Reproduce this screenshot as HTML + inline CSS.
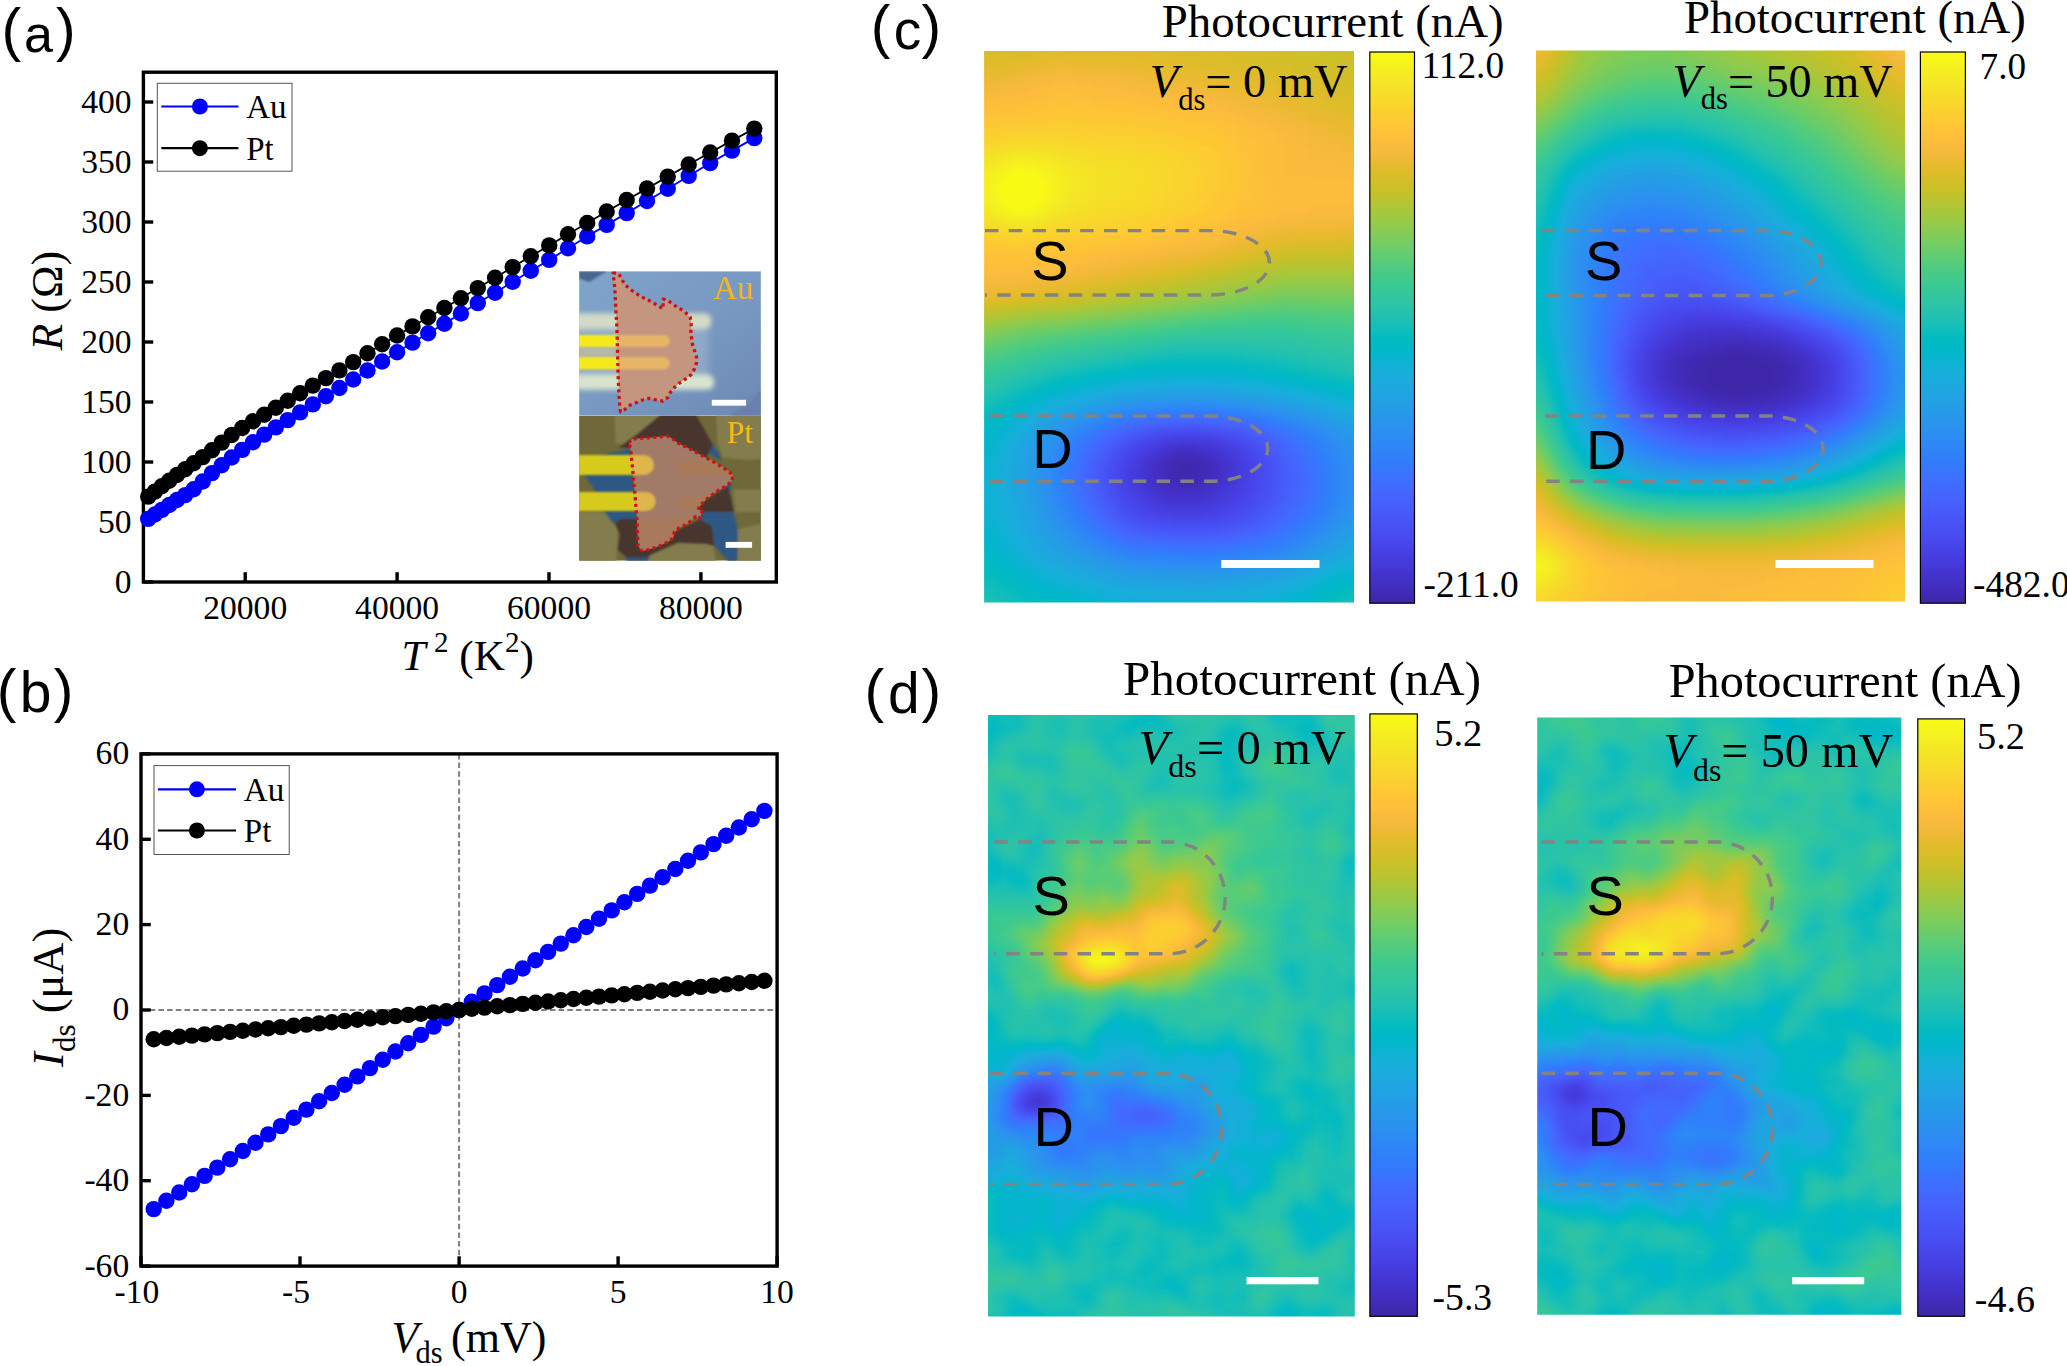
<!DOCTYPE html>
<html lang="en"><head><meta charset="utf-8"><title>Figure</title>
<style>html,body{margin:0;padding:0;background:#fff}svg{display:block}text{font-family:'Liberation Serif','Times New Roman',serif;fill:#000}.sans{font-family:'Liberation Sans','Noto Sans CJK SC',sans-serif}.it{font-style:italic}</style></head><body>
<svg width="2067" height="1366" viewBox="0 0 2067 1366">
<defs>
<linearGradient id="pg" x1="0" y1="0" x2="0" y2="1"><stop offset="0.0000" stop-color="rgb(249,251,21)"/><stop offset="0.0159" stop-color="rgb(247,245,27)"/><stop offset="0.0317" stop-color="rgb(246,239,32)"/><stop offset="0.0476" stop-color="rgb(245,233,36)"/><stop offset="0.0635" stop-color="rgb(245,227,39)"/><stop offset="0.0794" stop-color="rgb(247,220,42)"/><stop offset="0.0952" stop-color="rgb(250,214,45)"/><stop offset="0.1111" stop-color="rgb(252,207,48)"/><stop offset="0.1270" stop-color="rgb(254,201,52)"/><stop offset="0.1429" stop-color="rgb(254,195,56)"/><stop offset="0.1587" stop-color="rgb(254,190,60)"/><stop offset="0.1746" stop-color="rgb(248,186,61)"/><stop offset="0.1905" stop-color="rgb(240,186,54)"/><stop offset="0.2063" stop-color="rgb(230,187,45)"/><stop offset="0.2222" stop-color="rgb(220,189,41)"/><stop offset="0.2381" stop-color="rgb(209,191,39)"/><stop offset="0.2540" stop-color="rgb(197,194,42)"/><stop offset="0.2698" stop-color="rgb(185,196,49)"/><stop offset="0.2857" stop-color="rgb(171,199,57)"/><stop offset="0.3016" stop-color="rgb(157,201,67)"/><stop offset="0.3175" stop-color="rgb(143,203,78)"/><stop offset="0.3333" stop-color="rgb(129,204,89)"/><stop offset="0.3492" stop-color="rgb(114,205,100)"/><stop offset="0.3651" stop-color="rgb(100,205,111)"/><stop offset="0.3810" stop-color="rgb(87,204,122)"/><stop offset="0.3968" stop-color="rgb(74,203,132)"/><stop offset="0.4127" stop-color="rgb(63,202,142)"/><stop offset="0.4286" stop-color="rgb(55,200,151)"/><stop offset="0.4444" stop-color="rgb(49,198,159)"/><stop offset="0.4603" stop-color="rgb(44,196,167)"/><stop offset="0.4762" stop-color="rgb(36,193,174)"/><stop offset="0.4921" stop-color="rgb(25,191,182)"/><stop offset="0.5079" stop-color="rgb(11,189,189)"/><stop offset="0.5238" stop-color="rgb(2,186,195)"/><stop offset="0.5397" stop-color="rgb(1,184,202)"/><stop offset="0.5556" stop-color="rgb(8,181,208)"/><stop offset="0.5714" stop-color="rgb(18,177,214)"/><stop offset="0.5873" stop-color="rgb(24,173,219)"/><stop offset="0.6032" stop-color="rgb(28,169,223)"/><stop offset="0.6190" stop-color="rgb(32,165,227)"/><stop offset="0.6349" stop-color="rgb(35,160,229)"/><stop offset="0.6508" stop-color="rgb(37,155,232)"/><stop offset="0.6667" stop-color="rgb(39,151,235)"/><stop offset="0.6825" stop-color="rgb(43,145,239)"/><stop offset="0.6984" stop-color="rgb(45,140,243)"/><stop offset="0.7143" stop-color="rgb(46,135,247)"/><stop offset="0.7302" stop-color="rgb(47,129,250)"/><stop offset="0.7460" stop-color="rgb(50,124,252)"/><stop offset="0.7619" stop-color="rgb(56,117,254)"/><stop offset="0.7778" stop-color="rgb(62,111,255)"/><stop offset="0.7937" stop-color="rgb(66,105,254)"/><stop offset="0.8095" stop-color="rgb(69,99,253)"/><stop offset="0.8254" stop-color="rgb(70,94,251)"/><stop offset="0.8413" stop-color="rgb(71,88,248)"/><stop offset="0.8571" stop-color="rgb(72,82,244)"/><stop offset="0.8730" stop-color="rgb(72,77,240)"/><stop offset="0.8889" stop-color="rgb(71,71,235)"/><stop offset="0.9048" stop-color="rgb(71,65,229)"/><stop offset="0.9206" stop-color="rgb(70,60,222)"/><stop offset="0.9365" stop-color="rgb(69,55,213)"/><stop offset="0.9524" stop-color="rgb(67,50,203)"/><stop offset="0.9683" stop-color="rgb(66,46,192)"/><stop offset="0.9841" stop-color="rgb(64,42,180)"/><stop offset="1.0000" stop-color="rgb(62,38,168)"/></linearGradient>
<filter id="hfc1" filterUnits="userSpaceOnUse" x="924.1" y="-9" width="489.9" height="671.4" color-interpolation-filters="sRGB"><feGaussianBlur in="SourceGraphic" stdDeviation="10" result="b"/><feComponentTransfer in="b"><feFuncR type="table" tableValues=".242 .242 .242 .242 .242 .242 .242 .242 .242 .249 .255 .260 .266 .270 .274 .277 .279 .280 .281 .281 .280 .279 .276 .271 .264 .254 .240 .221 .202 .189 .182 .178 .177 .171 .162 .152 .146 .139 .130 .119 .108 .095 .075 .047 .021 .004 .006 .033 .070 .109 .143 .167 .186 .204 .223 .248 .282 .320 .359 .400 .443 .489 .534 .579 .623 .666 .707 .747 .785 .822 .856 .888 .918 .946 .972 .990 .996 .996 .994 .990 .982 .973 .966 .961 .960 .962 .965 .971 .977 .977 .977 .977 .977 .977 .977 .977 .977"/><feFuncG type="table" tableValues=".150 .150 .150 .150 .150 .150 .150 .150 .150 .162 .175 .188 .200 .214 .229 .245 .263 .280 .298 .315 .333 .350 .367 .385 .403 .421 .440 .459 .479 .497 .514 .531 .548 .564 .580 .595 .610 .625 .639 .653 .667 .680 .691 .702 .712 .722 .730 .738 .746 .752 .759 .766 .773 .780 .786 .792 .796 .799 .802 .803 .802 .800 .797 .792 .787 .780 .773 .765 .757 .749 .742 .736 .731 .729 .730 .740 .756 .774 .792 .811 .831 .851 .871 .891 .910 .929 .947 .966 .984 .984 .984 .984 .984 .984 .984 .984 .984"/><feFuncB type="table" tableValues=".660 .660 .660 .660 .660 .660 .660 .660 .660 .698 .733 .767 .801 .834 .861 .885 .906 .924 .939 .952 .964 .974 .983 .989 .993 .997 .999 .997 .991 .984 .976 .966 .954 .941 .929 .918 .907 .899 .892 .883 .873 .860 .844 .826 .808 .788 .768 .747 .726 .704 .682 .659 .636 .611 .584 .556 .526 .495 .463 .428 .393 .359 .325 .291 .257 .227 .201 .179 .162 .154 .159 .171 .190 .216 .239 .238 .228 .214 .201 .190 .180 .171 .161 .153 .144 .132 .118 .101 .081 .081 .081 .081 .081 .081 .081 .081 .081"/></feComponentTransfer></filter>
<clipPath id="cpc1"><rect x="984.1" y="51" width="369.9" height="551.4"/></clipPath>
<filter id="hfc2" filterUnits="userSpaceOnUse" x="1476" y="-9.6" width="489" height="671.2" color-interpolation-filters="sRGB"><feGaussianBlur in="SourceGraphic" stdDeviation="10" result="b"/><feComponentTransfer in="b"><feFuncR type="table" tableValues=".242 .242 .242 .242 .242 .242 .242 .242 .242 .249 .255 .260 .266 .270 .274 .277 .279 .280 .281 .281 .280 .279 .276 .271 .264 .254 .240 .221 .202 .189 .182 .178 .177 .171 .162 .152 .146 .139 .130 .119 .108 .095 .075 .047 .021 .004 .006 .033 .070 .109 .143 .167 .186 .204 .223 .248 .282 .320 .359 .400 .443 .489 .534 .579 .623 .666 .707 .747 .785 .822 .856 .888 .918 .946 .972 .990 .996 .996 .994 .990 .982 .973 .966 .961 .960 .962 .965 .971 .977 .977 .977 .977 .977 .977 .977 .977 .977"/><feFuncG type="table" tableValues=".150 .150 .150 .150 .150 .150 .150 .150 .150 .162 .175 .188 .200 .214 .229 .245 .263 .280 .298 .315 .333 .350 .367 .385 .403 .421 .440 .459 .479 .497 .514 .531 .548 .564 .580 .595 .610 .625 .639 .653 .667 .680 .691 .702 .712 .722 .730 .738 .746 .752 .759 .766 .773 .780 .786 .792 .796 .799 .802 .803 .802 .800 .797 .792 .787 .780 .773 .765 .757 .749 .742 .736 .731 .729 .730 .740 .756 .774 .792 .811 .831 .851 .871 .891 .910 .929 .947 .966 .984 .984 .984 .984 .984 .984 .984 .984 .984"/><feFuncB type="table" tableValues=".660 .660 .660 .660 .660 .660 .660 .660 .660 .698 .733 .767 .801 .834 .861 .885 .906 .924 .939 .952 .964 .974 .983 .989 .993 .997 .999 .997 .991 .984 .976 .966 .954 .941 .929 .918 .907 .899 .892 .883 .873 .860 .844 .826 .808 .788 .768 .747 .726 .704 .682 .659 .636 .611 .584 .556 .526 .495 .463 .428 .393 .359 .325 .291 .257 .227 .201 .179 .162 .154 .159 .171 .190 .216 .239 .238 .228 .214 .201 .190 .180 .171 .161 .153 .144 .132 .118 .101 .081 .081 .081 .081 .081 .081 .081 .081 .081"/></feComponentTransfer></filter>
<clipPath id="cpc2"><rect x="1536" y="50.4" width="369" height="551.2"/></clipPath>
<filter id="hfd1" filterUnits="userSpaceOnUse" x="928" y="654.9" width="486.8" height="721.7" color-interpolation-filters="sRGB"><feGaussianBlur in="SourceGraphic" stdDeviation="7" result="b"/><feTurbulence type="fractalNoise" baseFrequency="0.02" numOctaves="2" seed="3" result="t"/><feColorMatrix in="t" type="matrix" values="1 0 0 0 0  1 0 0 0 0  1 0 0 0 0  0 0 0 0 1" result="n"/><feComposite in="b" in2="n" operator="arithmetic" k1="0" k2="1" k3="0.150" k4="-0.075" result="m"/><feComponentTransfer in="m"><feFuncR type="table" tableValues=".242 .242 .242 .242 .242 .242 .242 .242 .242 .249 .255 .260 .266 .270 .274 .277 .279 .280 .281 .281 .280 .279 .276 .271 .264 .254 .240 .221 .202 .189 .182 .178 .177 .171 .162 .152 .146 .139 .130 .119 .108 .095 .075 .047 .021 .004 .006 .033 .070 .109 .143 .167 .186 .204 .223 .248 .282 .320 .359 .400 .443 .489 .534 .579 .623 .666 .707 .747 .785 .822 .856 .888 .918 .946 .972 .990 .996 .996 .994 .990 .982 .973 .966 .961 .960 .962 .965 .971 .977 .977 .977 .977 .977 .977 .977 .977 .977"/><feFuncG type="table" tableValues=".150 .150 .150 .150 .150 .150 .150 .150 .150 .162 .175 .188 .200 .214 .229 .245 .263 .280 .298 .315 .333 .350 .367 .385 .403 .421 .440 .459 .479 .497 .514 .531 .548 .564 .580 .595 .610 .625 .639 .653 .667 .680 .691 .702 .712 .722 .730 .738 .746 .752 .759 .766 .773 .780 .786 .792 .796 .799 .802 .803 .802 .800 .797 .792 .787 .780 .773 .765 .757 .749 .742 .736 .731 .729 .730 .740 .756 .774 .792 .811 .831 .851 .871 .891 .910 .929 .947 .966 .984 .984 .984 .984 .984 .984 .984 .984 .984"/><feFuncB type="table" tableValues=".660 .660 .660 .660 .660 .660 .660 .660 .660 .698 .733 .767 .801 .834 .861 .885 .906 .924 .939 .952 .964 .974 .983 .989 .993 .997 .999 .997 .991 .984 .976 .966 .954 .941 .929 .918 .907 .899 .892 .883 .873 .860 .844 .826 .808 .788 .768 .747 .726 .704 .682 .659 .636 .611 .584 .556 .526 .495 .463 .428 .393 .359 .325 .291 .257 .227 .201 .179 .162 .154 .159 .171 .190 .216 .239 .238 .228 .214 .201 .190 .180 .171 .161 .153 .144 .132 .118 .101 .081 .081 .081 .081 .081 .081 .081 .081 .081"/></feComponentTransfer></filter>
<clipPath id="cpd1"><rect x="988" y="714.9" width="366.8" height="601.7"/></clipPath>
<filter id="hfd2" filterUnits="userSpaceOnUse" x="1477.2" y="657.6" width="484.2" height="717.2" color-interpolation-filters="sRGB"><feGaussianBlur in="SourceGraphic" stdDeviation="7" result="b"/><feTurbulence type="fractalNoise" baseFrequency="0.02" numOctaves="2" seed="11" result="t"/><feColorMatrix in="t" type="matrix" values="1 0 0 0 0  1 0 0 0 0  1 0 0 0 0  0 0 0 0 1" result="n"/><feComposite in="b" in2="n" operator="arithmetic" k1="0" k2="1" k3="0.150" k4="-0.075" result="m"/><feComponentTransfer in="m"><feFuncR type="table" tableValues=".242 .242 .242 .242 .242 .242 .242 .242 .242 .249 .255 .260 .266 .270 .274 .277 .279 .280 .281 .281 .280 .279 .276 .271 .264 .254 .240 .221 .202 .189 .182 .178 .177 .171 .162 .152 .146 .139 .130 .119 .108 .095 .075 .047 .021 .004 .006 .033 .070 .109 .143 .167 .186 .204 .223 .248 .282 .320 .359 .400 .443 .489 .534 .579 .623 .666 .707 .747 .785 .822 .856 .888 .918 .946 .972 .990 .996 .996 .994 .990 .982 .973 .966 .961 .960 .962 .965 .971 .977 .977 .977 .977 .977 .977 .977 .977 .977"/><feFuncG type="table" tableValues=".150 .150 .150 .150 .150 .150 .150 .150 .150 .162 .175 .188 .200 .214 .229 .245 .263 .280 .298 .315 .333 .350 .367 .385 .403 .421 .440 .459 .479 .497 .514 .531 .548 .564 .580 .595 .610 .625 .639 .653 .667 .680 .691 .702 .712 .722 .730 .738 .746 .752 .759 .766 .773 .780 .786 .792 .796 .799 .802 .803 .802 .800 .797 .792 .787 .780 .773 .765 .757 .749 .742 .736 .731 .729 .730 .740 .756 .774 .792 .811 .831 .851 .871 .891 .910 .929 .947 .966 .984 .984 .984 .984 .984 .984 .984 .984 .984"/><feFuncB type="table" tableValues=".660 .660 .660 .660 .660 .660 .660 .660 .660 .698 .733 .767 .801 .834 .861 .885 .906 .924 .939 .952 .964 .974 .983 .989 .993 .997 .999 .997 .991 .984 .976 .966 .954 .941 .929 .918 .907 .899 .892 .883 .873 .860 .844 .826 .808 .788 .768 .747 .726 .704 .682 .659 .636 .611 .584 .556 .526 .495 .463 .428 .393 .359 .325 .291 .257 .227 .201 .179 .162 .154 .159 .171 .190 .216 .239 .238 .228 .214 .201 .190 .180 .171 .161 .153 .144 .132 .118 .101 .081 .081 .081 .081 .081 .081 .081 .081 .081"/></feComponentTransfer></filter>
<clipPath id="cpd2"><rect x="1537.2" y="717.6" width="364.2" height="597.2"/></clipPath>
</defs>
<rect width="2067" height="1366" fill="#fff"/>
<text class="sans" font-size="59"><tspan x="1.4" y="50">(</tspan><tspan x="24" y="51.5" font-size="52">a</tspan><tspan x="56" y="50">)</tspan></text>
<text class="sans" font-size="59"><tspan x="-3.2" y="710.8">(</tspan><tspan x="19.8" y="712" font-size="57">b</tspan><tspan x="53.7" y="710.8">)</tspan></text>
<text class="sans" font-size="59"><tspan x="870.7" y="46.8">(</tspan><tspan x="893.8" y="49.2" font-size="55">c</tspan><tspan x="921.4" y="46.8">)</tspan></text>
<text class="sans" font-size="59"><tspan x="864.5" y="710.8">(</tspan><tspan x="888.1" y="712.5" font-size="57">d</tspan><tspan x="921.4" y="710.8">)</tspan></text>
<rect x="143.4" y="72.2" width="632.9" height="509.8" fill="none" stroke="#000" stroke-width="3.4"/>
<g stroke="#000" stroke-width="3.4"><line x1="143.4" y1="582" x2="153.2" y2="582"/><line x1="143.4" y1="522" x2="153.2" y2="522"/><line x1="143.4" y1="462" x2="153.2" y2="462"/><line x1="143.4" y1="402" x2="153.2" y2="402"/><line x1="143.4" y1="342" x2="153.2" y2="342"/><line x1="143.4" y1="282" x2="153.2" y2="282"/><line x1="143.4" y1="222" x2="153.2" y2="222"/><line x1="143.4" y1="162" x2="153.2" y2="162"/><line x1="143.4" y1="102" x2="153.2" y2="102"/><line x1="245.2" y1="582" x2="245.2" y2="572.2"/><line x1="397.1" y1="582" x2="397.1" y2="572.2"/><line x1="549" y1="582" x2="549" y2="572.2"/><line x1="700.9" y1="582" x2="700.9" y2="572.2"/></g>
<polyline points="148.2,518.9 154.8,514.5 161.8,509.9 169.2,505 177,500 185.2,495.1 193.7,489.3 202.7,481.5 212,473.1 221.7,465.2 231.7,457.5 242.2,449.9 253,442.2 264.2,434.6 275.8,427.4 287.7,420.1 300.1,412.4 312.8,404.4 325.9,396.2 339.4,388 353.2,379.5 367.5,370.5 382.1,361.5 397.1,352.2 412.5,342.6 428.2,333.3 444.4,323.8 460.9,313.5 477.8,303.1 495.1,292.7 512.7,281.8 530.8,270.8 549.2,259.9 568,248.2 587.2,236.4 606.7,224.9 626.7,213.1 647,201 667.7,188.7 688.7,175.9 710.2,163.1 732,150.6 754.3,138.1" fill="none" stroke="#0000ff" stroke-width="1.8"/><g fill="#0000ff"><circle cx="148.2" cy="518.9" r="8.2"/><circle cx="154.8" cy="514.5" r="8.2"/><circle cx="161.8" cy="509.9" r="8.2"/><circle cx="169.2" cy="505" r="8.2"/><circle cx="177" cy="500" r="8.2"/><circle cx="185.2" cy="495.1" r="8.2"/><circle cx="193.7" cy="489.3" r="8.2"/><circle cx="202.7" cy="481.5" r="8.2"/><circle cx="212" cy="473.1" r="8.2"/><circle cx="221.7" cy="465.2" r="8.2"/><circle cx="231.7" cy="457.5" r="8.2"/><circle cx="242.2" cy="449.9" r="8.2"/><circle cx="253" cy="442.2" r="8.2"/><circle cx="264.2" cy="434.6" r="8.2"/><circle cx="275.8" cy="427.4" r="8.2"/><circle cx="287.7" cy="420.1" r="8.2"/><circle cx="300.1" cy="412.4" r="8.2"/><circle cx="312.8" cy="404.4" r="8.2"/><circle cx="325.9" cy="396.2" r="8.2"/><circle cx="339.4" cy="388" r="8.2"/><circle cx="353.2" cy="379.5" r="8.2"/><circle cx="367.5" cy="370.5" r="8.2"/><circle cx="382.1" cy="361.5" r="8.2"/><circle cx="397.1" cy="352.2" r="8.2"/><circle cx="412.5" cy="342.6" r="8.2"/><circle cx="428.2" cy="333.3" r="8.2"/><circle cx="444.4" cy="323.8" r="8.2"/><circle cx="460.9" cy="313.5" r="8.2"/><circle cx="477.8" cy="303.1" r="8.2"/><circle cx="495.1" cy="292.7" r="8.2"/><circle cx="512.7" cy="281.8" r="8.2"/><circle cx="530.8" cy="270.8" r="8.2"/><circle cx="549.2" cy="259.9" r="8.2"/><circle cx="568" cy="248.2" r="8.2"/><circle cx="587.2" cy="236.4" r="8.2"/><circle cx="606.7" cy="224.9" r="8.2"/><circle cx="626.7" cy="213.1" r="8.2"/><circle cx="647" cy="201" r="8.2"/><circle cx="667.7" cy="188.7" r="8.2"/><circle cx="688.7" cy="175.9" r="8.2"/><circle cx="710.2" cy="163.1" r="8.2"/><circle cx="732" cy="150.6" r="8.2"/><circle cx="754.3" cy="138.1" r="8.2"/></g>
<polyline points="148.2,496.6 154.8,491.6 161.8,486.3 169.2,480.7 177,475 185.2,469.2 193.7,463.3 202.7,457.1 212,450.2 221.7,442.6 231.7,435 242.2,428 253,421.3 264.2,414.7 275.8,407.8 287.7,400.7 300.1,393.2 312.8,385.6 325.9,378.1 339.4,370.4 353.2,362.1 367.5,353.2 382.1,344.3 397.1,335.5 412.5,326.4 428.2,317.2 444.4,308 460.9,298.3 477.8,288.1 495.1,277.7 512.7,267.1 530.8,256.3 549.2,245.4 568,234.3 587.2,223 606.7,211.5 626.7,200 647,188.5 667.7,176.6 688.7,164.5 710.2,152.5 732,140.6 754.3,128.6" fill="none" stroke="#000" stroke-width="1.8"/><g fill="#000"><circle cx="148.2" cy="496.6" r="8.2"/><circle cx="154.8" cy="491.6" r="8.2"/><circle cx="161.8" cy="486.3" r="8.2"/><circle cx="169.2" cy="480.7" r="8.2"/><circle cx="177" cy="475" r="8.2"/><circle cx="185.2" cy="469.2" r="8.2"/><circle cx="193.7" cy="463.3" r="8.2"/><circle cx="202.7" cy="457.1" r="8.2"/><circle cx="212" cy="450.2" r="8.2"/><circle cx="221.7" cy="442.6" r="8.2"/><circle cx="231.7" cy="435" r="8.2"/><circle cx="242.2" cy="428" r="8.2"/><circle cx="253" cy="421.3" r="8.2"/><circle cx="264.2" cy="414.7" r="8.2"/><circle cx="275.8" cy="407.8" r="8.2"/><circle cx="287.7" cy="400.7" r="8.2"/><circle cx="300.1" cy="393.2" r="8.2"/><circle cx="312.8" cy="385.6" r="8.2"/><circle cx="325.9" cy="378.1" r="8.2"/><circle cx="339.4" cy="370.4" r="8.2"/><circle cx="353.2" cy="362.1" r="8.2"/><circle cx="367.5" cy="353.2" r="8.2"/><circle cx="382.1" cy="344.3" r="8.2"/><circle cx="397.1" cy="335.5" r="8.2"/><circle cx="412.5" cy="326.4" r="8.2"/><circle cx="428.2" cy="317.2" r="8.2"/><circle cx="444.4" cy="308" r="8.2"/><circle cx="460.9" cy="298.3" r="8.2"/><circle cx="477.8" cy="288.1" r="8.2"/><circle cx="495.1" cy="277.7" r="8.2"/><circle cx="512.7" cy="267.1" r="8.2"/><circle cx="530.8" cy="256.3" r="8.2"/><circle cx="549.2" cy="245.4" r="8.2"/><circle cx="568" cy="234.3" r="8.2"/><circle cx="587.2" cy="223" r="8.2"/><circle cx="606.7" cy="211.5" r="8.2"/><circle cx="626.7" cy="200" r="8.2"/><circle cx="647" cy="188.5" r="8.2"/><circle cx="667.7" cy="176.6" r="8.2"/><circle cx="688.7" cy="164.5" r="8.2"/><circle cx="710.2" cy="152.5" r="8.2"/><circle cx="732" cy="140.6" r="8.2"/><circle cx="754.3" cy="128.6" r="8.2"/></g>
<g font-size="33.6"><text x="131.5" y="592.6" text-anchor="end">0</text><text x="131.5" y="532.6" text-anchor="end">50</text><text x="131.5" y="472.6" text-anchor="end">100</text><text x="131.5" y="412.6" text-anchor="end">150</text><text x="131.5" y="352.6" text-anchor="end">200</text><text x="131.5" y="292.6" text-anchor="end">250</text><text x="131.5" y="232.6" text-anchor="end">300</text><text x="131.5" y="172.6" text-anchor="end">350</text><text x="131.5" y="112.6" text-anchor="end">400</text><text x="245.2" y="618.6" text-anchor="middle">20000</text><text x="397.1" y="618.6" text-anchor="middle">40000</text><text x="549" y="618.6" text-anchor="middle">60000</text><text x="700.9" y="618.6" text-anchor="middle">80000</text></g>
<text x="401.5" y="669.7" font-size="43.2"><tspan class="it">T</tspan><tspan dx="8.5" dy="-18" font-size="29">2</tspan><tspan dy="18"> (K</tspan><tspan dy="-18" font-size="29">2</tspan><tspan dy="18">)</tspan></text>
<text transform="translate(62.2,300.7) rotate(-90)" font-size="43.8" text-anchor="middle"><tspan class="it">R</tspan> (Ω)</text>
<rect x="157.3" y="83.3" width="134.7" height="87.9" fill="#fff" stroke="#555" stroke-width="1"/>
<line x1="161.3" y1="106.5" x2="238.4" y2="106.5" stroke="#0000ff" stroke-width="2.2"/><circle cx="199.9" cy="106.5" r="8" fill="#0000ff"/>
<line x1="161.3" y1="148.2" x2="238.4" y2="148.2" stroke="#000" stroke-width="2.2"/><circle cx="199.9" cy="148.2" r="8" fill="#000"/>
<text x="246.2" y="118" font-size="33">Au</text><text x="246.2" y="159.5" font-size="33">Pt</text>
<defs><clipPath id="ci1"><rect x="579.1" y="271.2" width="181.8" height="144.6"/></clipPath><clipPath id="ci2"><rect x="579.1" y="415.8" width="181.8" height="144.9"/></clipPath><filter id="bl1" x="-20%" y="-50%" width="140%" height="200%"><feGaussianBlur stdDeviation="2.6"/></filter><filter id="bl2" x="-20%" y="-20%" width="140%" height="140%"><feGaussianBlur stdDeviation="0.9"/></filter><linearGradient id="ibg" x1="0" y1="0" x2="1" y2="1"><stop offset="0" stop-color="#80a4ca"/><stop offset="0.6" stop-color="#7797c0"/><stop offset="1" stop-color="#6c88b2"/></linearGradient><clipPath id="cf1"><polygon points="613.1,272.9 618.8,273.5 621.6,279.2 625.6,285.4 631.3,290 640.3,296.2 649.4,300.7 657.4,305.3 663,308.7 663.3,299 668.7,301.1 674.4,305.3 684.6,311.5 690.2,317.2 691.2,324 690.8,333.1 692.5,344.4 694.8,351.2 696.5,356.9 696.5,362.6 694.2,369.4 691.4,374.5 684.6,379.6 678.9,383.5 674.4,387.5 669.8,393.2 667.6,397.7 663,401.1 656.2,400 649.4,398.3 642.6,400 635.8,402.8 630.1,405.1 624.5,409.6 620.5,411.9 619.3,401.1 618.2,378.4 617.6,355.8 617.1,333.1 615.9,310.4 614.8,287.7"/></clipPath><clipPath id="cf2"><polygon points="629,442.9 631.8,438.9 649.4,437.8 667.6,436.1 672.1,438.4 677.8,442.9 690.2,449.1 702.7,455.9 716.3,463.3 726.6,470.1 732.8,474.7 732.2,480.3 727.7,484.9 716.3,491.7 706.1,499.6 699.3,506.4 698.2,509.8 702.2,511 699.3,518.9 695.9,516.6 688,523.4 678.9,528 674.4,532 672.7,538.2 667.6,542.2 656.2,547.3 647.1,550.1 641.5,550.7 638.1,545.6 636.9,518.9 634.7,491.7 632.4,466.7 630.7,449.7"/></clipPath></defs><g clip-path="url(#ci1)"><rect x="579.1" y="271.2" width="181.8" height="144.6" fill="url(#ibg)"/><polygon points="579.1,271.2 607.4,271.2 598.4,276.3 589.3,282 579.1,278.6" fill="#4a668c" filter="url(#bl2)"/><polygon points="760.9,389.8 760.9,415.7 728.8,415.7 747,404.5" fill="#6a7fae" filter="url(#bl2)"/><g filter="url(#bl1)"><rect x="574.5" y="318.3" width="133.9" height="65.8" rx="12" fill="#a3b8cc" opacity="0.55" filter="url(#bl1)"/><rect x="572.3" y="313.2" width="139" height="15.9" rx="7" fill="#d3dbc6"/><rect x="572.3" y="374.5" width="141.8" height="15.3" rx="7" fill="#d9e4cf"/><rect x="572.3" y="347.2" width="45.4" height="9.9" fill="#b9b8a6"/></g><g filter="url(#bl2)"><rect x="558.7" y="335.1" width="111.2" height="12" rx="6" fill="#f7ea1e"/><rect x="558.7" y="357.1" width="111.2" height="12.3" rx="6.1" fill="#f7ea1e"/></g><polygon points="613.1,272.9 618.8,273.5 621.6,279.2 625.6,285.4 631.3,290 640.3,296.2 649.4,300.7 657.4,305.3 663,308.7 663.3,299 668.7,301.1 674.4,305.3 684.6,311.5 690.2,317.2 691.2,324 690.8,333.1 692.5,344.4 694.8,351.2 696.5,356.9 696.5,362.6 694.2,369.4 691.4,374.5 684.6,379.6 678.9,383.5 674.4,387.5 669.8,393.2 667.6,397.7 663,401.1 656.2,400 649.4,398.3 642.6,400 635.8,402.8 630.1,405.1 624.5,409.6 620.5,411.9 619.3,401.1 618.2,378.4 617.6,355.8 617.1,333.1 615.9,310.4 614.8,287.7" fill="#c4957f"/><g clip-path="url(#cf1)" filter="url(#bl2)"><rect x="558.7" y="335.1" width="111.2" height="12" rx="6" fill="#e6b565"/><rect x="558.7" y="357.1" width="111.2" height="12.3" rx="6.1" fill="#e6b565"/></g><polygon points="613.1,272.9 618.8,273.5 621.6,279.2 625.6,285.4 631.3,290 640.3,296.2 649.4,300.7 657.4,305.3 663,308.7 663.3,299 668.7,301.1 674.4,305.3 684.6,311.5 690.2,317.2 691.2,324 690.8,333.1 692.5,344.4 694.8,351.2 696.5,356.9 696.5,362.6 694.2,369.4 691.4,374.5 684.6,379.6 678.9,383.5 674.4,387.5 669.8,393.2 667.6,397.7 663,401.1 656.2,400 649.4,398.3 642.6,400 635.8,402.8 630.1,405.1 624.5,409.6 620.5,411.9 619.3,401.1 618.2,378.4 617.6,355.8 617.1,333.1 615.9,310.4 614.8,287.7" fill="none" stroke="#cc1212" stroke-width="3.3" stroke-linejoin="round" stroke-dasharray="3.1 3.5"/><rect x="711.8" y="399.8" width="34.3" height="5.9" fill="#fff"/><text x="713" y="298.5" font-size="33" style="fill:#f5b41c">Au</text></g><g clip-path="url(#ci2)"><rect x="579.1" y="415.8" width="181.8" height="144.9" fill="#6f6839"/><g filter="url(#bl2)"><polygon points="614.8,414.5 660.8,414.5 638.1,434.4 624.5,444 615.4,442.9" fill="#837d4d"/><polygon points="716.3,414.5 762.9,414.5 762.9,458.8 747,459.9 723.1,457.6 717.5,444" fill="#837d4d"/><polygon points="733.4,489.4 762.9,489.4 762.9,512.1 735.6,512.1" fill="#837d4d"/><polygon points="648.3,543.9 677.8,542.7 711.8,540.5 716.3,562 648.3,562" fill="#837d4d"/><polygon points="576.8,512.1 604,512.1 617.6,529.1 616.5,562 576.8,562" fill="#837d4d"/><polygon points="737.9,529.1 762.9,523.4 762.9,562 737.9,562" fill="#837d4d"/><polygon points="604,454.5 630.1,448.8 633.5,478.1 638.1,519.5 619.9,518.9 613.7,524 604,511 596.1,491.7 584.7,475.8 588.2,466.7" fill="#2d5983"/><polygon points="703.9,447.4 712.9,444 719.7,455.4 721.4,461 711.8,455.4" fill="#2d5983"/><polygon points="727.7,483.7 731.7,482.6 730,492.8 716.3,493.9" fill="#2d5983"/><polygon points="700.5,511.5 733.4,511.5 737.9,529.1 737.3,562 728.8,562 714.6,546.1 711.8,525.7 699.3,520" fill="#2d5983"/><polygon points="625.6,556.3 649.4,555.8 648.3,562 626.7,562" fill="#2d5983"/><polygon points="660.8,414.5 695.9,414.5 712.7,444.6 706.1,458.8 672.1,446.3 633.5,446.3 629,448 618.8,447.4 638.1,433.3" fill="#47342f"/><polygon points="727.7,486.6 731.1,498.5 733.9,512.1 701.6,512.1 697.6,507.6 706.1,499.1" fill="#47342f"/><polygon points="614.8,523.4 619.9,518.7 638.1,519.2 640.3,550.7 672.1,538.2 674.4,531.4 699.3,519.5 711.8,525.7 714.3,546.1 706.1,543.9 677.8,543 649.4,555.4 648.3,557.5 626.7,557.5 617.6,549.5 619.9,534.8" fill="#47342f"/></g><g filter="url(#bl2)"><rect x="558.7" y="455" width="95.3" height="19.9" rx="9.9" fill="#d6ca1a"/><rect x="558.7" y="492" width="97" height="18.9" rx="9.5" fill="#d6ca1a"/></g><polygon points="629,442.9 631.8,438.9 649.4,437.8 667.6,436.1 672.1,438.4 677.8,442.9 690.2,449.1 702.7,455.9 716.3,463.3 726.6,470.1 732.8,474.7 732.2,480.3 727.7,484.9 716.3,491.7 706.1,499.6 699.3,506.4 698.2,509.8 702.2,511 699.3,518.9 695.9,516.6 688,523.4 678.9,528 674.4,532 672.7,538.2 667.6,542.2 656.2,547.3 647.1,550.1 641.5,550.7 638.1,545.6 636.9,518.9 634.7,491.7 632.4,466.7 630.7,449.7" fill="#a27a68"/><g clip-path="url(#cf2)" filter="url(#bl2)"><rect x="558.7" y="455" width="95.3" height="19.9" rx="9.9" fill="#e0b54c"/><rect x="558.7" y="492" width="97" height="18.9" rx="9.5" fill="#e0b54c"/><rect x="677.8" y="459.9" width="60" height="15.9" rx="6" fill="#a97a5a"/><rect x="677.2" y="496.2" width="60" height="14.2" rx="6" fill="#a97a5a"/><polygon points="638.1,518.9 694.8,516.6 672.1,539.3 640.3,551.2" fill="#a9795b"/></g><polygon points="629,442.9 631.8,438.9 649.4,437.8 667.6,436.1 672.1,438.4 677.8,442.9 690.2,449.1 702.7,455.9 716.3,463.3 726.6,470.1 732.8,474.7 732.2,480.3 727.7,484.9 716.3,491.7 706.1,499.6 699.3,506.4 698.2,509.8 702.2,511 699.3,518.9 695.9,516.6 688,523.4 678.9,528 674.4,532 672.7,538.2 667.6,542.2 656.2,547.3 647.1,550.1 641.5,550.7 638.1,545.6 636.9,518.9 634.7,491.7 632.4,466.7 630.7,449.7" fill="none" stroke="#cc1212" stroke-width="3.3" stroke-linejoin="round" stroke-dasharray="3.1 3.5"/><rect x="725.6" y="541.9" width="26.5" height="5.9" fill="#fff"/><text x="726.5" y="442.9" font-size="32" style="fill:#f8b816">Pt</text></g>
<g stroke="#7f7f7f" stroke-width="2" stroke-dasharray="5.5 3.2"><line x1="459.1" y1="753.9" x2="459.1" y2="1266.1"/><line x1="141" y1="1010" x2="777.1" y2="1010"/></g>
<polyline points="153.7,1209.1 166.4,1200.8 179.2,1192.5 191.9,1184.2 204.6,1175.9 217.3,1167.6 230.1,1159.3 242.8,1151 255.5,1142.7 268.2,1134.4 280.9,1126.1 293.7,1117.8 306.4,1109.6 319.1,1101.3 331.8,1093 344.6,1084.7 357.3,1076.4 370,1068.1 382.7,1059.8 395.4,1051.5 408.2,1043.2 420.9,1034.9 433.6,1026.6 446.3,1018.3 459.1,1010 471.8,1001.7 484.5,993.4 497.2,985.1 509.9,976.8 522.7,968.5 535.4,960.2 548.1,951.9 560.8,943.6 573.5,935.3 586.3,927 599,918.7 611.7,910.4 624.4,902.2 637.2,893.9 649.9,885.6 662.6,877.3 675.3,869 688,860.7 700.8,852.4 713.5,844.1 726.2,835.8 738.9,827.5 751.7,819.2 764.4,810.9" fill="none" stroke="#0000ff" stroke-width="1.8"/><g fill="#0000ff"><circle cx="153.7" cy="1209.1" r="8.2"/><circle cx="166.4" cy="1200.8" r="8.2"/><circle cx="179.2" cy="1192.5" r="8.2"/><circle cx="191.9" cy="1184.2" r="8.2"/><circle cx="204.6" cy="1175.9" r="8.2"/><circle cx="217.3" cy="1167.6" r="8.2"/><circle cx="230.1" cy="1159.3" r="8.2"/><circle cx="242.8" cy="1151" r="8.2"/><circle cx="255.5" cy="1142.7" r="8.2"/><circle cx="268.2" cy="1134.4" r="8.2"/><circle cx="280.9" cy="1126.1" r="8.2"/><circle cx="293.7" cy="1117.8" r="8.2"/><circle cx="306.4" cy="1109.6" r="8.2"/><circle cx="319.1" cy="1101.3" r="8.2"/><circle cx="331.8" cy="1093" r="8.2"/><circle cx="344.6" cy="1084.7" r="8.2"/><circle cx="357.3" cy="1076.4" r="8.2"/><circle cx="370" cy="1068.1" r="8.2"/><circle cx="382.7" cy="1059.8" r="8.2"/><circle cx="395.4" cy="1051.5" r="8.2"/><circle cx="408.2" cy="1043.2" r="8.2"/><circle cx="420.9" cy="1034.9" r="8.2"/><circle cx="433.6" cy="1026.6" r="8.2"/><circle cx="446.3" cy="1018.3" r="8.2"/><circle cx="459.1" cy="1010" r="8.2"/><circle cx="471.8" cy="1001.7" r="8.2"/><circle cx="484.5" cy="993.4" r="8.2"/><circle cx="497.2" cy="985.1" r="8.2"/><circle cx="509.9" cy="976.8" r="8.2"/><circle cx="522.7" cy="968.5" r="8.2"/><circle cx="535.4" cy="960.2" r="8.2"/><circle cx="548.1" cy="951.9" r="8.2"/><circle cx="560.8" cy="943.6" r="8.2"/><circle cx="573.5" cy="935.3" r="8.2"/><circle cx="586.3" cy="927" r="8.2"/><circle cx="599" cy="918.7" r="8.2"/><circle cx="611.7" cy="910.4" r="8.2"/><circle cx="624.4" cy="902.2" r="8.2"/><circle cx="637.2" cy="893.9" r="8.2"/><circle cx="649.9" cy="885.6" r="8.2"/><circle cx="662.6" cy="877.3" r="8.2"/><circle cx="675.3" cy="869" r="8.2"/><circle cx="688" cy="860.7" r="8.2"/><circle cx="700.8" cy="852.4" r="8.2"/><circle cx="713.5" cy="844.1" r="8.2"/><circle cx="726.2" cy="835.8" r="8.2"/><circle cx="738.9" cy="827.5" r="8.2"/><circle cx="751.7" cy="819.2" r="8.2"/><circle cx="764.4" cy="810.9" r="8.2"/></g>
<polyline points="153.7,1039.2 166.4,1038 179.2,1036.8 191.9,1035.6 204.6,1034.4 217.3,1033.1 230.1,1031.9 242.8,1030.7 255.5,1029.5 268.2,1028.3 280.9,1027.1 293.7,1025.8 306.4,1024.6 319.1,1023.4 331.8,1022.2 344.6,1021 357.3,1019.7 370,1018.5 382.7,1017.3 395.4,1016.1 408.2,1014.9 420.9,1013.7 433.6,1012.4 446.3,1011.2 459.1,1010 471.8,1008.8 484.5,1007.6 497.2,1006.3 509.9,1005.1 522.7,1003.9 535.4,1002.7 548.1,1001.5 560.8,1000.3 573.5,999 586.3,997.8 599,996.6 611.7,995.4 624.4,994.2 637.2,992.9 649.9,991.7 662.6,990.5 675.3,989.3 688,988.1 700.8,986.9 713.5,985.6 726.2,984.4 738.9,983.2 751.7,982 764.4,980.8" fill="none" stroke="#000" stroke-width="1.8"/><g fill="#000"><circle cx="153.7" cy="1039.2" r="8.2"/><circle cx="166.4" cy="1038" r="8.2"/><circle cx="179.2" cy="1036.8" r="8.2"/><circle cx="191.9" cy="1035.6" r="8.2"/><circle cx="204.6" cy="1034.4" r="8.2"/><circle cx="217.3" cy="1033.1" r="8.2"/><circle cx="230.1" cy="1031.9" r="8.2"/><circle cx="242.8" cy="1030.7" r="8.2"/><circle cx="255.5" cy="1029.5" r="8.2"/><circle cx="268.2" cy="1028.3" r="8.2"/><circle cx="280.9" cy="1027.1" r="8.2"/><circle cx="293.7" cy="1025.8" r="8.2"/><circle cx="306.4" cy="1024.6" r="8.2"/><circle cx="319.1" cy="1023.4" r="8.2"/><circle cx="331.8" cy="1022.2" r="8.2"/><circle cx="344.6" cy="1021" r="8.2"/><circle cx="357.3" cy="1019.7" r="8.2"/><circle cx="370" cy="1018.5" r="8.2"/><circle cx="382.7" cy="1017.3" r="8.2"/><circle cx="395.4" cy="1016.1" r="8.2"/><circle cx="408.2" cy="1014.9" r="8.2"/><circle cx="420.9" cy="1013.7" r="8.2"/><circle cx="433.6" cy="1012.4" r="8.2"/><circle cx="446.3" cy="1011.2" r="8.2"/><circle cx="459.1" cy="1010" r="8.2"/><circle cx="471.8" cy="1008.8" r="8.2"/><circle cx="484.5" cy="1007.6" r="8.2"/><circle cx="497.2" cy="1006.3" r="8.2"/><circle cx="509.9" cy="1005.1" r="8.2"/><circle cx="522.7" cy="1003.9" r="8.2"/><circle cx="535.4" cy="1002.7" r="8.2"/><circle cx="548.1" cy="1001.5" r="8.2"/><circle cx="560.8" cy="1000.3" r="8.2"/><circle cx="573.5" cy="999" r="8.2"/><circle cx="586.3" cy="997.8" r="8.2"/><circle cx="599" cy="996.6" r="8.2"/><circle cx="611.7" cy="995.4" r="8.2"/><circle cx="624.4" cy="994.2" r="8.2"/><circle cx="637.2" cy="992.9" r="8.2"/><circle cx="649.9" cy="991.7" r="8.2"/><circle cx="662.6" cy="990.5" r="8.2"/><circle cx="675.3" cy="989.3" r="8.2"/><circle cx="688" cy="988.1" r="8.2"/><circle cx="700.8" cy="986.9" r="8.2"/><circle cx="713.5" cy="985.6" r="8.2"/><circle cx="726.2" cy="984.4" r="8.2"/><circle cx="738.9" cy="983.2" r="8.2"/><circle cx="751.7" cy="982" r="8.2"/><circle cx="764.4" cy="980.8" r="8.2"/></g>
<rect x="141" y="753.9" width="636.1" height="512.2" fill="none" stroke="#000" stroke-width="3.4"/>
<g stroke="#000" stroke-width="3.4"><line x1="141" y1="1266.1" x2="150.8" y2="1266.1"/><line x1="141" y1="1180.7" x2="150.8" y2="1180.7"/><line x1="141" y1="1095.4" x2="150.8" y2="1095.4"/><line x1="141" y1="1010" x2="150.8" y2="1010"/><line x1="141" y1="924.6" x2="150.8" y2="924.6"/><line x1="141" y1="839.3" x2="150.8" y2="839.3"/><line x1="141" y1="753.9" x2="150.8" y2="753.9"/><line x1="141" y1="1266.1" x2="141" y2="1256.3"/><line x1="300" y1="1266.1" x2="300" y2="1256.3"/><line x1="459.1" y1="1266.1" x2="459.1" y2="1256.3"/><line x1="618.1" y1="1266.1" x2="618.1" y2="1256.3"/><line x1="777.1" y1="1266.1" x2="777.1" y2="1256.3"/></g>
<g font-size="33.6"><text x="129.2" y="1276.5" text-anchor="end">-60</text><text x="129.2" y="1191.1" text-anchor="end">-40</text><text x="129.2" y="1105.8" text-anchor="end">-20</text><text x="129.2" y="1020.4" text-anchor="end">0</text><text x="129.2" y="935" text-anchor="end">20</text><text x="129.2" y="849.7" text-anchor="end">40</text><text x="129.2" y="764.3" text-anchor="end">60</text><text x="137" y="1303.1" text-anchor="middle">-10</text><text x="296" y="1303.1" text-anchor="middle">-5</text><text x="459.1" y="1303.1" text-anchor="middle">0</text><text x="618.1" y="1303.1" text-anchor="middle">5</text><text x="777.1" y="1303.1" text-anchor="middle">10</text></g>
<text x="391.5" y="1351.9" font-size="44"><tspan class="it">V</tspan><tspan dx="-3" dy="11.5" font-size="30.5">ds</tspan><tspan dx="-2.5" dy="-11.5"> (mV)</tspan></text>
<text transform="translate(63.4,997.3) rotate(-90)" font-size="44.5" text-anchor="middle"><tspan class="it">I</tspan><tspan dy="11.5" font-size="31">ds</tspan><tspan dy="-11.5"> (μA)</tspan></text>
<rect x="154" y="765.6" width="135.2" height="88.9" fill="#fff" stroke="#555" stroke-width="1"/>
<line x1="157.9" y1="789.3" x2="236" y2="789.3" stroke="#0000ff" stroke-width="2.2"/><circle cx="196.9" cy="789.3" r="8" fill="#0000ff"/>
<line x1="157.9" y1="830.5" x2="236" y2="830.5" stroke="#000" stroke-width="2.2"/><circle cx="196.9" cy="830.5" r="8" fill="#000"/>
<text x="243.8" y="800.5" font-size="33">Au</text><text x="243.8" y="842.2" font-size="33">Pt</text>
<g clip-path="url(#cpc1)"><g filter="url(#hfc1)" shape-rendering="crispEdges"><rect x="937.9" y="3.7" width="61.9" height="16.1" fill="#b7b7b7"/><rect x="999.5" y="3.7" width="31.1" height="16.1" fill="#b8b8b8"/><rect x="1030.3" y="3.7" width="31.1" height="16.1" fill="#b9b9b9"/><rect x="1061.2" y="3.7" width="46.5" height="16.1" fill="#bababa"/><rect x="1107.4" y="3.7" width="46.5" height="16.1" fill="#bbbbbb"/><rect x="1153.6" y="3.7" width="31.1" height="16.1" fill="#bababa"/><rect x="1184.5" y="3.7" width="46.5" height="16.1" fill="#b9b9b9"/><rect x="1230.7" y="3.7" width="31.1" height="16.1" fill="#b8b8b8"/><rect x="1261.5" y="3.7" width="31.1" height="16.1" fill="#b7b7b7"/><rect x="1292.3" y="3.7" width="31.1" height="16.1" fill="#b6b6b6"/><rect x="1323.2" y="3.7" width="77.4" height="16.1" fill="#b5b5b5"/><rect x="937.9" y="19.5" width="61.9" height="16.1" fill="#b7b7b7"/><rect x="999.5" y="19.5" width="31.1" height="16.1" fill="#b8b8b8"/><rect x="1030.3" y="19.5" width="31.1" height="16.1" fill="#b9b9b9"/><rect x="1061.2" y="19.5" width="46.5" height="16.1" fill="#bababa"/><rect x="1107.4" y="19.5" width="46.5" height="16.1" fill="#bbbbbb"/><rect x="1153.6" y="19.5" width="31.1" height="16.1" fill="#bababa"/><rect x="1184.5" y="19.5" width="46.5" height="16.1" fill="#b9b9b9"/><rect x="1230.7" y="19.5" width="31.1" height="16.1" fill="#b8b8b8"/><rect x="1261.5" y="19.5" width="31.1" height="16.1" fill="#b7b7b7"/><rect x="1292.3" y="19.5" width="31.1" height="16.1" fill="#b6b6b6"/><rect x="1323.2" y="19.5" width="77.4" height="16.1" fill="#b5b5b5"/><rect x="937.9" y="35.2" width="61.9" height="16.1" fill="#b7b7b7"/><rect x="999.5" y="35.2" width="31.1" height="16.1" fill="#b8b8b8"/><rect x="1030.3" y="35.2" width="31.1" height="16.1" fill="#b9b9b9"/><rect x="1061.2" y="35.2" width="46.5" height="16.1" fill="#bababa"/><rect x="1107.4" y="35.2" width="46.5" height="16.1" fill="#bbbbbb"/><rect x="1153.6" y="35.2" width="31.1" height="16.1" fill="#bababa"/><rect x="1184.5" y="35.2" width="46.5" height="16.1" fill="#b9b9b9"/><rect x="1230.7" y="35.2" width="31.1" height="16.1" fill="#b8b8b8"/><rect x="1261.5" y="35.2" width="31.1" height="16.1" fill="#b7b7b7"/><rect x="1292.3" y="35.2" width="31.1" height="16.1" fill="#b6b6b6"/><rect x="1323.2" y="35.2" width="77.4" height="16.1" fill="#b5b5b5"/><rect x="937.9" y="51" width="46.5" height="16.1" fill="#b9b9b9"/><rect x="984.1" y="51" width="31.1" height="16.1" fill="#bababa"/><rect x="1014.9" y="51" width="15.7" height="16.1" fill="#bbbbbb"/><rect x="1030.3" y="51" width="15.7" height="16.1" fill="#bcbcbc"/><rect x="1045.8" y="51" width="108.2" height="16.1" fill="#bdbdbd"/><rect x="1153.6" y="51" width="15.7" height="16.1" fill="#bcbcbc"/><rect x="1169" y="51" width="31.1" height="16.1" fill="#bbbbbb"/><rect x="1199.9" y="51" width="31.1" height="16.1" fill="#bababa"/><rect x="1230.7" y="51" width="31.1" height="16.1" fill="#b9b9b9"/><rect x="1261.5" y="51" width="31.1" height="16.1" fill="#b8b8b8"/><rect x="1292.3" y="51" width="31.1" height="16.1" fill="#b7b7b7"/><rect x="1323.2" y="51" width="31.1" height="16.1" fill="#b6b6b6"/><rect x="1354" y="51" width="46.5" height="16.1" fill="#b5b5b5"/><rect x="937.9" y="66.8" width="46.5" height="16.1" fill="#bebebe"/><rect x="984.1" y="66.8" width="15.7" height="16.1" fill="#bfbfbf"/><rect x="999.5" y="66.8" width="15.7" height="16.1" fill="#c0c0c0"/><rect x="1014.9" y="66.8" width="15.7" height="16.1" fill="#c2c2c2"/><rect x="1030.3" y="66.8" width="15.7" height="16.1" fill="#c3c3c3"/><rect x="1045.8" y="66.8" width="31.1" height="16.1" fill="#c5c5c5"/><rect x="1076.6" y="66.8" width="31.1" height="16.1" fill="#c4c4c4"/><rect x="1107.4" y="66.8" width="15.7" height="16.1" fill="#c3c3c3"/><rect x="1122.8" y="66.8" width="15.7" height="16.1" fill="#c2c2c2"/><rect x="1138.2" y="66.8" width="15.7" height="16.1" fill="#c1c1c1"/><rect x="1153.6" y="66.8" width="15.7" height="16.1" fill="#c0c0c0"/><rect x="1169" y="66.8" width="15.7" height="16.1" fill="#bfbfbf"/><rect x="1184.5" y="66.8" width="15.7" height="16.1" fill="#bebebe"/><rect x="1199.9" y="66.8" width="15.7" height="16.1" fill="#bdbdbd"/><rect x="1215.3" y="66.8" width="31.1" height="16.1" fill="#bcbcbc"/><rect x="1246.1" y="66.8" width="31.1" height="16.1" fill="#bbbbbb"/><rect x="1276.9" y="66.8" width="15.7" height="16.1" fill="#bababa"/><rect x="1292.3" y="66.8" width="31.1" height="16.1" fill="#b9b9b9"/><rect x="1323.2" y="66.8" width="15.7" height="16.1" fill="#b8b8b8"/><rect x="1338.6" y="66.8" width="61.9" height="16.1" fill="#b7b7b7"/><rect x="937.9" y="82.5" width="46.5" height="16.1" fill="#c3c3c3"/><rect x="984.1" y="82.5" width="15.7" height="16.1" fill="#c4c4c4"/><rect x="999.5" y="82.5" width="15.7" height="16.1" fill="#c5c5c5"/><rect x="1014.9" y="82.5" width="15.7" height="16.1" fill="#c6c6c6"/><rect x="1030.3" y="82.5" width="15.7" height="16.1" fill="#c7c7c7"/><rect x="1045.8" y="82.5" width="31.1" height="16.1" fill="#c9c9c9"/><rect x="1076.6" y="82.5" width="15.7" height="16.1" fill="#c8c8c8"/><rect x="1092" y="82.5" width="31.1" height="16.1" fill="#c7c7c7"/><rect x="1122.8" y="82.5" width="15.7" height="16.1" fill="#c6c6c6"/><rect x="1138.2" y="82.5" width="15.7" height="16.1" fill="#c5c5c5"/><rect x="1153.6" y="82.5" width="15.7" height="16.1" fill="#c4c4c4"/><rect x="1169" y="82.5" width="31.1" height="16.1" fill="#c3c3c3"/><rect x="1199.9" y="82.5" width="15.7" height="16.1" fill="#c2c2c2"/><rect x="1215.3" y="82.5" width="15.7" height="16.1" fill="#c1c1c1"/><rect x="1230.7" y="82.5" width="15.7" height="16.1" fill="#c0c0c0"/><rect x="1246.1" y="82.5" width="15.7" height="16.1" fill="#bfbfbf"/><rect x="1261.5" y="82.5" width="15.7" height="16.1" fill="#bebebe"/><rect x="1276.9" y="82.5" width="15.7" height="16.1" fill="#bdbdbd"/><rect x="1292.3" y="82.5" width="15.7" height="16.1" fill="#bcbcbc"/><rect x="1307.8" y="82.5" width="15.7" height="16.1" fill="#bbbbbb"/><rect x="1323.2" y="82.5" width="15.7" height="16.1" fill="#bababa"/><rect x="1338.6" y="82.5" width="61.9" height="16.1" fill="#b9b9b9"/><rect x="937.9" y="98.3" width="61.9" height="16.1" fill="#c8c8c8"/><rect x="999.5" y="98.3" width="31.1" height="16.1" fill="#c9c9c9"/><rect x="1030.3" y="98.3" width="15.7" height="16.1" fill="#cacaca"/><rect x="1045.8" y="98.3" width="46.5" height="16.1" fill="#cbcbcb"/><rect x="1092" y="98.3" width="46.5" height="16.1" fill="#cacaca"/><rect x="1138.2" y="98.3" width="46.5" height="16.1" fill="#c9c9c9"/><rect x="1184.5" y="98.3" width="15.7" height="16.1" fill="#c8c8c8"/><rect x="1199.9" y="98.3" width="15.7" height="16.1" fill="#c7c7c7"/><rect x="1215.3" y="98.3" width="15.7" height="16.1" fill="#c6c6c6"/><rect x="1230.7" y="98.3" width="15.7" height="16.1" fill="#c4c4c4"/><rect x="1246.1" y="98.3" width="15.7" height="16.1" fill="#c2c2c2"/><rect x="1261.5" y="98.3" width="15.7" height="16.1" fill="#c1c1c1"/><rect x="1276.9" y="98.3" width="15.7" height="16.1" fill="#bfbfbf"/><rect x="1292.3" y="98.3" width="15.7" height="16.1" fill="#bebebe"/><rect x="1307.8" y="98.3" width="15.7" height="16.1" fill="#bdbdbd"/><rect x="1323.2" y="98.3" width="15.7" height="16.1" fill="#bcbcbc"/><rect x="1338.6" y="98.3" width="61.9" height="16.1" fill="#bbbbbb"/><rect x="937.9" y="114" width="77.4" height="16.1" fill="#cdcdcd"/><rect x="1014.9" y="114" width="31.1" height="16.1" fill="#cecece"/><rect x="1045.8" y="114" width="61.9" height="16.1" fill="#cfcfcf"/><rect x="1107.4" y="114" width="46.5" height="16.1" fill="#cecece"/><rect x="1153.6" y="114" width="15.7" height="16.1" fill="#cdcdcd"/><rect x="1169" y="114" width="31.1" height="16.1" fill="#cccccc"/><rect x="1199.9" y="114" width="15.7" height="16.1" fill="#cbcbcb"/><rect x="1215.3" y="114" width="15.7" height="16.1" fill="#cacaca"/><rect x="1230.7" y="114" width="15.7" height="16.1" fill="#c8c8c8"/><rect x="1246.1" y="114" width="15.7" height="16.1" fill="#c7c7c7"/><rect x="1261.5" y="114" width="15.7" height="16.1" fill="#c5c5c5"/><rect x="1276.9" y="114" width="15.7" height="16.1" fill="#c4c4c4"/><rect x="1292.3" y="114" width="15.7" height="16.1" fill="#c2c2c2"/><rect x="1307.8" y="114" width="15.7" height="16.1" fill="#c1c1c1"/><rect x="1323.2" y="114" width="15.7" height="16.1" fill="#c0c0c0"/><rect x="1338.6" y="114" width="61.9" height="16.1" fill="#bebebe"/><rect x="937.9" y="129.8" width="46.5" height="16.1" fill="#d2d2d2"/><rect x="984.1" y="129.8" width="15.7" height="16.1" fill="#d3d3d3"/><rect x="999.5" y="129.8" width="77.4" height="16.1" fill="#d4d4d4"/><rect x="1076.6" y="129.8" width="61.9" height="16.1" fill="#d3d3d3"/><rect x="1138.2" y="129.8" width="15.7" height="16.1" fill="#d2d2d2"/><rect x="1153.6" y="129.8" width="15.7" height="16.1" fill="#d1d1d1"/><rect x="1169" y="129.8" width="15.7" height="16.1" fill="#d0d0d0"/><rect x="1184.5" y="129.8" width="15.7" height="16.1" fill="#cfcfcf"/><rect x="1199.9" y="129.8" width="15.7" height="16.1" fill="#cecece"/><rect x="1215.3" y="129.8" width="15.7" height="16.1" fill="#cdcdcd"/><rect x="1230.7" y="129.8" width="15.7" height="16.1" fill="#cbcbcb"/><rect x="1246.1" y="129.8" width="15.7" height="16.1" fill="#cacaca"/><rect x="1261.5" y="129.8" width="15.7" height="16.1" fill="#c8c8c8"/><rect x="1276.9" y="129.8" width="15.7" height="16.1" fill="#c7c7c7"/><rect x="1292.3" y="129.8" width="15.7" height="16.1" fill="#c5c5c5"/><rect x="1307.8" y="129.8" width="15.7" height="16.1" fill="#c4c4c4"/><rect x="1323.2" y="129.8" width="15.7" height="16.1" fill="#c2c2c2"/><rect x="1338.6" y="129.8" width="15.7" height="16.1" fill="#c1c1c1"/><rect x="1354" y="129.8" width="46.5" height="16.1" fill="#c0c0c0"/><rect x="937.9" y="145.5" width="46.5" height="16.1" fill="#d9d9d9"/><rect x="984.1" y="145.5" width="15.7" height="16.1" fill="#dbdbdb"/><rect x="999.5" y="145.5" width="15.7" height="16.1" fill="#dddddd"/><rect x="1014.9" y="145.5" width="15.7" height="16.1" fill="#dfdfdf"/><rect x="1030.3" y="145.5" width="15.7" height="16.1" fill="#dedede"/><rect x="1045.8" y="145.5" width="15.7" height="16.1" fill="#dcdcdc"/><rect x="1061.2" y="145.5" width="15.7" height="16.1" fill="#dbdbdb"/><rect x="1076.6" y="145.5" width="15.7" height="16.1" fill="#d9d9d9"/><rect x="1092" y="145.5" width="31.1" height="16.1" fill="#d8d8d8"/><rect x="1122.8" y="145.5" width="15.7" height="16.1" fill="#d7d7d7"/><rect x="1138.2" y="145.5" width="15.7" height="16.1" fill="#d6d6d6"/><rect x="1153.6" y="145.5" width="15.7" height="16.1" fill="#d5d5d5"/><rect x="1169" y="145.5" width="15.7" height="16.1" fill="#d4d4d4"/><rect x="1184.5" y="145.5" width="15.7" height="16.1" fill="#d2d2d2"/><rect x="1199.9" y="145.5" width="15.7" height="16.1" fill="#d1d1d1"/><rect x="1215.3" y="145.5" width="15.7" height="16.1" fill="#cfcfcf"/><rect x="1230.7" y="145.5" width="15.7" height="16.1" fill="#cccccc"/><rect x="1246.1" y="145.5" width="15.7" height="16.1" fill="#cacaca"/><rect x="1261.5" y="145.5" width="15.7" height="16.1" fill="#c8c8c8"/><rect x="1276.9" y="145.5" width="31.1" height="16.1" fill="#c6c6c6"/><rect x="1307.8" y="145.5" width="31.1" height="16.1" fill="#c5c5c5"/><rect x="1338.6" y="145.5" width="61.9" height="16.1" fill="#c4c4c4"/><rect x="937.9" y="161.3" width="46.5" height="16.1" fill="#dfdfdf"/><rect x="984.1" y="161.3" width="15.7" height="16.1" fill="#e1e1e1"/><rect x="999.5" y="161.3" width="15.7" height="16.1" fill="#e6e6e6"/><rect x="1014.9" y="161.3" width="15.7" height="16.1" fill="#e9e9e9"/><rect x="1030.3" y="161.3" width="15.7" height="16.1" fill="#e6e6e6"/><rect x="1045.8" y="161.3" width="15.7" height="16.1" fill="#e2e2e2"/><rect x="1061.2" y="161.3" width="15.7" height="16.1" fill="#dfdfdf"/><rect x="1076.6" y="161.3" width="15.7" height="16.1" fill="#dddddd"/><rect x="1092" y="161.3" width="31.1" height="16.1" fill="#dbdbdb"/><rect x="1122.8" y="161.3" width="15.7" height="16.1" fill="#dadada"/><rect x="1138.2" y="161.3" width="15.7" height="16.1" fill="#d9d9d9"/><rect x="1153.6" y="161.3" width="15.7" height="16.1" fill="#d7d7d7"/><rect x="1169" y="161.3" width="15.7" height="16.1" fill="#d6d6d6"/><rect x="1184.5" y="161.3" width="15.7" height="16.1" fill="#d4d4d4"/><rect x="1199.9" y="161.3" width="15.7" height="16.1" fill="#d2d2d2"/><rect x="1215.3" y="161.3" width="15.7" height="16.1" fill="#cfcfcf"/><rect x="1230.7" y="161.3" width="15.7" height="16.1" fill="#cdcdcd"/><rect x="1246.1" y="161.3" width="15.7" height="16.1" fill="#cacaca"/><rect x="1261.5" y="161.3" width="15.7" height="16.1" fill="#c8c8c8"/><rect x="1276.9" y="161.3" width="123.6" height="16.1" fill="#c6c6c6"/><rect x="937.9" y="177" width="46.5" height="16.1" fill="#e3e3e3"/><rect x="984.1" y="177" width="15.7" height="16.1" fill="#e6e6e6"/><rect x="999.5" y="177" width="15.7" height="16.1" fill="#ededed"/><rect x="1014.9" y="177" width="15.7" height="16.1" fill="#f2f2f2"/><rect x="1030.3" y="177" width="15.7" height="16.1" fill="#ececec"/><rect x="1045.8" y="177" width="15.7" height="16.1" fill="#e5e5e5"/><rect x="1061.2" y="177" width="15.7" height="16.1" fill="#e1e1e1"/><rect x="1076.6" y="177" width="15.7" height="16.1" fill="#dedede"/><rect x="1092" y="177" width="31.1" height="16.1" fill="#dcdcdc"/><rect x="1122.8" y="177" width="15.7" height="16.1" fill="#dbdbdb"/><rect x="1138.2" y="177" width="15.7" height="16.1" fill="#d9d9d9"/><rect x="1153.6" y="177" width="15.7" height="16.1" fill="#d7d7d7"/><rect x="1169" y="177" width="15.7" height="16.1" fill="#d5d5d5"/><rect x="1184.5" y="177" width="15.7" height="16.1" fill="#d3d3d3"/><rect x="1199.9" y="177" width="15.7" height="16.1" fill="#d1d1d1"/><rect x="1215.3" y="177" width="15.7" height="16.1" fill="#cfcfcf"/><rect x="1230.7" y="177" width="15.7" height="16.1" fill="#cdcdcd"/><rect x="1246.1" y="177" width="15.7" height="16.1" fill="#cbcbcb"/><rect x="1261.5" y="177" width="15.7" height="16.1" fill="#c9c9c9"/><rect x="1276.9" y="177" width="123.6" height="16.1" fill="#c7c7c7"/><rect x="937.9" y="192.8" width="46.5" height="16.1" fill="#e1e1e1"/><rect x="984.1" y="192.8" width="15.7" height="16.1" fill="#e4e4e4"/><rect x="999.5" y="192.8" width="15.7" height="16.1" fill="#ebebeb"/><rect x="1014.9" y="192.8" width="15.7" height="16.1" fill="#f0f0f0"/><rect x="1030.3" y="192.8" width="15.7" height="16.1" fill="#eaeaea"/><rect x="1045.8" y="192.8" width="15.7" height="16.1" fill="#e3e3e3"/><rect x="1061.2" y="192.8" width="15.7" height="16.1" fill="#dfdfdf"/><rect x="1076.6" y="192.8" width="15.7" height="16.1" fill="#dddddd"/><rect x="1092" y="192.8" width="15.7" height="16.1" fill="#dbdbdb"/><rect x="1107.4" y="192.8" width="15.7" height="16.1" fill="#dadada"/><rect x="1122.8" y="192.8" width="15.7" height="16.1" fill="#d9d9d9"/><rect x="1138.2" y="192.8" width="15.7" height="16.1" fill="#d7d7d7"/><rect x="1153.6" y="192.8" width="15.7" height="16.1" fill="#d6d6d6"/><rect x="1169" y="192.8" width="15.7" height="16.1" fill="#d4d4d4"/><rect x="1184.5" y="192.8" width="15.7" height="16.1" fill="#d2d2d2"/><rect x="1199.9" y="192.8" width="15.7" height="16.1" fill="#d0d0d0"/><rect x="1215.3" y="192.8" width="15.7" height="16.1" fill="#cecece"/><rect x="1230.7" y="192.8" width="15.7" height="16.1" fill="#cccccc"/><rect x="1246.1" y="192.8" width="15.7" height="16.1" fill="#cacaca"/><rect x="1261.5" y="192.8" width="15.7" height="16.1" fill="#c9c9c9"/><rect x="1276.9" y="192.8" width="31.1" height="16.1" fill="#c8c8c8"/><rect x="1307.8" y="192.8" width="92.8" height="16.1" fill="#c7c7c7"/><rect x="937.9" y="208.5" width="46.5" height="16.1" fill="#dddddd"/><rect x="984.1" y="208.5" width="15.7" height="16.1" fill="#dfdfdf"/><rect x="999.5" y="208.5" width="15.7" height="16.1" fill="#e4e4e4"/><rect x="1014.9" y="208.5" width="15.7" height="16.1" fill="#e8e8e8"/><rect x="1030.3" y="208.5" width="15.7" height="16.1" fill="#e3e3e3"/><rect x="1045.8" y="208.5" width="15.7" height="16.1" fill="#dedede"/><rect x="1061.2" y="208.5" width="15.7" height="16.1" fill="#dbdbdb"/><rect x="1076.6" y="208.5" width="15.7" height="16.1" fill="#dadada"/><rect x="1092" y="208.5" width="15.7" height="16.1" fill="#d8d8d8"/><rect x="1107.4" y="208.5" width="15.7" height="16.1" fill="#d7d7d7"/><rect x="1122.8" y="208.5" width="15.7" height="16.1" fill="#d6d6d6"/><rect x="1138.2" y="208.5" width="15.7" height="16.1" fill="#d5d5d5"/><rect x="1153.6" y="208.5" width="15.7" height="16.1" fill="#d3d3d3"/><rect x="1169" y="208.5" width="15.7" height="16.1" fill="#d1d1d1"/><rect x="1184.5" y="208.5" width="15.7" height="16.1" fill="#d0d0d0"/><rect x="1199.9" y="208.5" width="15.7" height="16.1" fill="#cecece"/><rect x="1215.3" y="208.5" width="15.7" height="16.1" fill="#cccccc"/><rect x="1230.7" y="208.5" width="15.7" height="16.1" fill="#cacaca"/><rect x="1246.1" y="208.5" width="15.7" height="16.1" fill="#c9c9c9"/><rect x="1261.5" y="208.5" width="15.7" height="16.1" fill="#c8c8c8"/><rect x="1276.9" y="208.5" width="31.1" height="16.1" fill="#c7c7c7"/><rect x="1307.8" y="208.5" width="46.5" height="16.1" fill="#c6c6c6"/><rect x="1354" y="208.5" width="46.5" height="16.1" fill="#c5c5c5"/><rect x="937.9" y="224.3" width="46.5" height="16.1" fill="#d3d3d3"/><rect x="984.1" y="224.3" width="15.7" height="16.1" fill="#d4d4d4"/><rect x="999.5" y="224.3" width="15.7" height="16.1" fill="#d7d7d7"/><rect x="1014.9" y="224.3" width="15.7" height="16.1" fill="#d8d8d8"/><rect x="1030.3" y="224.3" width="15.7" height="16.1" fill="#d6d6d6"/><rect x="1045.8" y="224.3" width="15.7" height="16.1" fill="#d4d4d4"/><rect x="1061.2" y="224.3" width="15.7" height="16.1" fill="#d3d3d3"/><rect x="1076.6" y="224.3" width="15.7" height="16.1" fill="#d2d2d2"/><rect x="1092" y="224.3" width="31.1" height="16.1" fill="#d1d1d1"/><rect x="1122.8" y="224.3" width="15.7" height="16.1" fill="#d0d0d0"/><rect x="1138.2" y="224.3" width="15.7" height="16.1" fill="#cfcfcf"/><rect x="1153.6" y="224.3" width="15.7" height="16.1" fill="#cecece"/><rect x="1169" y="224.3" width="15.7" height="16.1" fill="#cccccc"/><rect x="1184.5" y="224.3" width="15.7" height="16.1" fill="#cbcbcb"/><rect x="1199.9" y="224.3" width="15.7" height="16.1" fill="#cacaca"/><rect x="1215.3" y="224.3" width="15.7" height="16.1" fill="#c8c8c8"/><rect x="1230.7" y="224.3" width="15.7" height="16.1" fill="#c6c6c6"/><rect x="1246.1" y="224.3" width="15.7" height="16.1" fill="#c4c4c4"/><rect x="1261.5" y="224.3" width="15.7" height="16.1" fill="#c2c2c2"/><rect x="1276.9" y="224.3" width="15.7" height="16.1" fill="#c1c1c1"/><rect x="1292.3" y="224.3" width="46.5" height="16.1" fill="#c0c0c0"/><rect x="1338.6" y="224.3" width="61.9" height="16.1" fill="#bfbfbf"/><rect x="937.9" y="240.1" width="123.6" height="16.1" fill="#cccccc"/><rect x="1061.2" y="240.1" width="31.1" height="16.1" fill="#cbcbcb"/><rect x="1092" y="240.1" width="31.1" height="16.1" fill="#cacaca"/><rect x="1122.8" y="240.1" width="15.7" height="16.1" fill="#c9c9c9"/><rect x="1138.2" y="240.1" width="15.7" height="16.1" fill="#c8c8c8"/><rect x="1153.6" y="240.1" width="15.7" height="16.1" fill="#c7c7c7"/><rect x="1169" y="240.1" width="15.7" height="16.1" fill="#c6c6c6"/><rect x="1184.5" y="240.1" width="15.7" height="16.1" fill="#c5c5c5"/><rect x="1199.9" y="240.1" width="15.7" height="16.1" fill="#c4c4c4"/><rect x="1215.3" y="240.1" width="15.7" height="16.1" fill="#c2c2c2"/><rect x="1230.7" y="240.1" width="15.7" height="16.1" fill="#c0c0c0"/><rect x="1246.1" y="240.1" width="15.7" height="16.1" fill="#bebebe"/><rect x="1261.5" y="240.1" width="15.7" height="16.1" fill="#bbbbbb"/><rect x="1276.9" y="240.1" width="15.7" height="16.1" fill="#bababa"/><rect x="1292.3" y="240.1" width="46.5" height="16.1" fill="#b9b9b9"/><rect x="1338.6" y="240.1" width="61.9" height="16.1" fill="#b8b8b8"/><rect x="937.9" y="255.8" width="92.8" height="16.1" fill="#cacaca"/><rect x="1030.3" y="255.8" width="31.1" height="16.1" fill="#c9c9c9"/><rect x="1061.2" y="255.8" width="15.7" height="16.1" fill="#c8c8c8"/><rect x="1076.6" y="255.8" width="15.7" height="16.1" fill="#c7c7c7"/><rect x="1092" y="255.8" width="15.7" height="16.1" fill="#c5c5c5"/><rect x="1107.4" y="255.8" width="15.7" height="16.1" fill="#c4c4c4"/><rect x="1122.8" y="255.8" width="15.7" height="16.1" fill="#c3c3c3"/><rect x="1138.2" y="255.8" width="15.7" height="16.1" fill="#c1c1c1"/><rect x="1153.6" y="255.8" width="15.7" height="16.1" fill="#c0c0c0"/><rect x="1169" y="255.8" width="15.7" height="16.1" fill="#bebebe"/><rect x="1184.5" y="255.8" width="15.7" height="16.1" fill="#bdbdbd"/><rect x="1199.9" y="255.8" width="15.7" height="16.1" fill="#bbbbbb"/><rect x="1215.3" y="255.8" width="15.7" height="16.1" fill="#b9b9b9"/><rect x="1230.7" y="255.8" width="15.7" height="16.1" fill="#b7b7b7"/><rect x="1246.1" y="255.8" width="15.7" height="16.1" fill="#b5b5b5"/><rect x="1261.5" y="255.8" width="15.7" height="16.1" fill="#b3b3b3"/><rect x="1276.9" y="255.8" width="123.6" height="16.1" fill="#b1b1b1"/><rect x="937.9" y="271.6" width="46.5" height="16.1" fill="#c7c7c7"/><rect x="984.1" y="271.6" width="31.1" height="16.1" fill="#c6c6c6"/><rect x="1014.9" y="271.6" width="15.7" height="16.1" fill="#c5c5c5"/><rect x="1030.3" y="271.6" width="31.1" height="16.1" fill="#c4c4c4"/><rect x="1061.2" y="271.6" width="15.7" height="16.1" fill="#c2c2c2"/><rect x="1076.6" y="271.6" width="15.7" height="16.1" fill="#c0c0c0"/><rect x="1092" y="271.6" width="15.7" height="16.1" fill="#bfbfbf"/><rect x="1107.4" y="271.6" width="15.7" height="16.1" fill="#bdbdbd"/><rect x="1122.8" y="271.6" width="15.7" height="16.1" fill="#bbbbbb"/><rect x="1138.2" y="271.6" width="15.7" height="16.1" fill="#b9b9b9"/><rect x="1153.6" y="271.6" width="15.7" height="16.1" fill="#b8b8b8"/><rect x="1169" y="271.6" width="15.7" height="16.1" fill="#b6b6b6"/><rect x="1184.5" y="271.6" width="15.7" height="16.1" fill="#b4b4b4"/><rect x="1199.9" y="271.6" width="15.7" height="16.1" fill="#b2b2b2"/><rect x="1215.3" y="271.6" width="15.7" height="16.1" fill="#b0b0b0"/><rect x="1230.7" y="271.6" width="15.7" height="16.1" fill="#aeaeae"/><rect x="1246.1" y="271.6" width="15.7" height="16.1" fill="#adadad"/><rect x="1261.5" y="271.6" width="15.7" height="16.1" fill="#ababab"/><rect x="1276.9" y="271.6" width="61.9" height="16.1" fill="#a9a9a9"/><rect x="1338.6" y="271.6" width="61.9" height="16.1" fill="#aaaaaa"/><rect x="937.9" y="287.3" width="61.9" height="16.1" fill="#c0c0c0"/><rect x="999.5" y="287.3" width="15.7" height="16.1" fill="#bfbfbf"/><rect x="1014.9" y="287.3" width="15.7" height="16.1" fill="#bdbdbd"/><rect x="1030.3" y="287.3" width="15.7" height="16.1" fill="#bcbcbc"/><rect x="1045.8" y="287.3" width="15.7" height="16.1" fill="#bbbbbb"/><rect x="1061.2" y="287.3" width="15.7" height="16.1" fill="#bababa"/><rect x="1076.6" y="287.3" width="15.7" height="16.1" fill="#b8b8b8"/><rect x="1092" y="287.3" width="15.7" height="16.1" fill="#b6b6b6"/><rect x="1107.4" y="287.3" width="15.7" height="16.1" fill="#b4b4b4"/><rect x="1122.8" y="287.3" width="15.7" height="16.1" fill="#b2b2b2"/><rect x="1138.2" y="287.3" width="15.7" height="16.1" fill="#b1b1b1"/><rect x="1153.6" y="287.3" width="15.7" height="16.1" fill="#afafaf"/><rect x="1169" y="287.3" width="15.7" height="16.1" fill="#adadad"/><rect x="1184.5" y="287.3" width="15.7" height="16.1" fill="#ababab"/><rect x="1199.9" y="287.3" width="15.7" height="16.1" fill="#aaaaaa"/><rect x="1215.3" y="287.3" width="15.7" height="16.1" fill="#a8a8a8"/><rect x="1230.7" y="287.3" width="15.7" height="16.1" fill="#a6a6a6"/><rect x="1246.1" y="287.3" width="15.7" height="16.1" fill="#a4a4a4"/><rect x="1261.5" y="287.3" width="15.7" height="16.1" fill="#a3a3a3"/><rect x="1276.9" y="287.3" width="15.7" height="16.1" fill="#a1a1a1"/><rect x="1292.3" y="287.3" width="108.2" height="16.1" fill="#a2a2a2"/><rect x="937.9" y="303.1" width="46.5" height="16.1" fill="#b5b5b5"/><rect x="984.1" y="303.1" width="15.7" height="16.1" fill="#b4b4b4"/><rect x="999.5" y="303.1" width="15.7" height="16.1" fill="#b2b2b2"/><rect x="1014.9" y="303.1" width="15.7" height="16.1" fill="#b1b1b1"/><rect x="1030.3" y="303.1" width="15.7" height="16.1" fill="#afafaf"/><rect x="1045.8" y="303.1" width="15.7" height="16.1" fill="#aeaeae"/><rect x="1061.2" y="303.1" width="15.7" height="16.1" fill="#acacac"/><rect x="1076.6" y="303.1" width="15.7" height="16.1" fill="#ababab"/><rect x="1092" y="303.1" width="15.7" height="16.1" fill="#a9a9a9"/><rect x="1107.4" y="303.1" width="15.7" height="16.1" fill="#a8a8a8"/><rect x="1122.8" y="303.1" width="15.7" height="16.1" fill="#a6a6a6"/><rect x="1138.2" y="303.1" width="15.7" height="16.1" fill="#a4a4a4"/><rect x="1153.6" y="303.1" width="15.7" height="16.1" fill="#a3a3a3"/><rect x="1169" y="303.1" width="15.7" height="16.1" fill="#a1a1a1"/><rect x="1184.5" y="303.1" width="15.7" height="16.1" fill="#9f9f9f"/><rect x="1199.9" y="303.1" width="15.7" height="16.1" fill="#9e9e9e"/><rect x="1215.3" y="303.1" width="15.7" height="16.1" fill="#9d9d9d"/><rect x="1230.7" y="303.1" width="15.7" height="16.1" fill="#9b9b9b"/><rect x="1246.1" y="303.1" width="15.7" height="16.1" fill="#9a9a9a"/><rect x="1261.5" y="303.1" width="15.7" height="16.1" fill="#999999"/><rect x="1276.9" y="303.1" width="15.7" height="16.1" fill="#989898"/><rect x="1292.3" y="303.1" width="31.1" height="16.1" fill="#999999"/><rect x="1323.2" y="303.1" width="77.4" height="16.1" fill="#9a9a9a"/><rect x="937.9" y="318.8" width="46.5" height="16.1" fill="#a8a8a8"/><rect x="984.1" y="318.8" width="15.7" height="16.1" fill="#a7a7a7"/><rect x="999.5" y="318.8" width="15.7" height="16.1" fill="#a4a4a4"/><rect x="1014.9" y="318.8" width="15.7" height="16.1" fill="#a2a2a2"/><rect x="1030.3" y="318.8" width="15.7" height="16.1" fill="#a0a0a0"/><rect x="1045.8" y="318.8" width="15.7" height="16.1" fill="#9f9f9f"/><rect x="1061.2" y="318.8" width="15.7" height="16.1" fill="#9e9e9e"/><rect x="1076.6" y="318.8" width="15.7" height="16.1" fill="#9c9c9c"/><rect x="1092" y="318.8" width="15.7" height="16.1" fill="#9b9b9b"/><rect x="1107.4" y="318.8" width="15.7" height="16.1" fill="#9a9a9a"/><rect x="1122.8" y="318.8" width="15.7" height="16.1" fill="#989898"/><rect x="1138.2" y="318.8" width="15.7" height="16.1" fill="#979797"/><rect x="1153.6" y="318.8" width="15.7" height="16.1" fill="#959595"/><rect x="1169" y="318.8" width="15.7" height="16.1" fill="#949494"/><rect x="1184.5" y="318.8" width="15.7" height="16.1" fill="#929292"/><rect x="1199.9" y="318.8" width="15.7" height="16.1" fill="#919191"/><rect x="1215.3" y="318.8" width="31.1" height="16.1" fill="#909090"/><rect x="1246.1" y="318.8" width="46.5" height="16.1" fill="#8f8f8f"/><rect x="1292.3" y="318.8" width="15.7" height="16.1" fill="#909090"/><rect x="1307.8" y="318.8" width="31.1" height="16.1" fill="#919191"/><rect x="1338.6" y="318.8" width="15.7" height="16.1" fill="#929292"/><rect x="1354" y="318.8" width="46.5" height="16.1" fill="#939393"/><rect x="937.9" y="334.6" width="46.5" height="16.1" fill="#9f9f9f"/><rect x="984.1" y="334.6" width="15.7" height="16.1" fill="#9e9e9e"/><rect x="999.5" y="334.6" width="15.7" height="16.1" fill="#9b9b9b"/><rect x="1014.9" y="334.6" width="15.7" height="16.1" fill="#999999"/><rect x="1030.3" y="334.6" width="15.7" height="16.1" fill="#979797"/><rect x="1045.8" y="334.6" width="15.7" height="16.1" fill="#959595"/><rect x="1061.2" y="334.6" width="15.7" height="16.1" fill="#939393"/><rect x="1076.6" y="334.6" width="15.7" height="16.1" fill="#919191"/><rect x="1092" y="334.6" width="15.7" height="16.1" fill="#909090"/><rect x="1107.4" y="334.6" width="15.7" height="16.1" fill="#8e8e8e"/><rect x="1122.8" y="334.6" width="15.7" height="16.1" fill="#8d8d8d"/><rect x="1138.2" y="334.6" width="15.7" height="16.1" fill="#8b8b8b"/><rect x="1153.6" y="334.6" width="15.7" height="16.1" fill="#898989"/><rect x="1169" y="334.6" width="15.7" height="16.1" fill="#888888"/><rect x="1184.5" y="334.6" width="61.9" height="16.1" fill="#878787"/><rect x="1246.1" y="334.6" width="31.1" height="16.1" fill="#888888"/><rect x="1276.9" y="334.6" width="15.7" height="16.1" fill="#898989"/><rect x="1292.3" y="334.6" width="15.7" height="16.1" fill="#8a8a8a"/><rect x="1307.8" y="334.6" width="15.7" height="16.1" fill="#8b8b8b"/><rect x="1323.2" y="334.6" width="15.7" height="16.1" fill="#8c8c8c"/><rect x="1338.6" y="334.6" width="15.7" height="16.1" fill="#8d8d8d"/><rect x="1354" y="334.6" width="46.5" height="16.1" fill="#8e8e8e"/><rect x="937.9" y="350.3" width="46.5" height="16.1" fill="#979797"/><rect x="984.1" y="350.3" width="15.7" height="16.1" fill="#959595"/><rect x="999.5" y="350.3" width="15.7" height="16.1" fill="#939393"/><rect x="1014.9" y="350.3" width="15.7" height="16.1" fill="#909090"/><rect x="1030.3" y="350.3" width="15.7" height="16.1" fill="#8d8d8d"/><rect x="1045.8" y="350.3" width="15.7" height="16.1" fill="#8b8b8b"/><rect x="1061.2" y="350.3" width="15.7" height="16.1" fill="#898989"/><rect x="1076.6" y="350.3" width="15.7" height="16.1" fill="#878787"/><rect x="1092" y="350.3" width="15.7" height="16.1" fill="#858585"/><rect x="1107.4" y="350.3" width="15.7" height="16.1" fill="#838383"/><rect x="1122.8" y="350.3" width="15.7" height="16.1" fill="#828282"/><rect x="1138.2" y="350.3" width="15.7" height="16.1" fill="#808080"/><rect x="1153.6" y="350.3" width="77.4" height="16.1" fill="#7e7e7e"/><rect x="1230.7" y="350.3" width="15.7" height="16.1" fill="#7f7f7f"/><rect x="1246.1" y="350.3" width="15.7" height="16.1" fill="#808080"/><rect x="1261.5" y="350.3" width="15.7" height="16.1" fill="#818181"/><rect x="1276.9" y="350.3" width="15.7" height="16.1" fill="#828282"/><rect x="1292.3" y="350.3" width="15.7" height="16.1" fill="#848484"/><rect x="1307.8" y="350.3" width="15.7" height="16.1" fill="#858585"/><rect x="1323.2" y="350.3" width="15.7" height="16.1" fill="#868686"/><rect x="1338.6" y="350.3" width="61.9" height="16.1" fill="#888888"/><rect x="937.9" y="366.1" width="46.5" height="16.1" fill="#8e8e8e"/><rect x="984.1" y="366.1" width="15.7" height="16.1" fill="#8d8d8d"/><rect x="999.5" y="366.1" width="15.7" height="16.1" fill="#8a8a8a"/><rect x="1014.9" y="366.1" width="15.7" height="16.1" fill="#878787"/><rect x="1030.3" y="366.1" width="15.7" height="16.1" fill="#848484"/><rect x="1045.8" y="366.1" width="15.7" height="16.1" fill="#818181"/><rect x="1061.2" y="366.1" width="15.7" height="16.1" fill="#7f7f7f"/><rect x="1076.6" y="366.1" width="15.7" height="16.1" fill="#7d7d7d"/><rect x="1092" y="366.1" width="15.7" height="16.1" fill="#7b7b7b"/><rect x="1107.4" y="366.1" width="15.7" height="16.1" fill="#7a7a7a"/><rect x="1122.8" y="366.1" width="15.7" height="16.1" fill="#787878"/><rect x="1138.2" y="366.1" width="15.7" height="16.1" fill="#777777"/><rect x="1153.6" y="366.1" width="15.7" height="16.1" fill="#767676"/><rect x="1169" y="366.1" width="46.5" height="16.1" fill="#757575"/><rect x="1215.3" y="366.1" width="15.7" height="16.1" fill="#767676"/><rect x="1230.7" y="366.1" width="15.7" height="16.1" fill="#777777"/><rect x="1246.1" y="366.1" width="15.7" height="16.1" fill="#797979"/><rect x="1261.5" y="366.1" width="15.7" height="16.1" fill="#7a7a7a"/><rect x="1276.9" y="366.1" width="15.7" height="16.1" fill="#7b7b7b"/><rect x="1292.3" y="366.1" width="15.7" height="16.1" fill="#7d7d7d"/><rect x="1307.8" y="366.1" width="15.7" height="16.1" fill="#7e7e7e"/><rect x="1323.2" y="366.1" width="15.7" height="16.1" fill="#808080"/><rect x="1338.6" y="366.1" width="61.9" height="16.1" fill="#828282"/><rect x="937.9" y="381.8" width="46.5" height="16.1" fill="#878787"/><rect x="984.1" y="381.8" width="15.7" height="16.1" fill="#858585"/><rect x="999.5" y="381.8" width="15.7" height="16.1" fill="#828282"/><rect x="1014.9" y="381.8" width="15.7" height="16.1" fill="#7e7e7e"/><rect x="1030.3" y="381.8" width="15.7" height="16.1" fill="#7b7b7b"/><rect x="1045.8" y="381.8" width="15.7" height="16.1" fill="#777777"/><rect x="1061.2" y="381.8" width="15.7" height="16.1" fill="#757575"/><rect x="1076.6" y="381.8" width="15.7" height="16.1" fill="#727272"/><rect x="1092" y="381.8" width="15.7" height="16.1" fill="#707070"/><rect x="1107.4" y="381.8" width="15.7" height="16.1" fill="#6d6d6d"/><rect x="1122.8" y="381.8" width="15.7" height="16.1" fill="#6b6b6b"/><rect x="1138.2" y="381.8" width="15.7" height="16.1" fill="#6a6a6a"/><rect x="1153.6" y="381.8" width="31.1" height="16.1" fill="#696969"/><rect x="1184.5" y="381.8" width="31.1" height="16.1" fill="#686868"/><rect x="1215.3" y="381.8" width="15.7" height="16.1" fill="#696969"/><rect x="1230.7" y="381.8" width="15.7" height="16.1" fill="#6b6b6b"/><rect x="1246.1" y="381.8" width="15.7" height="16.1" fill="#6c6c6c"/><rect x="1261.5" y="381.8" width="15.7" height="16.1" fill="#6e6e6e"/><rect x="1276.9" y="381.8" width="15.7" height="16.1" fill="#707070"/><rect x="1292.3" y="381.8" width="15.7" height="16.1" fill="#727272"/><rect x="1307.8" y="381.8" width="15.7" height="16.1" fill="#757575"/><rect x="1323.2" y="381.8" width="15.7" height="16.1" fill="#777777"/><rect x="1338.6" y="381.8" width="15.7" height="16.1" fill="#797979"/><rect x="1354" y="381.8" width="46.5" height="16.1" fill="#7a7a7a"/><rect x="937.9" y="397.6" width="46.5" height="16.1" fill="#818181"/><rect x="984.1" y="397.6" width="15.7" height="16.1" fill="#7f7f7f"/><rect x="999.5" y="397.6" width="15.7" height="16.1" fill="#7b7b7b"/><rect x="1014.9" y="397.6" width="15.7" height="16.1" fill="#767676"/><rect x="1030.3" y="397.6" width="15.7" height="16.1" fill="#727272"/><rect x="1045.8" y="397.6" width="15.7" height="16.1" fill="#6e6e6e"/><rect x="1061.2" y="397.6" width="15.7" height="16.1" fill="#6a6a6a"/><rect x="1076.6" y="397.6" width="15.7" height="16.1" fill="#666666"/><rect x="1092" y="397.6" width="15.7" height="16.1" fill="#626262"/><rect x="1107.4" y="397.6" width="15.7" height="16.1" fill="#5e5e5e"/><rect x="1122.8" y="397.6" width="15.7" height="16.1" fill="#5a5a5a"/><rect x="1138.2" y="397.6" width="15.7" height="16.1" fill="#585858"/><rect x="1153.6" y="397.6" width="31.1" height="16.1" fill="#575757"/><rect x="1184.5" y="397.6" width="15.7" height="16.1" fill="#565656"/><rect x="1199.9" y="397.6" width="15.7" height="16.1" fill="#555555"/><rect x="1215.3" y="397.6" width="15.7" height="16.1" fill="#575757"/><rect x="1230.7" y="397.6" width="15.7" height="16.1" fill="#595959"/><rect x="1246.1" y="397.6" width="15.7" height="16.1" fill="#5c5c5c"/><rect x="1261.5" y="397.6" width="15.7" height="16.1" fill="#5e5e5e"/><rect x="1276.9" y="397.6" width="15.7" height="16.1" fill="#606060"/><rect x="1292.3" y="397.6" width="15.7" height="16.1" fill="#646464"/><rect x="1307.8" y="397.6" width="15.7" height="16.1" fill="#686868"/><rect x="1323.2" y="397.6" width="15.7" height="16.1" fill="#6b6b6b"/><rect x="1338.6" y="397.6" width="15.7" height="16.1" fill="#6f6f6f"/><rect x="1354" y="397.6" width="46.5" height="16.1" fill="#717171"/><rect x="937.9" y="413.3" width="46.5" height="16.1" fill="#7c7c7c"/><rect x="984.1" y="413.3" width="15.7" height="16.1" fill="#7a7a7a"/><rect x="999.5" y="413.3" width="15.7" height="16.1" fill="#757575"/><rect x="1014.9" y="413.3" width="15.7" height="16.1" fill="#707070"/><rect x="1030.3" y="413.3" width="15.7" height="16.1" fill="#696969"/><rect x="1045.8" y="413.3" width="15.7" height="16.1" fill="#636363"/><rect x="1061.2" y="413.3" width="15.7" height="16.1" fill="#5d5d5d"/><rect x="1076.6" y="413.3" width="15.7" height="16.1" fill="#585858"/><rect x="1092" y="413.3" width="15.7" height="16.1" fill="#525252"/><rect x="1107.4" y="413.3" width="15.7" height="16.1" fill="#4d4d4d"/><rect x="1122.8" y="413.3" width="15.7" height="16.1" fill="#474747"/><rect x="1138.2" y="413.3" width="15.7" height="16.1" fill="#444444"/><rect x="1153.6" y="413.3" width="15.7" height="16.1" fill="#414141"/><rect x="1169" y="413.3" width="15.7" height="16.1" fill="#404040"/><rect x="1184.5" y="413.3" width="31.1" height="16.1" fill="#3f3f3f"/><rect x="1215.3" y="413.3" width="15.7" height="16.1" fill="#424242"/><rect x="1230.7" y="413.3" width="15.7" height="16.1" fill="#444444"/><rect x="1246.1" y="413.3" width="15.7" height="16.1" fill="#484848"/><rect x="1261.5" y="413.3" width="15.7" height="16.1" fill="#4d4d4d"/><rect x="1276.9" y="413.3" width="15.7" height="16.1" fill="#515151"/><rect x="1292.3" y="413.3" width="15.7" height="16.1" fill="#565656"/><rect x="1307.8" y="413.3" width="15.7" height="16.1" fill="#5b5b5b"/><rect x="1323.2" y="413.3" width="15.7" height="16.1" fill="#606060"/><rect x="1338.6" y="413.3" width="15.7" height="16.1" fill="#656565"/><rect x="1354" y="413.3" width="46.5" height="16.1" fill="#686868"/><rect x="937.9" y="429.1" width="46.5" height="16.1" fill="#797979"/><rect x="984.1" y="429.1" width="15.7" height="16.1" fill="#767676"/><rect x="999.5" y="429.1" width="15.7" height="16.1" fill="#707070"/><rect x="1014.9" y="429.1" width="15.7" height="16.1" fill="#696969"/><rect x="1030.3" y="429.1" width="15.7" height="16.1" fill="#616161"/><rect x="1045.8" y="429.1" width="15.7" height="16.1" fill="#585858"/><rect x="1061.2" y="429.1" width="15.7" height="16.1" fill="#515151"/><rect x="1076.6" y="429.1" width="15.7" height="16.1" fill="#4a4a4a"/><rect x="1092" y="429.1" width="15.7" height="16.1" fill="#424242"/><rect x="1107.4" y="429.1" width="15.7" height="16.1" fill="#3b3b3b"/><rect x="1122.8" y="429.1" width="15.7" height="16.1" fill="#343434"/><rect x="1138.2" y="429.1" width="15.7" height="16.1" fill="#2f2f2f"/><rect x="1153.6" y="429.1" width="15.7" height="16.1" fill="#2a2a2a"/><rect x="1169" y="429.1" width="31.1" height="16.1" fill="#272727"/><rect x="1199.9" y="429.1" width="15.7" height="16.1" fill="#282828"/><rect x="1215.3" y="429.1" width="15.7" height="16.1" fill="#2b2b2b"/><rect x="1230.7" y="429.1" width="15.7" height="16.1" fill="#2f2f2f"/><rect x="1246.1" y="429.1" width="15.7" height="16.1" fill="#353535"/><rect x="1261.5" y="429.1" width="15.7" height="16.1" fill="#3c3c3c"/><rect x="1276.9" y="429.1" width="15.7" height="16.1" fill="#424242"/><rect x="1292.3" y="429.1" width="15.7" height="16.1" fill="#484848"/><rect x="1307.8" y="429.1" width="15.7" height="16.1" fill="#4f4f4f"/><rect x="1323.2" y="429.1" width="15.7" height="16.1" fill="#555555"/><rect x="1338.6" y="429.1" width="15.7" height="16.1" fill="#5c5c5c"/><rect x="1354" y="429.1" width="46.5" height="16.1" fill="#5f5f5f"/><rect x="937.9" y="444.9" width="46.5" height="16.1" fill="#767676"/><rect x="984.1" y="444.9" width="15.7" height="16.1" fill="#747474"/><rect x="999.5" y="444.9" width="15.7" height="16.1" fill="#6d6d6d"/><rect x="1014.9" y="444.9" width="15.7" height="16.1" fill="#676767"/><rect x="1030.3" y="444.9" width="15.7" height="16.1" fill="#5e5e5e"/><rect x="1045.8" y="444.9" width="15.7" height="16.1" fill="#555555"/><rect x="1061.2" y="444.9" width="15.7" height="16.1" fill="#4d4d4d"/><rect x="1076.6" y="444.9" width="15.7" height="16.1" fill="#444444"/><rect x="1092" y="444.9" width="15.7" height="16.1" fill="#3c3c3c"/><rect x="1107.4" y="444.9" width="15.7" height="16.1" fill="#333333"/><rect x="1122.8" y="444.9" width="15.7" height="16.1" fill="#2b2b2b"/><rect x="1138.2" y="444.9" width="15.7" height="16.1" fill="#252525"/><rect x="1153.6" y="444.9" width="15.7" height="16.1" fill="#1f1f1f"/><rect x="1169" y="444.9" width="15.7" height="16.1" fill="#1b1b1b"/><rect x="1184.5" y="444.9" width="15.7" height="16.1" fill="#1a1a1a"/><rect x="1199.9" y="444.9" width="15.7" height="16.1" fill="#1d1d1d"/><rect x="1215.3" y="444.9" width="15.7" height="16.1" fill="#222222"/><rect x="1230.7" y="444.9" width="15.7" height="16.1" fill="#272727"/><rect x="1246.1" y="444.9" width="15.7" height="16.1" fill="#2e2e2e"/><rect x="1261.5" y="444.9" width="15.7" height="16.1" fill="#363636"/><rect x="1276.9" y="444.9" width="15.7" height="16.1" fill="#3d3d3d"/><rect x="1292.3" y="444.9" width="15.7" height="16.1" fill="#444444"/><rect x="1307.8" y="444.9" width="15.7" height="16.1" fill="#4a4a4a"/><rect x="1323.2" y="444.9" width="15.7" height="16.1" fill="#515151"/><rect x="1338.6" y="444.9" width="15.7" height="16.1" fill="#585858"/><rect x="1354" y="444.9" width="46.5" height="16.1" fill="#5c5c5c"/><rect x="937.9" y="460.6" width="46.5" height="16.1" fill="#747474"/><rect x="984.1" y="460.6" width="15.7" height="16.1" fill="#727272"/><rect x="999.5" y="460.6" width="15.7" height="16.1" fill="#6c6c6c"/><rect x="1014.9" y="460.6" width="15.7" height="16.1" fill="#656565"/><rect x="1030.3" y="460.6" width="15.7" height="16.1" fill="#5c5c5c"/><rect x="1045.8" y="460.6" width="15.7" height="16.1" fill="#535353"/><rect x="1061.2" y="460.6" width="15.7" height="16.1" fill="#4a4a4a"/><rect x="1076.6" y="460.6" width="15.7" height="16.1" fill="#414141"/><rect x="1092" y="460.6" width="15.7" height="16.1" fill="#373737"/><rect x="1107.4" y="460.6" width="15.7" height="16.1" fill="#2e2e2e"/><rect x="1122.8" y="460.6" width="15.7" height="16.1" fill="#262626"/><rect x="1138.2" y="460.6" width="15.7" height="16.1" fill="#1f1f1f"/><rect x="1153.6" y="460.6" width="15.7" height="16.1" fill="#1a1a1a"/><rect x="1169" y="460.6" width="15.7" height="16.1" fill="#151515"/><rect x="1184.5" y="460.6" width="15.7" height="16.1" fill="#131313"/><rect x="1199.9" y="460.6" width="15.7" height="16.1" fill="#181818"/><rect x="1215.3" y="460.6" width="15.7" height="16.1" fill="#1d1d1d"/><rect x="1230.7" y="460.6" width="15.7" height="16.1" fill="#232323"/><rect x="1246.1" y="460.6" width="15.7" height="16.1" fill="#2a2a2a"/><rect x="1261.5" y="460.6" width="15.7" height="16.1" fill="#323232"/><rect x="1276.9" y="460.6" width="15.7" height="16.1" fill="#393939"/><rect x="1292.3" y="460.6" width="15.7" height="16.1" fill="#404040"/><rect x="1307.8" y="460.6" width="15.7" height="16.1" fill="#474747"/><rect x="1323.2" y="460.6" width="15.7" height="16.1" fill="#4f4f4f"/><rect x="1338.6" y="460.6" width="15.7" height="16.1" fill="#565656"/><rect x="1354" y="460.6" width="46.5" height="16.1" fill="#595959"/><rect x="937.9" y="476.4" width="46.5" height="16.1" fill="#737373"/><rect x="984.1" y="476.4" width="15.7" height="16.1" fill="#717171"/><rect x="999.5" y="476.4" width="15.7" height="16.1" fill="#6b6b6b"/><rect x="1014.9" y="476.4" width="15.7" height="16.1" fill="#656565"/><rect x="1030.3" y="476.4" width="15.7" height="16.1" fill="#5c5c5c"/><rect x="1045.8" y="476.4" width="15.7" height="16.1" fill="#535353"/><rect x="1061.2" y="476.4" width="15.7" height="16.1" fill="#4a4a4a"/><rect x="1076.6" y="476.4" width="15.7" height="16.1" fill="#414141"/><rect x="1092" y="476.4" width="15.7" height="16.1" fill="#383838"/><rect x="1107.4" y="476.4" width="15.7" height="16.1" fill="#2f2f2f"/><rect x="1122.8" y="476.4" width="15.7" height="16.1" fill="#272727"/><rect x="1138.2" y="476.4" width="15.7" height="16.1" fill="#212121"/><rect x="1153.6" y="476.4" width="15.7" height="16.1" fill="#1c1c1c"/><rect x="1169" y="476.4" width="31.1" height="16.1" fill="#191919"/><rect x="1199.9" y="476.4" width="15.7" height="16.1" fill="#1c1c1c"/><rect x="1215.3" y="476.4" width="15.7" height="16.1" fill="#212121"/><rect x="1230.7" y="476.4" width="15.7" height="16.1" fill="#262626"/><rect x="1246.1" y="476.4" width="15.7" height="16.1" fill="#2c2c2c"/><rect x="1261.5" y="476.4" width="15.7" height="16.1" fill="#333333"/><rect x="1276.9" y="476.4" width="15.7" height="16.1" fill="#393939"/><rect x="1292.3" y="476.4" width="15.7" height="16.1" fill="#404040"/><rect x="1307.8" y="476.4" width="15.7" height="16.1" fill="#464646"/><rect x="1323.2" y="476.4" width="15.7" height="16.1" fill="#4e4e4e"/><rect x="1338.6" y="476.4" width="15.7" height="16.1" fill="#555555"/><rect x="1354" y="476.4" width="46.5" height="16.1" fill="#595959"/><rect x="937.9" y="492.1" width="46.5" height="16.1" fill="#737373"/><rect x="984.1" y="492.1" width="15.7" height="16.1" fill="#717171"/><rect x="999.5" y="492.1" width="15.7" height="16.1" fill="#6c6c6c"/><rect x="1014.9" y="492.1" width="15.7" height="16.1" fill="#666666"/><rect x="1030.3" y="492.1" width="15.7" height="16.1" fill="#5e5e5e"/><rect x="1045.8" y="492.1" width="15.7" height="16.1" fill="#555555"/><rect x="1061.2" y="492.1" width="15.7" height="16.1" fill="#4d4d4d"/><rect x="1076.6" y="492.1" width="15.7" height="16.1" fill="#444444"/><rect x="1092" y="492.1" width="15.7" height="16.1" fill="#3b3b3b"/><rect x="1107.4" y="492.1" width="15.7" height="16.1" fill="#333333"/><rect x="1122.8" y="492.1" width="15.7" height="16.1" fill="#2a2a2a"/><rect x="1138.2" y="492.1" width="15.7" height="16.1" fill="#262626"/><rect x="1153.6" y="492.1" width="15.7" height="16.1" fill="#222222"/><rect x="1169" y="492.1" width="15.7" height="16.1" fill="#202020"/><rect x="1184.5" y="492.1" width="15.7" height="16.1" fill="#212121"/><rect x="1199.9" y="492.1" width="15.7" height="16.1" fill="#222222"/><rect x="1215.3" y="492.1" width="15.7" height="16.1" fill="#262626"/><rect x="1230.7" y="492.1" width="15.7" height="16.1" fill="#2a2a2a"/><rect x="1246.1" y="492.1" width="15.7" height="16.1" fill="#2f2f2f"/><rect x="1261.5" y="492.1" width="15.7" height="16.1" fill="#353535"/><rect x="1276.9" y="492.1" width="15.7" height="16.1" fill="#3b3b3b"/><rect x="1292.3" y="492.1" width="15.7" height="16.1" fill="#414141"/><rect x="1307.8" y="492.1" width="15.7" height="16.1" fill="#484848"/><rect x="1323.2" y="492.1" width="15.7" height="16.1" fill="#4f4f4f"/><rect x="1338.6" y="492.1" width="15.7" height="16.1" fill="#575757"/><rect x="1354" y="492.1" width="46.5" height="16.1" fill="#5b5b5b"/><rect x="937.9" y="507.9" width="46.5" height="16.1" fill="#747474"/><rect x="984.1" y="507.9" width="15.7" height="16.1" fill="#727272"/><rect x="999.5" y="507.9" width="15.7" height="16.1" fill="#6e6e6e"/><rect x="1014.9" y="507.9" width="15.7" height="16.1" fill="#696969"/><rect x="1030.3" y="507.9" width="15.7" height="16.1" fill="#616161"/><rect x="1045.8" y="507.9" width="15.7" height="16.1" fill="#595959"/><rect x="1061.2" y="507.9" width="15.7" height="16.1" fill="#515151"/><rect x="1076.6" y="507.9" width="15.7" height="16.1" fill="#494949"/><rect x="1092" y="507.9" width="15.7" height="16.1" fill="#414141"/><rect x="1107.4" y="507.9" width="15.7" height="16.1" fill="#383838"/><rect x="1122.8" y="507.9" width="15.7" height="16.1" fill="#313131"/><rect x="1138.2" y="507.9" width="15.7" height="16.1" fill="#2d2d2d"/><rect x="1153.6" y="507.9" width="15.7" height="16.1" fill="#2a2a2a"/><rect x="1169" y="507.9" width="46.5" height="16.1" fill="#292929"/><rect x="1215.3" y="507.9" width="15.7" height="16.1" fill="#2c2c2c"/><rect x="1230.7" y="507.9" width="15.7" height="16.1" fill="#2f2f2f"/><rect x="1246.1" y="507.9" width="15.7" height="16.1" fill="#343434"/><rect x="1261.5" y="507.9" width="15.7" height="16.1" fill="#3a3a3a"/><rect x="1276.9" y="507.9" width="15.7" height="16.1" fill="#404040"/><rect x="1292.3" y="507.9" width="15.7" height="16.1" fill="#464646"/><rect x="1307.8" y="507.9" width="15.7" height="16.1" fill="#4b4b4b"/><rect x="1323.2" y="507.9" width="15.7" height="16.1" fill="#535353"/><rect x="1338.6" y="507.9" width="15.7" height="16.1" fill="#5b5b5b"/><rect x="1354" y="507.9" width="46.5" height="16.1" fill="#5e5e5e"/><rect x="937.9" y="523.6" width="46.5" height="16.1" fill="#767676"/><rect x="984.1" y="523.6" width="15.7" height="16.1" fill="#747474"/><rect x="999.5" y="523.6" width="15.7" height="16.1" fill="#707070"/><rect x="1014.9" y="523.6" width="15.7" height="16.1" fill="#6b6b6b"/><rect x="1030.3" y="523.6" width="15.7" height="16.1" fill="#646464"/><rect x="1045.8" y="523.6" width="15.7" height="16.1" fill="#5e5e5e"/><rect x="1061.2" y="523.6" width="15.7" height="16.1" fill="#575757"/><rect x="1076.6" y="523.6" width="15.7" height="16.1" fill="#505050"/><rect x="1092" y="523.6" width="15.7" height="16.1" fill="#494949"/><rect x="1107.4" y="523.6" width="15.7" height="16.1" fill="#424242"/><rect x="1122.8" y="523.6" width="15.7" height="16.1" fill="#3c3c3c"/><rect x="1138.2" y="523.6" width="15.7" height="16.1" fill="#393939"/><rect x="1153.6" y="523.6" width="15.7" height="16.1" fill="#373737"/><rect x="1169" y="523.6" width="46.5" height="16.1" fill="#363636"/><rect x="1215.3" y="523.6" width="15.7" height="16.1" fill="#383838"/><rect x="1230.7" y="523.6" width="15.7" height="16.1" fill="#3a3a3a"/><rect x="1246.1" y="523.6" width="15.7" height="16.1" fill="#3e3e3e"/><rect x="1261.5" y="523.6" width="15.7" height="16.1" fill="#424242"/><rect x="1276.9" y="523.6" width="15.7" height="16.1" fill="#474747"/><rect x="1292.3" y="523.6" width="15.7" height="16.1" fill="#4d4d4d"/><rect x="1307.8" y="523.6" width="15.7" height="16.1" fill="#525252"/><rect x="1323.2" y="523.6" width="15.7" height="16.1" fill="#595959"/><rect x="1338.6" y="523.6" width="15.7" height="16.1" fill="#606060"/><rect x="1354" y="523.6" width="46.5" height="16.1" fill="#646464"/><rect x="937.9" y="539.4" width="46.5" height="16.1" fill="#797979"/><rect x="984.1" y="539.4" width="15.7" height="16.1" fill="#777777"/><rect x="999.5" y="539.4" width="15.7" height="16.1" fill="#727272"/><rect x="1014.9" y="539.4" width="15.7" height="16.1" fill="#6d6d6d"/><rect x="1030.3" y="539.4" width="15.7" height="16.1" fill="#686868"/><rect x="1045.8" y="539.4" width="15.7" height="16.1" fill="#636363"/><rect x="1061.2" y="539.4" width="15.7" height="16.1" fill="#5e5e5e"/><rect x="1076.6" y="539.4" width="15.7" height="16.1" fill="#595959"/><rect x="1092" y="539.4" width="15.7" height="16.1" fill="#535353"/><rect x="1107.4" y="539.4" width="15.7" height="16.1" fill="#4e4e4e"/><rect x="1122.8" y="539.4" width="15.7" height="16.1" fill="#494949"/><rect x="1138.2" y="539.4" width="31.1" height="16.1" fill="#474747"/><rect x="1169" y="539.4" width="15.7" height="16.1" fill="#464646"/><rect x="1184.5" y="539.4" width="15.7" height="16.1" fill="#454545"/><rect x="1199.9" y="539.4" width="15.7" height="16.1" fill="#444444"/><rect x="1215.3" y="539.4" width="15.7" height="16.1" fill="#464646"/><rect x="1230.7" y="539.4" width="15.7" height="16.1" fill="#484848"/><rect x="1246.1" y="539.4" width="15.7" height="16.1" fill="#4a4a4a"/><rect x="1261.5" y="539.4" width="15.7" height="16.1" fill="#4c4c4c"/><rect x="1276.9" y="539.4" width="15.7" height="16.1" fill="#4f4f4f"/><rect x="1292.3" y="539.4" width="15.7" height="16.1" fill="#555555"/><rect x="1307.8" y="539.4" width="15.7" height="16.1" fill="#5b5b5b"/><rect x="1323.2" y="539.4" width="15.7" height="16.1" fill="#616161"/><rect x="1338.6" y="539.4" width="15.7" height="16.1" fill="#676767"/><rect x="1354" y="539.4" width="46.5" height="16.1" fill="#6a6a6a"/><rect x="937.9" y="555.1" width="46.5" height="16.1" fill="#7b7b7b"/><rect x="984.1" y="555.1" width="15.7" height="16.1" fill="#7a7a7a"/><rect x="999.5" y="555.1" width="15.7" height="16.1" fill="#767676"/><rect x="1014.9" y="555.1" width="15.7" height="16.1" fill="#727272"/><rect x="1030.3" y="555.1" width="15.7" height="16.1" fill="#6e6e6e"/><rect x="1045.8" y="555.1" width="15.7" height="16.1" fill="#6a6a6a"/><rect x="1061.2" y="555.1" width="15.7" height="16.1" fill="#666666"/><rect x="1076.6" y="555.1" width="15.7" height="16.1" fill="#636363"/><rect x="1092" y="555.1" width="15.7" height="16.1" fill="#5f5f5f"/><rect x="1107.4" y="555.1" width="15.7" height="16.1" fill="#5b5b5b"/><rect x="1122.8" y="555.1" width="15.7" height="16.1" fill="#575757"/><rect x="1138.2" y="555.1" width="31.1" height="16.1" fill="#565656"/><rect x="1169" y="555.1" width="15.7" height="16.1" fill="#555555"/><rect x="1184.5" y="555.1" width="31.1" height="16.1" fill="#545454"/><rect x="1215.3" y="555.1" width="15.7" height="16.1" fill="#555555"/><rect x="1230.7" y="555.1" width="15.7" height="16.1" fill="#575757"/><rect x="1246.1" y="555.1" width="15.7" height="16.1" fill="#585858"/><rect x="1261.5" y="555.1" width="15.7" height="16.1" fill="#5a5a5a"/><rect x="1276.9" y="555.1" width="15.7" height="16.1" fill="#5d5d5d"/><rect x="1292.3" y="555.1" width="15.7" height="16.1" fill="#616161"/><rect x="1307.8" y="555.1" width="15.7" height="16.1" fill="#666666"/><rect x="1323.2" y="555.1" width="15.7" height="16.1" fill="#6b6b6b"/><rect x="1338.6" y="555.1" width="15.7" height="16.1" fill="#6f6f6f"/><rect x="1354" y="555.1" width="46.5" height="16.1" fill="#717171"/><rect x="937.9" y="570.9" width="46.5" height="16.1" fill="#7e7e7e"/><rect x="984.1" y="570.9" width="15.7" height="16.1" fill="#7d7d7d"/><rect x="999.5" y="570.9" width="15.7" height="16.1" fill="#7a7a7a"/><rect x="1014.9" y="570.9" width="15.7" height="16.1" fill="#777777"/><rect x="1030.3" y="570.9" width="15.7" height="16.1" fill="#747474"/><rect x="1045.8" y="570.9" width="15.7" height="16.1" fill="#717171"/><rect x="1061.2" y="570.9" width="15.7" height="16.1" fill="#6f6f6f"/><rect x="1076.6" y="570.9" width="15.7" height="16.1" fill="#6c6c6c"/><rect x="1092" y="570.9" width="15.7" height="16.1" fill="#696969"/><rect x="1107.4" y="570.9" width="15.7" height="16.1" fill="#676767"/><rect x="1122.8" y="570.9" width="31.1" height="16.1" fill="#646464"/><rect x="1153.6" y="570.9" width="31.1" height="16.1" fill="#636363"/><rect x="1184.5" y="570.9" width="31.1" height="16.1" fill="#626262"/><rect x="1215.3" y="570.9" width="15.7" height="16.1" fill="#636363"/><rect x="1230.7" y="570.9" width="15.7" height="16.1" fill="#646464"/><rect x="1246.1" y="570.9" width="15.7" height="16.1" fill="#666666"/><rect x="1261.5" y="570.9" width="15.7" height="16.1" fill="#676767"/><rect x="1276.9" y="570.9" width="15.7" height="16.1" fill="#696969"/><rect x="1292.3" y="570.9" width="15.7" height="16.1" fill="#6c6c6c"/><rect x="1307.8" y="570.9" width="15.7" height="16.1" fill="#707070"/><rect x="1323.2" y="570.9" width="15.7" height="16.1" fill="#747474"/><rect x="1338.6" y="570.9" width="15.7" height="16.1" fill="#777777"/><rect x="1354" y="570.9" width="46.5" height="16.1" fill="#797979"/><rect x="937.9" y="586.6" width="46.5" height="16.1" fill="#828282"/><rect x="984.1" y="586.6" width="15.7" height="16.1" fill="#818181"/><rect x="999.5" y="586.6" width="15.7" height="16.1" fill="#7f7f7f"/><rect x="1014.9" y="586.6" width="15.7" height="16.1" fill="#7d7d7d"/><rect x="1030.3" y="586.6" width="15.7" height="16.1" fill="#7a7a7a"/><rect x="1045.8" y="586.6" width="15.7" height="16.1" fill="#787878"/><rect x="1061.2" y="586.6" width="15.7" height="16.1" fill="#767676"/><rect x="1076.6" y="586.6" width="15.7" height="16.1" fill="#747474"/><rect x="1092" y="586.6" width="15.7" height="16.1" fill="#727272"/><rect x="1107.4" y="586.6" width="15.7" height="16.1" fill="#707070"/><rect x="1122.8" y="586.6" width="15.7" height="16.1" fill="#6e6e6e"/><rect x="1138.2" y="586.6" width="46.5" height="16.1" fill="#6d6d6d"/><rect x="1184.5" y="586.6" width="31.1" height="16.1" fill="#6c6c6c"/><rect x="1215.3" y="586.6" width="15.7" height="16.1" fill="#6d6d6d"/><rect x="1230.7" y="586.6" width="15.7" height="16.1" fill="#6e6e6e"/><rect x="1246.1" y="586.6" width="15.7" height="16.1" fill="#6f6f6f"/><rect x="1261.5" y="586.6" width="15.7" height="16.1" fill="#707070"/><rect x="1276.9" y="586.6" width="15.7" height="16.1" fill="#727272"/><rect x="1292.3" y="586.6" width="15.7" height="16.1" fill="#757575"/><rect x="1307.8" y="586.6" width="15.7" height="16.1" fill="#787878"/><rect x="1323.2" y="586.6" width="15.7" height="16.1" fill="#7b7b7b"/><rect x="1338.6" y="586.6" width="15.7" height="16.1" fill="#7e7e7e"/><rect x="1354" y="586.6" width="46.5" height="16.1" fill="#808080"/><rect x="937.9" y="602.4" width="61.9" height="16.1" fill="#838383"/><rect x="999.5" y="602.4" width="15.7" height="16.1" fill="#818181"/><rect x="1014.9" y="602.4" width="15.7" height="16.1" fill="#7f7f7f"/><rect x="1030.3" y="602.4" width="15.7" height="16.1" fill="#7d7d7d"/><rect x="1045.8" y="602.4" width="15.7" height="16.1" fill="#7b7b7b"/><rect x="1061.2" y="602.4" width="15.7" height="16.1" fill="#7a7a7a"/><rect x="1076.6" y="602.4" width="15.7" height="16.1" fill="#787878"/><rect x="1092" y="602.4" width="15.7" height="16.1" fill="#767676"/><rect x="1107.4" y="602.4" width="15.7" height="16.1" fill="#747474"/><rect x="1122.8" y="602.4" width="31.1" height="16.1" fill="#727272"/><rect x="1153.6" y="602.4" width="31.1" height="16.1" fill="#717171"/><rect x="1184.5" y="602.4" width="31.1" height="16.1" fill="#707070"/><rect x="1215.3" y="602.4" width="15.7" height="16.1" fill="#717171"/><rect x="1230.7" y="602.4" width="15.7" height="16.1" fill="#727272"/><rect x="1246.1" y="602.4" width="15.7" height="16.1" fill="#737373"/><rect x="1261.5" y="602.4" width="15.7" height="16.1" fill="#747474"/><rect x="1276.9" y="602.4" width="15.7" height="16.1" fill="#757575"/><rect x="1292.3" y="602.4" width="15.7" height="16.1" fill="#787878"/><rect x="1307.8" y="602.4" width="15.7" height="16.1" fill="#7c7c7c"/><rect x="1323.2" y="602.4" width="15.7" height="16.1" fill="#7f7f7f"/><rect x="1338.6" y="602.4" width="15.7" height="16.1" fill="#828282"/><rect x="1354" y="602.4" width="46.5" height="16.1" fill="#838383"/><rect x="937.9" y="618.2" width="61.9" height="16.1" fill="#838383"/><rect x="999.5" y="618.2" width="15.7" height="16.1" fill="#818181"/><rect x="1014.9" y="618.2" width="15.7" height="16.1" fill="#7f7f7f"/><rect x="1030.3" y="618.2" width="15.7" height="16.1" fill="#7d7d7d"/><rect x="1045.8" y="618.2" width="15.7" height="16.1" fill="#7b7b7b"/><rect x="1061.2" y="618.2" width="15.7" height="16.1" fill="#7a7a7a"/><rect x="1076.6" y="618.2" width="15.7" height="16.1" fill="#787878"/><rect x="1092" y="618.2" width="15.7" height="16.1" fill="#767676"/><rect x="1107.4" y="618.2" width="15.7" height="16.1" fill="#747474"/><rect x="1122.8" y="618.2" width="31.1" height="16.1" fill="#727272"/><rect x="1153.6" y="618.2" width="31.1" height="16.1" fill="#717171"/><rect x="1184.5" y="618.2" width="31.1" height="16.1" fill="#707070"/><rect x="1215.3" y="618.2" width="15.7" height="16.1" fill="#717171"/><rect x="1230.7" y="618.2" width="15.7" height="16.1" fill="#727272"/><rect x="1246.1" y="618.2" width="15.7" height="16.1" fill="#737373"/><rect x="1261.5" y="618.2" width="15.7" height="16.1" fill="#747474"/><rect x="1276.9" y="618.2" width="15.7" height="16.1" fill="#757575"/><rect x="1292.3" y="618.2" width="15.7" height="16.1" fill="#787878"/><rect x="1307.8" y="618.2" width="15.7" height="16.1" fill="#7c7c7c"/><rect x="1323.2" y="618.2" width="15.7" height="16.1" fill="#7f7f7f"/><rect x="1338.6" y="618.2" width="15.7" height="16.1" fill="#828282"/><rect x="1354" y="618.2" width="46.5" height="16.1" fill="#838383"/><rect x="937.9" y="633.9" width="61.9" height="16.1" fill="#838383"/><rect x="999.5" y="633.9" width="15.7" height="16.1" fill="#818181"/><rect x="1014.9" y="633.9" width="15.7" height="16.1" fill="#7f7f7f"/><rect x="1030.3" y="633.9" width="15.7" height="16.1" fill="#7d7d7d"/><rect x="1045.8" y="633.9" width="15.7" height="16.1" fill="#7b7b7b"/><rect x="1061.2" y="633.9" width="15.7" height="16.1" fill="#7a7a7a"/><rect x="1076.6" y="633.9" width="15.7" height="16.1" fill="#787878"/><rect x="1092" y="633.9" width="15.7" height="16.1" fill="#767676"/><rect x="1107.4" y="633.9" width="15.7" height="16.1" fill="#747474"/><rect x="1122.8" y="633.9" width="31.1" height="16.1" fill="#727272"/><rect x="1153.6" y="633.9" width="31.1" height="16.1" fill="#717171"/><rect x="1184.5" y="633.9" width="31.1" height="16.1" fill="#707070"/><rect x="1215.3" y="633.9" width="15.7" height="16.1" fill="#717171"/><rect x="1230.7" y="633.9" width="15.7" height="16.1" fill="#727272"/><rect x="1246.1" y="633.9" width="15.7" height="16.1" fill="#737373"/><rect x="1261.5" y="633.9" width="15.7" height="16.1" fill="#747474"/><rect x="1276.9" y="633.9" width="15.7" height="16.1" fill="#757575"/><rect x="1292.3" y="633.9" width="15.7" height="16.1" fill="#787878"/><rect x="1307.8" y="633.9" width="15.7" height="16.1" fill="#7c7c7c"/><rect x="1323.2" y="633.9" width="15.7" height="16.1" fill="#7f7f7f"/><rect x="1338.6" y="633.9" width="15.7" height="16.1" fill="#828282"/><rect x="1354" y="633.9" width="46.5" height="16.1" fill="#838383"/></g></g>
<g clip-path="url(#cpc2)"><g filter="url(#hfc2)" shape-rendering="crispEdges"><rect x="1489.9" y="3.2" width="46.4" height="16" fill="#c7c7c7"/><rect x="1536" y="3.2" width="15.7" height="16" fill="#c2c2c2"/><rect x="1551.4" y="3.2" width="15.7" height="16" fill="#b8b8b8"/><rect x="1566.8" y="3.2" width="15.7" height="16" fill="#aeaeae"/><rect x="1582.1" y="3.2" width="15.7" height="16" fill="#aaaaaa"/><rect x="1597.5" y="3.2" width="15.7" height="16" fill="#a7a7a7"/><rect x="1612.9" y="3.2" width="15.7" height="16" fill="#a5a5a5"/><rect x="1628.2" y="3.2" width="46.4" height="16" fill="#a4a4a4"/><rect x="1674.4" y="3.2" width="15.7" height="16" fill="#a5a5a5"/><rect x="1689.8" y="3.2" width="15.7" height="16" fill="#a7a7a7"/><rect x="1705.1" y="3.2" width="15.7" height="16" fill="#a9a9a9"/><rect x="1720.5" y="3.2" width="15.7" height="16" fill="#ababab"/><rect x="1735.9" y="3.2" width="15.7" height="16" fill="#acacac"/><rect x="1751.2" y="3.2" width="15.7" height="16" fill="#aeaeae"/><rect x="1766.6" y="3.2" width="15.7" height="16" fill="#b0b0b0"/><rect x="1782" y="3.2" width="15.7" height="16" fill="#b2b2b2"/><rect x="1797.4" y="3.2" width="15.7" height="16" fill="#b3b3b3"/><rect x="1812.8" y="3.2" width="15.7" height="16" fill="#b5b5b5"/><rect x="1828.1" y="3.2" width="15.7" height="16" fill="#b7b7b7"/><rect x="1843.5" y="3.2" width="15.7" height="16" fill="#bababa"/><rect x="1858.9" y="3.2" width="15.7" height="16" fill="#bdbdbd"/><rect x="1874.2" y="3.2" width="15.7" height="16" fill="#c2c2c2"/><rect x="1889.6" y="3.2" width="15.7" height="16" fill="#c7c7c7"/><rect x="1905" y="3.2" width="46.4" height="16" fill="#c9c9c9"/><rect x="1489.9" y="18.9" width="46.4" height="16" fill="#c7c7c7"/><rect x="1536" y="18.9" width="15.7" height="16" fill="#c2c2c2"/><rect x="1551.4" y="18.9" width="15.7" height="16" fill="#b8b8b8"/><rect x="1566.8" y="18.9" width="15.7" height="16" fill="#aeaeae"/><rect x="1582.1" y="18.9" width="15.7" height="16" fill="#aaaaaa"/><rect x="1597.5" y="18.9" width="15.7" height="16" fill="#a7a7a7"/><rect x="1612.9" y="18.9" width="15.7" height="16" fill="#a5a5a5"/><rect x="1628.2" y="18.9" width="46.4" height="16" fill="#a4a4a4"/><rect x="1674.4" y="18.9" width="15.7" height="16" fill="#a5a5a5"/><rect x="1689.8" y="18.9" width="15.7" height="16" fill="#a7a7a7"/><rect x="1705.1" y="18.9" width="15.7" height="16" fill="#a9a9a9"/><rect x="1720.5" y="18.9" width="15.7" height="16" fill="#ababab"/><rect x="1735.9" y="18.9" width="15.7" height="16" fill="#acacac"/><rect x="1751.2" y="18.9" width="15.7" height="16" fill="#aeaeae"/><rect x="1766.6" y="18.9" width="15.7" height="16" fill="#b0b0b0"/><rect x="1782" y="18.9" width="15.7" height="16" fill="#b2b2b2"/><rect x="1797.4" y="18.9" width="15.7" height="16" fill="#b3b3b3"/><rect x="1812.8" y="18.9" width="15.7" height="16" fill="#b5b5b5"/><rect x="1828.1" y="18.9" width="15.7" height="16" fill="#b7b7b7"/><rect x="1843.5" y="18.9" width="15.7" height="16" fill="#bababa"/><rect x="1858.9" y="18.9" width="15.7" height="16" fill="#bdbdbd"/><rect x="1874.2" y="18.9" width="15.7" height="16" fill="#c2c2c2"/><rect x="1889.6" y="18.9" width="15.7" height="16" fill="#c7c7c7"/><rect x="1905" y="18.9" width="46.4" height="16" fill="#c9c9c9"/><rect x="1489.9" y="34.7" width="46.4" height="16" fill="#c7c7c7"/><rect x="1536" y="34.7" width="15.7" height="16" fill="#c2c2c2"/><rect x="1551.4" y="34.7" width="15.7" height="16" fill="#b8b8b8"/><rect x="1566.8" y="34.7" width="15.7" height="16" fill="#aeaeae"/><rect x="1582.1" y="34.7" width="15.7" height="16" fill="#aaaaaa"/><rect x="1597.5" y="34.7" width="15.7" height="16" fill="#a7a7a7"/><rect x="1612.9" y="34.7" width="15.7" height="16" fill="#a5a5a5"/><rect x="1628.2" y="34.7" width="46.4" height="16" fill="#a4a4a4"/><rect x="1674.4" y="34.7" width="15.7" height="16" fill="#a5a5a5"/><rect x="1689.8" y="34.7" width="15.7" height="16" fill="#a7a7a7"/><rect x="1705.1" y="34.7" width="15.7" height="16" fill="#a9a9a9"/><rect x="1720.5" y="34.7" width="15.7" height="16" fill="#ababab"/><rect x="1735.9" y="34.7" width="15.7" height="16" fill="#acacac"/><rect x="1751.2" y="34.7" width="15.7" height="16" fill="#aeaeae"/><rect x="1766.6" y="34.7" width="15.7" height="16" fill="#b0b0b0"/><rect x="1782" y="34.7" width="15.7" height="16" fill="#b2b2b2"/><rect x="1797.4" y="34.7" width="15.7" height="16" fill="#b3b3b3"/><rect x="1812.8" y="34.7" width="15.7" height="16" fill="#b5b5b5"/><rect x="1828.1" y="34.7" width="15.7" height="16" fill="#b7b7b7"/><rect x="1843.5" y="34.7" width="15.7" height="16" fill="#bababa"/><rect x="1858.9" y="34.7" width="15.7" height="16" fill="#bdbdbd"/><rect x="1874.2" y="34.7" width="15.7" height="16" fill="#c2c2c2"/><rect x="1889.6" y="34.7" width="15.7" height="16" fill="#c7c7c7"/><rect x="1905" y="34.7" width="46.4" height="16" fill="#c9c9c9"/><rect x="1489.9" y="50.4" width="46.4" height="16" fill="#c3c3c3"/><rect x="1536" y="50.4" width="15.7" height="16" fill="#bfbfbf"/><rect x="1551.4" y="50.4" width="15.7" height="16" fill="#b5b5b5"/><rect x="1566.8" y="50.4" width="15.7" height="16" fill="#acacac"/><rect x="1582.1" y="50.4" width="15.7" height="16" fill="#a8a8a8"/><rect x="1597.5" y="50.4" width="15.7" height="16" fill="#a5a5a5"/><rect x="1612.9" y="50.4" width="15.7" height="16" fill="#a3a3a3"/><rect x="1628.2" y="50.4" width="15.7" height="16" fill="#a2a2a2"/><rect x="1643.6" y="50.4" width="15.7" height="16" fill="#a1a1a1"/><rect x="1659" y="50.4" width="15.7" height="16" fill="#a2a2a2"/><rect x="1674.4" y="50.4" width="15.7" height="16" fill="#a3a3a3"/><rect x="1689.8" y="50.4" width="15.7" height="16" fill="#a4a4a4"/><rect x="1705.1" y="50.4" width="15.7" height="16" fill="#a6a6a6"/><rect x="1720.5" y="50.4" width="15.7" height="16" fill="#a8a8a8"/><rect x="1735.9" y="50.4" width="15.7" height="16" fill="#aaaaaa"/><rect x="1751.2" y="50.4" width="15.7" height="16" fill="#ababab"/><rect x="1766.6" y="50.4" width="15.7" height="16" fill="#adadad"/><rect x="1782" y="50.4" width="15.7" height="16" fill="#afafaf"/><rect x="1797.4" y="50.4" width="15.7" height="16" fill="#b1b1b1"/><rect x="1812.8" y="50.4" width="15.7" height="16" fill="#b3b3b3"/><rect x="1828.1" y="50.4" width="15.7" height="16" fill="#b5b5b5"/><rect x="1843.5" y="50.4" width="15.7" height="16" fill="#b8b8b8"/><rect x="1858.9" y="50.4" width="15.7" height="16" fill="#bbbbbb"/><rect x="1874.2" y="50.4" width="15.7" height="16" fill="#c0c0c0"/><rect x="1889.6" y="50.4" width="15.7" height="16" fill="#c4c4c4"/><rect x="1905" y="50.4" width="46.4" height="16" fill="#c6c6c6"/><rect x="1489.9" y="66.1" width="46.4" height="16" fill="#bcbcbc"/><rect x="1536" y="66.1" width="15.7" height="16" fill="#b9b9b9"/><rect x="1551.4" y="66.1" width="15.7" height="16" fill="#b0b0b0"/><rect x="1566.8" y="66.1" width="15.7" height="16" fill="#a9a9a9"/><rect x="1582.1" y="66.1" width="15.7" height="16" fill="#a5a5a5"/><rect x="1597.5" y="66.1" width="15.7" height="16" fill="#a1a1a1"/><rect x="1612.9" y="66.1" width="15.7" height="16" fill="#9f9f9f"/><rect x="1628.2" y="66.1" width="15.7" height="16" fill="#9d9d9d"/><rect x="1643.6" y="66.1" width="31.1" height="16" fill="#9c9c9c"/><rect x="1674.4" y="66.1" width="15.7" height="16" fill="#9d9d9d"/><rect x="1689.8" y="66.1" width="15.7" height="16" fill="#9e9e9e"/><rect x="1705.1" y="66.1" width="15.7" height="16" fill="#a0a0a0"/><rect x="1720.5" y="66.1" width="15.7" height="16" fill="#a2a2a2"/><rect x="1735.9" y="66.1" width="15.7" height="16" fill="#a4a4a4"/><rect x="1751.2" y="66.1" width="15.7" height="16" fill="#a5a5a5"/><rect x="1766.6" y="66.1" width="15.7" height="16" fill="#a7a7a7"/><rect x="1782" y="66.1" width="15.7" height="16" fill="#a9a9a9"/><rect x="1797.4" y="66.1" width="15.7" height="16" fill="#ababab"/><rect x="1812.8" y="66.1" width="15.7" height="16" fill="#aeaeae"/><rect x="1828.1" y="66.1" width="15.7" height="16" fill="#b1b1b1"/><rect x="1843.5" y="66.1" width="15.7" height="16" fill="#b4b4b4"/><rect x="1858.9" y="66.1" width="15.7" height="16" fill="#b7b7b7"/><rect x="1874.2" y="66.1" width="15.7" height="16" fill="#bbbbbb"/><rect x="1889.6" y="66.1" width="15.7" height="16" fill="#bfbfbf"/><rect x="1905" y="66.1" width="46.4" height="16" fill="#c1c1c1"/><rect x="1489.9" y="81.9" width="46.4" height="16" fill="#b5b5b5"/><rect x="1536" y="81.9" width="15.7" height="16" fill="#b2b2b2"/><rect x="1551.4" y="81.9" width="15.7" height="16" fill="#aaaaaa"/><rect x="1566.8" y="81.9" width="15.7" height="16" fill="#a3a3a3"/><rect x="1582.1" y="81.9" width="15.7" height="16" fill="#9f9f9f"/><rect x="1597.5" y="81.9" width="15.7" height="16" fill="#9b9b9b"/><rect x="1612.9" y="81.9" width="15.7" height="16" fill="#999999"/><rect x="1628.2" y="81.9" width="15.7" height="16" fill="#979797"/><rect x="1643.6" y="81.9" width="46.4" height="16" fill="#969696"/><rect x="1689.8" y="81.9" width="15.7" height="16" fill="#979797"/><rect x="1705.1" y="81.9" width="15.7" height="16" fill="#999999"/><rect x="1720.5" y="81.9" width="15.7" height="16" fill="#9b9b9b"/><rect x="1735.9" y="81.9" width="15.7" height="16" fill="#9d9d9d"/><rect x="1751.2" y="81.9" width="15.7" height="16" fill="#9f9f9f"/><rect x="1766.6" y="81.9" width="15.7" height="16" fill="#a1a1a1"/><rect x="1782" y="81.9" width="15.7" height="16" fill="#a4a4a4"/><rect x="1797.4" y="81.9" width="15.7" height="16" fill="#a6a6a6"/><rect x="1812.8" y="81.9" width="15.7" height="16" fill="#a9a9a9"/><rect x="1828.1" y="81.9" width="15.7" height="16" fill="#acacac"/><rect x="1843.5" y="81.9" width="15.7" height="16" fill="#afafaf"/><rect x="1858.9" y="81.9" width="15.7" height="16" fill="#b3b3b3"/><rect x="1874.2" y="81.9" width="15.7" height="16" fill="#b6b6b6"/><rect x="1889.6" y="81.9" width="15.7" height="16" fill="#bababa"/><rect x="1905" y="81.9" width="46.4" height="16" fill="#bbbbbb"/><rect x="1489.9" y="97.6" width="46.4" height="16" fill="#aeaeae"/><rect x="1536" y="97.6" width="15.7" height="16" fill="#ababab"/><rect x="1551.4" y="97.6" width="15.7" height="16" fill="#a4a4a4"/><rect x="1566.8" y="97.6" width="15.7" height="16" fill="#9d9d9d"/><rect x="1582.1" y="97.6" width="15.7" height="16" fill="#989898"/><rect x="1597.5" y="97.6" width="15.7" height="16" fill="#949494"/><rect x="1612.9" y="97.6" width="15.7" height="16" fill="#919191"/><rect x="1628.2" y="97.6" width="15.7" height="16" fill="#8f8f8f"/><rect x="1643.6" y="97.6" width="46.4" height="16" fill="#8e8e8e"/><rect x="1689.8" y="97.6" width="15.7" height="16" fill="#909090"/><rect x="1705.1" y="97.6" width="15.7" height="16" fill="#929292"/><rect x="1720.5" y="97.6" width="15.7" height="16" fill="#949494"/><rect x="1735.9" y="97.6" width="15.7" height="16" fill="#979797"/><rect x="1751.2" y="97.6" width="15.7" height="16" fill="#999999"/><rect x="1766.6" y="97.6" width="15.7" height="16" fill="#9c9c9c"/><rect x="1782" y="97.6" width="15.7" height="16" fill="#9f9f9f"/><rect x="1797.4" y="97.6" width="15.7" height="16" fill="#a1a1a1"/><rect x="1812.8" y="97.6" width="15.7" height="16" fill="#a4a4a4"/><rect x="1828.1" y="97.6" width="15.7" height="16" fill="#a7a7a7"/><rect x="1843.5" y="97.6" width="15.7" height="16" fill="#aaaaaa"/><rect x="1858.9" y="97.6" width="15.7" height="16" fill="#aeaeae"/><rect x="1874.2" y="97.6" width="15.7" height="16" fill="#b2b2b2"/><rect x="1889.6" y="97.6" width="15.7" height="16" fill="#b5b5b5"/><rect x="1905" y="97.6" width="46.4" height="16" fill="#b7b7b7"/><rect x="1489.9" y="113.4" width="46.4" height="16" fill="#a6a6a6"/><rect x="1536" y="113.4" width="15.7" height="16" fill="#a3a3a3"/><rect x="1551.4" y="113.4" width="15.7" height="16" fill="#9c9c9c"/><rect x="1566.8" y="113.4" width="15.7" height="16" fill="#949494"/><rect x="1582.1" y="113.4" width="15.7" height="16" fill="#8f8f8f"/><rect x="1597.5" y="113.4" width="15.7" height="16" fill="#898989"/><rect x="1612.9" y="113.4" width="15.7" height="16" fill="#868686"/><rect x="1628.2" y="113.4" width="15.7" height="16" fill="#858585"/><rect x="1643.6" y="113.4" width="31.1" height="16" fill="#848484"/><rect x="1674.4" y="113.4" width="15.7" height="16" fill="#858585"/><rect x="1689.8" y="113.4" width="15.7" height="16" fill="#878787"/><rect x="1705.1" y="113.4" width="15.7" height="16" fill="#898989"/><rect x="1720.5" y="113.4" width="15.7" height="16" fill="#8c8c8c"/><rect x="1735.9" y="113.4" width="15.7" height="16" fill="#8f8f8f"/><rect x="1751.2" y="113.4" width="15.7" height="16" fill="#929292"/><rect x="1766.6" y="113.4" width="15.7" height="16" fill="#959595"/><rect x="1782" y="113.4" width="15.7" height="16" fill="#989898"/><rect x="1797.4" y="113.4" width="15.7" height="16" fill="#9c9c9c"/><rect x="1812.8" y="113.4" width="15.7" height="16" fill="#9f9f9f"/><rect x="1828.1" y="113.4" width="15.7" height="16" fill="#a2a2a2"/><rect x="1843.5" y="113.4" width="15.7" height="16" fill="#a6a6a6"/><rect x="1858.9" y="113.4" width="15.7" height="16" fill="#aaaaaa"/><rect x="1874.2" y="113.4" width="15.7" height="16" fill="#aeaeae"/><rect x="1889.6" y="113.4" width="15.7" height="16" fill="#b1b1b1"/><rect x="1905" y="113.4" width="46.4" height="16" fill="#b3b3b3"/><rect x="1489.9" y="129.1" width="46.4" height="16" fill="#9f9f9f"/><rect x="1536" y="129.1" width="15.7" height="16" fill="#9b9b9b"/><rect x="1551.4" y="129.1" width="15.7" height="16" fill="#939393"/><rect x="1566.8" y="129.1" width="15.7" height="16" fill="#8b8b8b"/><rect x="1582.1" y="129.1" width="15.7" height="16" fill="#858585"/><rect x="1597.5" y="129.1" width="15.7" height="16" fill="#7f7f7f"/><rect x="1612.9" y="129.1" width="15.7" height="16" fill="#7c7c7c"/><rect x="1628.2" y="129.1" width="15.7" height="16" fill="#7a7a7a"/><rect x="1643.6" y="129.1" width="15.7" height="16" fill="#797979"/><rect x="1659" y="129.1" width="15.7" height="16" fill="#7a7a7a"/><rect x="1674.4" y="129.1" width="15.7" height="16" fill="#7b7b7b"/><rect x="1689.8" y="129.1" width="15.7" height="16" fill="#7d7d7d"/><rect x="1705.1" y="129.1" width="15.7" height="16" fill="#808080"/><rect x="1720.5" y="129.1" width="15.7" height="16" fill="#838383"/><rect x="1735.9" y="129.1" width="15.7" height="16" fill="#878787"/><rect x="1751.2" y="129.1" width="15.7" height="16" fill="#8b8b8b"/><rect x="1766.6" y="129.1" width="15.7" height="16" fill="#8e8e8e"/><rect x="1782" y="129.1" width="15.7" height="16" fill="#929292"/><rect x="1797.4" y="129.1" width="15.7" height="16" fill="#969696"/><rect x="1812.8" y="129.1" width="15.7" height="16" fill="#999999"/><rect x="1828.1" y="129.1" width="15.7" height="16" fill="#9d9d9d"/><rect x="1843.5" y="129.1" width="15.7" height="16" fill="#a2a2a2"/><rect x="1858.9" y="129.1" width="15.7" height="16" fill="#a6a6a6"/><rect x="1874.2" y="129.1" width="15.7" height="16" fill="#aaaaaa"/><rect x="1889.6" y="129.1" width="15.7" height="16" fill="#aeaeae"/><rect x="1905" y="129.1" width="46.4" height="16" fill="#afafaf"/><rect x="1489.9" y="144.9" width="46.4" height="16" fill="#989898"/><rect x="1536" y="144.9" width="15.7" height="16" fill="#939393"/><rect x="1551.4" y="144.9" width="15.7" height="16" fill="#8a8a8a"/><rect x="1566.8" y="144.9" width="15.7" height="16" fill="#808080"/><rect x="1582.1" y="144.9" width="15.7" height="16" fill="#7b7b7b"/><rect x="1597.5" y="144.9" width="15.7" height="16" fill="#757575"/><rect x="1612.9" y="144.9" width="15.7" height="16" fill="#727272"/><rect x="1628.2" y="144.9" width="15.7" height="16" fill="#707070"/><rect x="1643.6" y="144.9" width="15.7" height="16" fill="#6f6f6f"/><rect x="1659" y="144.9" width="15.7" height="16" fill="#707070"/><rect x="1674.4" y="144.9" width="15.7" height="16" fill="#717171"/><rect x="1689.8" y="144.9" width="15.7" height="16" fill="#747474"/><rect x="1705.1" y="144.9" width="15.7" height="16" fill="#777777"/><rect x="1720.5" y="144.9" width="15.7" height="16" fill="#7b7b7b"/><rect x="1735.9" y="144.9" width="15.7" height="16" fill="#7f7f7f"/><rect x="1751.2" y="144.9" width="15.7" height="16" fill="#848484"/><rect x="1766.6" y="144.9" width="15.7" height="16" fill="#888888"/><rect x="1782" y="144.9" width="15.7" height="16" fill="#8c8c8c"/><rect x="1797.4" y="144.9" width="15.7" height="16" fill="#909090"/><rect x="1812.8" y="144.9" width="15.7" height="16" fill="#949494"/><rect x="1828.1" y="144.9" width="15.7" height="16" fill="#999999"/><rect x="1843.5" y="144.9" width="15.7" height="16" fill="#9d9d9d"/><rect x="1858.9" y="144.9" width="15.7" height="16" fill="#a1a1a1"/><rect x="1874.2" y="144.9" width="15.7" height="16" fill="#a6a6a6"/><rect x="1889.6" y="144.9" width="15.7" height="16" fill="#aaaaaa"/><rect x="1905" y="144.9" width="46.4" height="16" fill="#acacac"/><rect x="1489.9" y="160.6" width="46.4" height="16" fill="#929292"/><rect x="1536" y="160.6" width="15.7" height="16" fill="#8c8c8c"/><rect x="1551.4" y="160.6" width="15.7" height="16" fill="#818181"/><rect x="1566.8" y="160.6" width="15.7" height="16" fill="#777777"/><rect x="1582.1" y="160.6" width="15.7" height="16" fill="#717171"/><rect x="1597.5" y="160.6" width="15.7" height="16" fill="#6c6c6c"/><rect x="1612.9" y="160.6" width="15.7" height="16" fill="#696969"/><rect x="1628.2" y="160.6" width="15.7" height="16" fill="#676767"/><rect x="1643.6" y="160.6" width="15.7" height="16" fill="#666666"/><rect x="1659" y="160.6" width="15.7" height="16" fill="#676767"/><rect x="1674.4" y="160.6" width="15.7" height="16" fill="#686868"/><rect x="1689.8" y="160.6" width="15.7" height="16" fill="#6b6b6b"/><rect x="1705.1" y="160.6" width="15.7" height="16" fill="#6f6f6f"/><rect x="1720.5" y="160.6" width="15.7" height="16" fill="#737373"/><rect x="1735.9" y="160.6" width="15.7" height="16" fill="#787878"/><rect x="1751.2" y="160.6" width="15.7" height="16" fill="#7c7c7c"/><rect x="1766.6" y="160.6" width="15.7" height="16" fill="#818181"/><rect x="1782" y="160.6" width="15.7" height="16" fill="#868686"/><rect x="1797.4" y="160.6" width="15.7" height="16" fill="#8a8a8a"/><rect x="1812.8" y="160.6" width="15.7" height="16" fill="#8f8f8f"/><rect x="1828.1" y="160.6" width="15.7" height="16" fill="#949494"/><rect x="1843.5" y="160.6" width="15.7" height="16" fill="#989898"/><rect x="1858.9" y="160.6" width="15.7" height="16" fill="#9c9c9c"/><rect x="1874.2" y="160.6" width="15.7" height="16" fill="#a1a1a1"/><rect x="1889.6" y="160.6" width="15.7" height="16" fill="#a5a5a5"/><rect x="1905" y="160.6" width="46.4" height="16" fill="#a7a7a7"/><rect x="1489.9" y="176.4" width="46.4" height="16" fill="#8d8d8d"/><rect x="1536" y="176.4" width="15.7" height="16" fill="#878787"/><rect x="1551.4" y="176.4" width="15.7" height="16" fill="#7a7a7a"/><rect x="1566.8" y="176.4" width="15.7" height="16" fill="#6e6e6e"/><rect x="1582.1" y="176.4" width="15.7" height="16" fill="#696969"/><rect x="1597.5" y="176.4" width="15.7" height="16" fill="#646464"/><rect x="1612.9" y="176.4" width="15.7" height="16" fill="#616161"/><rect x="1628.2" y="176.4" width="15.7" height="16" fill="#5f5f5f"/><rect x="1643.6" y="176.4" width="15.7" height="16" fill="#5e5e5e"/><rect x="1659" y="176.4" width="15.7" height="16" fill="#5f5f5f"/><rect x="1674.4" y="176.4" width="15.7" height="16" fill="#606060"/><rect x="1689.8" y="176.4" width="15.7" height="16" fill="#636363"/><rect x="1705.1" y="176.4" width="15.7" height="16" fill="#666666"/><rect x="1720.5" y="176.4" width="15.7" height="16" fill="#6b6b6b"/><rect x="1735.9" y="176.4" width="15.7" height="16" fill="#707070"/><rect x="1751.2" y="176.4" width="15.7" height="16" fill="#757575"/><rect x="1766.6" y="176.4" width="15.7" height="16" fill="#7a7a7a"/><rect x="1782" y="176.4" width="15.7" height="16" fill="#7f7f7f"/><rect x="1797.4" y="176.4" width="15.7" height="16" fill="#858585"/><rect x="1812.8" y="176.4" width="15.7" height="16" fill="#8a8a8a"/><rect x="1828.1" y="176.4" width="15.7" height="16" fill="#8f8f8f"/><rect x="1843.5" y="176.4" width="15.7" height="16" fill="#939393"/><rect x="1858.9" y="176.4" width="15.7" height="16" fill="#989898"/><rect x="1874.2" y="176.4" width="15.7" height="16" fill="#9b9b9b"/><rect x="1889.6" y="176.4" width="15.7" height="16" fill="#9f9f9f"/><rect x="1905" y="176.4" width="46.4" height="16" fill="#a1a1a1"/><rect x="1489.9" y="192.1" width="46.4" height="16" fill="#898989"/><rect x="1536" y="192.1" width="15.7" height="16" fill="#838383"/><rect x="1551.4" y="192.1" width="15.7" height="16" fill="#757575"/><rect x="1566.8" y="192.1" width="15.7" height="16" fill="#696969"/><rect x="1582.1" y="192.1" width="15.7" height="16" fill="#626262"/><rect x="1597.5" y="192.1" width="15.7" height="16" fill="#5c5c5c"/><rect x="1612.9" y="192.1" width="15.7" height="16" fill="#595959"/><rect x="1628.2" y="192.1" width="15.7" height="16" fill="#575757"/><rect x="1643.6" y="192.1" width="15.7" height="16" fill="#565656"/><rect x="1659" y="192.1" width="15.7" height="16" fill="#575757"/><rect x="1674.4" y="192.1" width="15.7" height="16" fill="#585858"/><rect x="1689.8" y="192.1" width="15.7" height="16" fill="#5b5b5b"/><rect x="1705.1" y="192.1" width="15.7" height="16" fill="#5f5f5f"/><rect x="1720.5" y="192.1" width="15.7" height="16" fill="#636363"/><rect x="1735.9" y="192.1" width="15.7" height="16" fill="#696969"/><rect x="1751.2" y="192.1" width="15.7" height="16" fill="#6e6e6e"/><rect x="1766.6" y="192.1" width="15.7" height="16" fill="#747474"/><rect x="1782" y="192.1" width="15.7" height="16" fill="#797979"/><rect x="1797.4" y="192.1" width="15.7" height="16" fill="#7f7f7f"/><rect x="1812.8" y="192.1" width="15.7" height="16" fill="#848484"/><rect x="1828.1" y="192.1" width="15.7" height="16" fill="#898989"/><rect x="1843.5" y="192.1" width="15.7" height="16" fill="#8e8e8e"/><rect x="1858.9" y="192.1" width="15.7" height="16" fill="#939393"/><rect x="1874.2" y="192.1" width="15.7" height="16" fill="#969696"/><rect x="1889.6" y="192.1" width="15.7" height="16" fill="#9a9a9a"/><rect x="1905" y="192.1" width="46.4" height="16" fill="#9c9c9c"/><rect x="1489.9" y="207.9" width="46.4" height="16" fill="#878787"/><rect x="1536" y="207.9" width="15.7" height="16" fill="#808080"/><rect x="1551.4" y="207.9" width="15.7" height="16" fill="#717171"/><rect x="1566.8" y="207.9" width="15.7" height="16" fill="#646464"/><rect x="1582.1" y="207.9" width="15.7" height="16" fill="#5c5c5c"/><rect x="1597.5" y="207.9" width="15.7" height="16" fill="#555555"/><rect x="1612.9" y="207.9" width="15.7" height="16" fill="#525252"/><rect x="1628.2" y="207.9" width="15.7" height="16" fill="#505050"/><rect x="1643.6" y="207.9" width="15.7" height="16" fill="#4f4f4f"/><rect x="1659" y="207.9" width="15.7" height="16" fill="#505050"/><rect x="1674.4" y="207.9" width="15.7" height="16" fill="#515151"/><rect x="1689.8" y="207.9" width="15.7" height="16" fill="#545454"/><rect x="1705.1" y="207.9" width="15.7" height="16" fill="#575757"/><rect x="1720.5" y="207.9" width="15.7" height="16" fill="#5c5c5c"/><rect x="1735.9" y="207.9" width="15.7" height="16" fill="#616161"/><rect x="1751.2" y="207.9" width="15.7" height="16" fill="#676767"/><rect x="1766.6" y="207.9" width="15.7" height="16" fill="#6d6d6d"/><rect x="1782" y="207.9" width="15.7" height="16" fill="#737373"/><rect x="1797.4" y="207.9" width="15.7" height="16" fill="#797979"/><rect x="1812.8" y="207.9" width="15.7" height="16" fill="#7e7e7e"/><rect x="1828.1" y="207.9" width="15.7" height="16" fill="#838383"/><rect x="1843.5" y="207.9" width="15.7" height="16" fill="#898989"/><rect x="1858.9" y="207.9" width="15.7" height="16" fill="#8e8e8e"/><rect x="1874.2" y="207.9" width="15.7" height="16" fill="#929292"/><rect x="1889.6" y="207.9" width="15.7" height="16" fill="#959595"/><rect x="1905" y="207.9" width="46.4" height="16" fill="#979797"/><rect x="1489.9" y="223.6" width="46.4" height="16" fill="#848484"/><rect x="1536" y="223.6" width="15.7" height="16" fill="#7d7d7d"/><rect x="1551.4" y="223.6" width="15.7" height="16" fill="#6d6d6d"/><rect x="1566.8" y="223.6" width="15.7" height="16" fill="#606060"/><rect x="1582.1" y="223.6" width="15.7" height="16" fill="#585858"/><rect x="1597.5" y="223.6" width="15.7" height="16" fill="#505050"/><rect x="1612.9" y="223.6" width="15.7" height="16" fill="#4c4c4c"/><rect x="1628.2" y="223.6" width="15.7" height="16" fill="#4a4a4a"/><rect x="1643.6" y="223.6" width="31.1" height="16" fill="#494949"/><rect x="1674.4" y="223.6" width="15.7" height="16" fill="#4a4a4a"/><rect x="1689.8" y="223.6" width="15.7" height="16" fill="#4d4d4d"/><rect x="1705.1" y="223.6" width="15.7" height="16" fill="#505050"/><rect x="1720.5" y="223.6" width="15.7" height="16" fill="#555555"/><rect x="1735.9" y="223.6" width="15.7" height="16" fill="#5a5a5a"/><rect x="1751.2" y="223.6" width="15.7" height="16" fill="#5f5f5f"/><rect x="1766.6" y="223.6" width="15.7" height="16" fill="#666666"/><rect x="1782" y="223.6" width="15.7" height="16" fill="#6c6c6c"/><rect x="1797.4" y="223.6" width="15.7" height="16" fill="#727272"/><rect x="1812.8" y="223.6" width="15.7" height="16" fill="#777777"/><rect x="1828.1" y="223.6" width="15.7" height="16" fill="#7d7d7d"/><rect x="1843.5" y="223.6" width="15.7" height="16" fill="#838383"/><rect x="1858.9" y="223.6" width="15.7" height="16" fill="#898989"/><rect x="1874.2" y="223.6" width="15.7" height="16" fill="#8d8d8d"/><rect x="1889.6" y="223.6" width="15.7" height="16" fill="#919191"/><rect x="1905" y="223.6" width="46.4" height="16" fill="#939393"/><rect x="1489.9" y="239.4" width="46.4" height="16" fill="#828282"/><rect x="1536" y="239.4" width="15.7" height="16" fill="#7a7a7a"/><rect x="1551.4" y="239.4" width="15.7" height="16" fill="#6a6a6a"/><rect x="1566.8" y="239.4" width="15.7" height="16" fill="#5d5d5d"/><rect x="1582.1" y="239.4" width="15.7" height="16" fill="#555555"/><rect x="1597.5" y="239.4" width="15.7" height="16" fill="#4d4d4d"/><rect x="1612.9" y="239.4" width="15.7" height="16" fill="#484848"/><rect x="1628.2" y="239.4" width="15.7" height="16" fill="#454545"/><rect x="1643.6" y="239.4" width="46.4" height="16" fill="#434343"/><rect x="1689.8" y="239.4" width="15.7" height="16" fill="#464646"/><rect x="1705.1" y="239.4" width="15.7" height="16" fill="#494949"/><rect x="1720.5" y="239.4" width="15.7" height="16" fill="#4e4e4e"/><rect x="1735.9" y="239.4" width="15.7" height="16" fill="#535353"/><rect x="1751.2" y="239.4" width="15.7" height="16" fill="#585858"/><rect x="1766.6" y="239.4" width="15.7" height="16" fill="#5f5f5f"/><rect x="1782" y="239.4" width="15.7" height="16" fill="#656565"/><rect x="1797.4" y="239.4" width="15.7" height="16" fill="#6b6b6b"/><rect x="1812.8" y="239.4" width="15.7" height="16" fill="#717171"/><rect x="1828.1" y="239.4" width="15.7" height="16" fill="#787878"/><rect x="1843.5" y="239.4" width="15.7" height="16" fill="#7e7e7e"/><rect x="1858.9" y="239.4" width="15.7" height="16" fill="#848484"/><rect x="1874.2" y="239.4" width="15.7" height="16" fill="#898989"/><rect x="1889.6" y="239.4" width="15.7" height="16" fill="#8d8d8d"/><rect x="1905" y="239.4" width="46.4" height="16" fill="#8f8f8f"/><rect x="1489.9" y="255.1" width="46.4" height="16" fill="#808080"/><rect x="1536" y="255.1" width="15.7" height="16" fill="#787878"/><rect x="1551.4" y="255.1" width="15.7" height="16" fill="#696969"/><rect x="1566.8" y="255.1" width="15.7" height="16" fill="#5c5c5c"/><rect x="1582.1" y="255.1" width="15.7" height="16" fill="#535353"/><rect x="1597.5" y="255.1" width="15.7" height="16" fill="#4b4b4b"/><rect x="1612.9" y="255.1" width="15.7" height="16" fill="#464646"/><rect x="1628.2" y="255.1" width="15.7" height="16" fill="#424242"/><rect x="1643.6" y="255.1" width="31.1" height="16" fill="#3f3f3f"/><rect x="1674.4" y="255.1" width="15.7" height="16" fill="#3e3e3e"/><rect x="1689.8" y="255.1" width="15.7" height="16" fill="#414141"/><rect x="1705.1" y="255.1" width="15.7" height="16" fill="#434343"/><rect x="1720.5" y="255.1" width="15.7" height="16" fill="#484848"/><rect x="1735.9" y="255.1" width="15.7" height="16" fill="#4d4d4d"/><rect x="1751.2" y="255.1" width="15.7" height="16" fill="#525252"/><rect x="1766.6" y="255.1" width="15.7" height="16" fill="#585858"/><rect x="1782" y="255.1" width="15.7" height="16" fill="#5f5f5f"/><rect x="1797.4" y="255.1" width="15.7" height="16" fill="#656565"/><rect x="1812.8" y="255.1" width="15.7" height="16" fill="#6c6c6c"/><rect x="1828.1" y="255.1" width="15.7" height="16" fill="#737373"/><rect x="1843.5" y="255.1" width="15.7" height="16" fill="#797979"/><rect x="1858.9" y="255.1" width="15.7" height="16" fill="#7f7f7f"/><rect x="1874.2" y="255.1" width="15.7" height="16" fill="#848484"/><rect x="1889.6" y="255.1" width="15.7" height="16" fill="#888888"/><rect x="1905" y="255.1" width="46.4" height="16" fill="#8a8a8a"/><rect x="1489.9" y="270.9" width="46.4" height="16" fill="#7f7f7f"/><rect x="1536" y="270.9" width="15.7" height="16" fill="#787878"/><rect x="1551.4" y="270.9" width="15.7" height="16" fill="#696969"/><rect x="1566.8" y="270.9" width="15.7" height="16" fill="#5b5b5b"/><rect x="1582.1" y="270.9" width="15.7" height="16" fill="#535353"/><rect x="1597.5" y="270.9" width="15.7" height="16" fill="#4b4b4b"/><rect x="1612.9" y="270.9" width="15.7" height="16" fill="#454545"/><rect x="1628.2" y="270.9" width="15.7" height="16" fill="#404040"/><rect x="1643.6" y="270.9" width="15.7" height="16" fill="#3c3c3c"/><rect x="1659" y="270.9" width="15.7" height="16" fill="#3b3b3b"/><rect x="1674.4" y="270.9" width="15.7" height="16" fill="#393939"/><rect x="1689.8" y="270.9" width="15.7" height="16" fill="#3b3b3b"/><rect x="1705.1" y="270.9" width="15.7" height="16" fill="#3e3e3e"/><rect x="1720.5" y="270.9" width="15.7" height="16" fill="#424242"/><rect x="1735.9" y="270.9" width="15.7" height="16" fill="#474747"/><rect x="1751.2" y="270.9" width="15.7" height="16" fill="#4c4c4c"/><rect x="1766.6" y="270.9" width="15.7" height="16" fill="#535353"/><rect x="1782" y="270.9" width="15.7" height="16" fill="#595959"/><rect x="1797.4" y="270.9" width="15.7" height="16" fill="#606060"/><rect x="1812.8" y="270.9" width="15.7" height="16" fill="#676767"/><rect x="1828.1" y="270.9" width="15.7" height="16" fill="#6e6e6e"/><rect x="1843.5" y="270.9" width="15.7" height="16" fill="#747474"/><rect x="1858.9" y="270.9" width="15.7" height="16" fill="#7a7a7a"/><rect x="1874.2" y="270.9" width="15.7" height="16" fill="#7f7f7f"/><rect x="1889.6" y="270.9" width="15.7" height="16" fill="#838383"/><rect x="1905" y="270.9" width="46.4" height="16" fill="#858585"/><rect x="1489.9" y="286.6" width="46.4" height="16" fill="#7f7f7f"/><rect x="1536" y="286.6" width="15.7" height="16" fill="#787878"/><rect x="1551.4" y="286.6" width="15.7" height="16" fill="#6a6a6a"/><rect x="1566.8" y="286.6" width="15.7" height="16" fill="#5d5d5d"/><rect x="1582.1" y="286.6" width="15.7" height="16" fill="#545454"/><rect x="1597.5" y="286.6" width="15.7" height="16" fill="#4b4b4b"/><rect x="1612.9" y="286.6" width="15.7" height="16" fill="#444444"/><rect x="1628.2" y="286.6" width="15.7" height="16" fill="#3e3e3e"/><rect x="1643.6" y="286.6" width="15.7" height="16" fill="#393939"/><rect x="1659" y="286.6" width="15.7" height="16" fill="#373737"/><rect x="1674.4" y="286.6" width="15.7" height="16" fill="#353535"/><rect x="1689.8" y="286.6" width="15.7" height="16" fill="#363636"/><rect x="1705.1" y="286.6" width="15.7" height="16" fill="#383838"/><rect x="1720.5" y="286.6" width="15.7" height="16" fill="#3b3b3b"/><rect x="1735.9" y="286.6" width="15.7" height="16" fill="#404040"/><rect x="1751.2" y="286.6" width="15.7" height="16" fill="#464646"/><rect x="1766.6" y="286.6" width="15.7" height="16" fill="#4d4d4d"/><rect x="1782" y="286.6" width="15.7" height="16" fill="#545454"/><rect x="1797.4" y="286.6" width="15.7" height="16" fill="#5b5b5b"/><rect x="1812.8" y="286.6" width="15.7" height="16" fill="#626262"/><rect x="1828.1" y="286.6" width="15.7" height="16" fill="#686868"/><rect x="1843.5" y="286.6" width="15.7" height="16" fill="#6f6f6f"/><rect x="1858.9" y="286.6" width="15.7" height="16" fill="#757575"/><rect x="1874.2" y="286.6" width="15.7" height="16" fill="#7a7a7a"/><rect x="1889.6" y="286.6" width="15.7" height="16" fill="#7e7e7e"/><rect x="1905" y="286.6" width="46.4" height="16" fill="#808080"/><rect x="1489.9" y="302.4" width="46.4" height="16" fill="#7f7f7f"/><rect x="1536" y="302.4" width="15.7" height="16" fill="#787878"/><rect x="1551.4" y="302.4" width="15.7" height="16" fill="#6b6b6b"/><rect x="1566.8" y="302.4" width="15.7" height="16" fill="#5e5e5e"/><rect x="1582.1" y="302.4" width="15.7" height="16" fill="#545454"/><rect x="1597.5" y="302.4" width="15.7" height="16" fill="#4a4a4a"/><rect x="1612.9" y="302.4" width="15.7" height="16" fill="#424242"/><rect x="1628.2" y="302.4" width="15.7" height="16" fill="#3a3a3a"/><rect x="1643.6" y="302.4" width="15.7" height="16" fill="#343434"/><rect x="1659" y="302.4" width="15.7" height="16" fill="#313131"/><rect x="1674.4" y="302.4" width="15.7" height="16" fill="#2e2e2e"/><rect x="1689.8" y="302.4" width="15.7" height="16" fill="#2d2d2d"/><rect x="1705.1" y="302.4" width="15.7" height="16" fill="#2e2e2e"/><rect x="1720.5" y="302.4" width="15.7" height="16" fill="#303030"/><rect x="1735.9" y="302.4" width="15.7" height="16" fill="#333333"/><rect x="1751.2" y="302.4" width="15.7" height="16" fill="#373737"/><rect x="1766.6" y="302.4" width="15.7" height="16" fill="#3c3c3c"/><rect x="1782" y="302.4" width="15.7" height="16" fill="#424242"/><rect x="1797.4" y="302.4" width="15.7" height="16" fill="#494949"/><rect x="1812.8" y="302.4" width="15.7" height="16" fill="#505050"/><rect x="1828.1" y="302.4" width="15.7" height="16" fill="#575757"/><rect x="1843.5" y="302.4" width="15.7" height="16" fill="#5e5e5e"/><rect x="1858.9" y="302.4" width="15.7" height="16" fill="#666666"/><rect x="1874.2" y="302.4" width="15.7" height="16" fill="#6d6d6d"/><rect x="1889.6" y="302.4" width="15.7" height="16" fill="#747474"/><rect x="1905" y="302.4" width="46.4" height="16" fill="#777777"/><rect x="1489.9" y="318.1" width="46.4" height="16" fill="#7f7f7f"/><rect x="1536" y="318.1" width="15.7" height="16" fill="#787878"/><rect x="1551.4" y="318.1" width="15.7" height="16" fill="#6b6b6b"/><rect x="1566.8" y="318.1" width="15.7" height="16" fill="#5f5f5f"/><rect x="1582.1" y="318.1" width="15.7" height="16" fill="#545454"/><rect x="1597.5" y="318.1" width="15.7" height="16" fill="#494949"/><rect x="1612.9" y="318.1" width="15.7" height="16" fill="#3f3f3f"/><rect x="1628.2" y="318.1" width="15.7" height="16" fill="#363636"/><rect x="1643.6" y="318.1" width="15.7" height="16" fill="#2e2e2e"/><rect x="1659" y="318.1" width="15.7" height="16" fill="#2a2a2a"/><rect x="1674.4" y="318.1" width="15.7" height="16" fill="#262626"/><rect x="1689.8" y="318.1" width="15.7" height="16" fill="#242424"/><rect x="1705.1" y="318.1" width="31.1" height="16" fill="#232323"/><rect x="1735.9" y="318.1" width="15.7" height="16" fill="#242424"/><rect x="1751.2" y="318.1" width="15.7" height="16" fill="#252525"/><rect x="1766.6" y="318.1" width="15.7" height="16" fill="#292929"/><rect x="1782" y="318.1" width="15.7" height="16" fill="#2c2c2c"/><rect x="1797.4" y="318.1" width="15.7" height="16" fill="#323232"/><rect x="1812.8" y="318.1" width="15.7" height="16" fill="#393939"/><rect x="1828.1" y="318.1" width="15.7" height="16" fill="#414141"/><rect x="1843.5" y="318.1" width="15.7" height="16" fill="#4a4a4a"/><rect x="1858.9" y="318.1" width="15.7" height="16" fill="#535353"/><rect x="1874.2" y="318.1" width="15.7" height="16" fill="#5d5d5d"/><rect x="1889.6" y="318.1" width="15.7" height="16" fill="#676767"/><rect x="1905" y="318.1" width="46.4" height="16" fill="#6c6c6c"/><rect x="1489.9" y="333.9" width="46.4" height="16" fill="#818181"/><rect x="1536" y="333.9" width="15.7" height="16" fill="#7b7b7b"/><rect x="1551.4" y="333.9" width="15.7" height="16" fill="#6d6d6d"/><rect x="1566.8" y="333.9" width="15.7" height="16" fill="#606060"/><rect x="1582.1" y="333.9" width="15.7" height="16" fill="#535353"/><rect x="1597.5" y="333.9" width="15.7" height="16" fill="#474747"/><rect x="1612.9" y="333.9" width="15.7" height="16" fill="#3c3c3c"/><rect x="1628.2" y="333.9" width="15.7" height="16" fill="#313131"/><rect x="1643.6" y="333.9" width="15.7" height="16" fill="#282828"/><rect x="1659" y="333.9" width="15.7" height="16" fill="#232323"/><rect x="1674.4" y="333.9" width="15.7" height="16" fill="#1f1f1f"/><rect x="1689.8" y="333.9" width="15.7" height="16" fill="#1d1d1d"/><rect x="1705.1" y="333.9" width="15.7" height="16" fill="#1c1c1c"/><rect x="1720.5" y="333.9" width="31.1" height="16" fill="#1b1b1b"/><rect x="1751.2" y="333.9" width="15.7" height="16" fill="#1c1c1c"/><rect x="1766.6" y="333.9" width="15.7" height="16" fill="#1e1e1e"/><rect x="1782" y="333.9" width="15.7" height="16" fill="#212121"/><rect x="1797.4" y="333.9" width="15.7" height="16" fill="#262626"/><rect x="1812.8" y="333.9" width="15.7" height="16" fill="#2c2c2c"/><rect x="1828.1" y="333.9" width="15.7" height="16" fill="#343434"/><rect x="1843.5" y="333.9" width="15.7" height="16" fill="#3e3e3e"/><rect x="1858.9" y="333.9" width="15.7" height="16" fill="#484848"/><rect x="1874.2" y="333.9" width="15.7" height="16" fill="#555555"/><rect x="1889.6" y="333.9" width="15.7" height="16" fill="#616161"/><rect x="1905" y="333.9" width="46.4" height="16" fill="#676767"/><rect x="1489.9" y="349.6" width="46.4" height="16" fill="#848484"/><rect x="1536" y="349.6" width="15.7" height="16" fill="#7d7d7d"/><rect x="1551.4" y="349.6" width="15.7" height="16" fill="#6f6f6f"/><rect x="1566.8" y="349.6" width="15.7" height="16" fill="#616161"/><rect x="1582.1" y="349.6" width="15.7" height="16" fill="#545454"/><rect x="1597.5" y="349.6" width="15.7" height="16" fill="#464646"/><rect x="1612.9" y="349.6" width="15.7" height="16" fill="#393939"/><rect x="1628.2" y="349.6" width="15.7" height="16" fill="#2d2d2d"/><rect x="1643.6" y="349.6" width="15.7" height="16" fill="#232323"/><rect x="1659" y="349.6" width="15.7" height="16" fill="#1e1e1e"/><rect x="1674.4" y="349.6" width="15.7" height="16" fill="#1a1a1a"/><rect x="1689.8" y="349.6" width="15.7" height="16" fill="#181818"/><rect x="1705.1" y="349.6" width="15.7" height="16" fill="#161616"/><rect x="1720.5" y="349.6" width="46.4" height="16" fill="#151515"/><rect x="1766.6" y="349.6" width="15.7" height="16" fill="#171717"/><rect x="1782" y="349.6" width="15.7" height="16" fill="#191919"/><rect x="1797.4" y="349.6" width="15.7" height="16" fill="#1d1d1d"/><rect x="1812.8" y="349.6" width="15.7" height="16" fill="#232323"/><rect x="1828.1" y="349.6" width="15.7" height="16" fill="#2a2a2a"/><rect x="1843.5" y="349.6" width="15.7" height="16" fill="#353535"/><rect x="1858.9" y="349.6" width="15.7" height="16" fill="#414141"/><rect x="1874.2" y="349.6" width="15.7" height="16" fill="#4e4e4e"/><rect x="1889.6" y="349.6" width="15.7" height="16" fill="#5c5c5c"/><rect x="1905" y="349.6" width="46.4" height="16" fill="#626262"/><rect x="1489.9" y="365.4" width="46.4" height="16" fill="#878787"/><rect x="1536" y="365.4" width="15.7" height="16" fill="#808080"/><rect x="1551.4" y="365.4" width="15.7" height="16" fill="#727272"/><rect x="1566.8" y="365.4" width="15.7" height="16" fill="#636363"/><rect x="1582.1" y="365.4" width="15.7" height="16" fill="#565656"/><rect x="1597.5" y="365.4" width="15.7" height="16" fill="#484848"/><rect x="1612.9" y="365.4" width="15.7" height="16" fill="#3a3a3a"/><rect x="1628.2" y="365.4" width="15.7" height="16" fill="#2c2c2c"/><rect x="1643.6" y="365.4" width="15.7" height="16" fill="#222222"/><rect x="1659" y="365.4" width="15.7" height="16" fill="#1d1d1d"/><rect x="1674.4" y="365.4" width="15.7" height="16" fill="#191919"/><rect x="1689.8" y="365.4" width="15.7" height="16" fill="#161616"/><rect x="1705.1" y="365.4" width="15.7" height="16" fill="#141414"/><rect x="1720.5" y="365.4" width="31.1" height="16" fill="#121212"/><rect x="1751.2" y="365.4" width="15.7" height="16" fill="#131313"/><rect x="1766.6" y="365.4" width="15.7" height="16" fill="#151515"/><rect x="1782" y="365.4" width="15.7" height="16" fill="#171717"/><rect x="1797.4" y="365.4" width="15.7" height="16" fill="#1c1c1c"/><rect x="1812.8" y="365.4" width="15.7" height="16" fill="#212121"/><rect x="1828.1" y="365.4" width="15.7" height="16" fill="#282828"/><rect x="1843.5" y="365.4" width="15.7" height="16" fill="#343434"/><rect x="1858.9" y="365.4" width="15.7" height="16" fill="#3f3f3f"/><rect x="1874.2" y="365.4" width="15.7" height="16" fill="#4d4d4d"/><rect x="1889.6" y="365.4" width="15.7" height="16" fill="#5a5a5a"/><rect x="1905" y="365.4" width="46.4" height="16" fill="#606060"/><rect x="1489.9" y="381.1" width="46.4" height="16" fill="#8c8c8c"/><rect x="1536" y="381.1" width="15.7" height="16" fill="#858585"/><rect x="1551.4" y="381.1" width="15.7" height="16" fill="#757575"/><rect x="1566.8" y="381.1" width="15.7" height="16" fill="#666666"/><rect x="1582.1" y="381.1" width="15.7" height="16" fill="#595959"/><rect x="1597.5" y="381.1" width="15.7" height="16" fill="#4b4b4b"/><rect x="1612.9" y="381.1" width="15.7" height="16" fill="#3d3d3d"/><rect x="1628.2" y="381.1" width="15.7" height="16" fill="#2f2f2f"/><rect x="1643.6" y="381.1" width="15.7" height="16" fill="#252525"/><rect x="1659" y="381.1" width="15.7" height="16" fill="#202020"/><rect x="1674.4" y="381.1" width="15.7" height="16" fill="#1b1b1b"/><rect x="1689.8" y="381.1" width="15.7" height="16" fill="#181818"/><rect x="1705.1" y="381.1" width="15.7" height="16" fill="#151515"/><rect x="1720.5" y="381.1" width="46.4" height="16" fill="#141414"/><rect x="1766.6" y="381.1" width="15.7" height="16" fill="#171717"/><rect x="1782" y="381.1" width="15.7" height="16" fill="#191919"/><rect x="1797.4" y="381.1" width="15.7" height="16" fill="#1d1d1d"/><rect x="1812.8" y="381.1" width="15.7" height="16" fill="#222222"/><rect x="1828.1" y="381.1" width="15.7" height="16" fill="#2a2a2a"/><rect x="1843.5" y="381.1" width="15.7" height="16" fill="#353535"/><rect x="1858.9" y="381.1" width="15.7" height="16" fill="#404040"/><rect x="1874.2" y="381.1" width="15.7" height="16" fill="#4d4d4d"/><rect x="1889.6" y="381.1" width="15.7" height="16" fill="#5a5a5a"/><rect x="1905" y="381.1" width="46.4" height="16" fill="#606060"/><rect x="1489.9" y="396.9" width="46.4" height="16" fill="#929292"/><rect x="1536" y="396.9" width="15.7" height="16" fill="#8a8a8a"/><rect x="1551.4" y="396.9" width="15.7" height="16" fill="#7a7a7a"/><rect x="1566.8" y="396.9" width="15.7" height="16" fill="#6a6a6a"/><rect x="1582.1" y="396.9" width="15.7" height="16" fill="#5d5d5d"/><rect x="1597.5" y="396.9" width="15.7" height="16" fill="#4f4f4f"/><rect x="1612.9" y="396.9" width="15.7" height="16" fill="#434343"/><rect x="1628.2" y="396.9" width="15.7" height="16" fill="#363636"/><rect x="1643.6" y="396.9" width="15.7" height="16" fill="#2c2c2c"/><rect x="1659" y="396.9" width="15.7" height="16" fill="#262626"/><rect x="1674.4" y="396.9" width="15.7" height="16" fill="#212121"/><rect x="1689.8" y="396.9" width="15.7" height="16" fill="#1e1e1e"/><rect x="1705.1" y="396.9" width="15.7" height="16" fill="#1c1c1c"/><rect x="1720.5" y="396.9" width="31.1" height="16" fill="#1a1a1a"/><rect x="1751.2" y="396.9" width="15.7" height="16" fill="#1b1b1b"/><rect x="1766.6" y="396.9" width="15.7" height="16" fill="#1c1c1c"/><rect x="1782" y="396.9" width="15.7" height="16" fill="#1f1f1f"/><rect x="1797.4" y="396.9" width="15.7" height="16" fill="#222222"/><rect x="1812.8" y="396.9" width="15.7" height="16" fill="#272727"/><rect x="1828.1" y="396.9" width="15.7" height="16" fill="#2d2d2d"/><rect x="1843.5" y="396.9" width="15.7" height="16" fill="#383838"/><rect x="1858.9" y="396.9" width="15.7" height="16" fill="#434343"/><rect x="1874.2" y="396.9" width="15.7" height="16" fill="#505050"/><rect x="1889.6" y="396.9" width="15.7" height="16" fill="#5d5d5d"/><rect x="1905" y="396.9" width="46.4" height="16" fill="#636363"/><rect x="1489.9" y="412.6" width="46.4" height="16" fill="#999999"/><rect x="1536" y="412.6" width="15.7" height="16" fill="#919191"/><rect x="1551.4" y="412.6" width="15.7" height="16" fill="#7f7f7f"/><rect x="1566.8" y="412.6" width="15.7" height="16" fill="#6f6f6f"/><rect x="1582.1" y="412.6" width="15.7" height="16" fill="#626262"/><rect x="1597.5" y="412.6" width="15.7" height="16" fill="#565656"/><rect x="1612.9" y="412.6" width="15.7" height="16" fill="#4a4a4a"/><rect x="1628.2" y="412.6" width="15.7" height="16" fill="#3f3f3f"/><rect x="1643.6" y="412.6" width="15.7" height="16" fill="#363636"/><rect x="1659" y="412.6" width="15.7" height="16" fill="#313131"/><rect x="1674.4" y="412.6" width="15.7" height="16" fill="#2c2c2c"/><rect x="1689.8" y="412.6" width="15.7" height="16" fill="#292929"/><rect x="1705.1" y="412.6" width="15.7" height="16" fill="#272727"/><rect x="1720.5" y="412.6" width="46.4" height="16" fill="#262626"/><rect x="1766.6" y="412.6" width="15.7" height="16" fill="#282828"/><rect x="1782" y="412.6" width="15.7" height="16" fill="#2a2a2a"/><rect x="1797.4" y="412.6" width="15.7" height="16" fill="#2e2e2e"/><rect x="1812.8" y="412.6" width="15.7" height="16" fill="#343434"/><rect x="1828.1" y="412.6" width="15.7" height="16" fill="#3a3a3a"/><rect x="1843.5" y="412.6" width="15.7" height="16" fill="#444444"/><rect x="1858.9" y="412.6" width="15.7" height="16" fill="#4e4e4e"/><rect x="1874.2" y="412.6" width="15.7" height="16" fill="#5a5a5a"/><rect x="1889.6" y="412.6" width="15.7" height="16" fill="#656565"/><rect x="1905" y="412.6" width="46.4" height="16" fill="#6a6a6a"/><rect x="1489.9" y="428.4" width="46.4" height="16" fill="#a0a0a0"/><rect x="1536" y="428.4" width="15.7" height="16" fill="#989898"/><rect x="1551.4" y="428.4" width="15.7" height="16" fill="#858585"/><rect x="1566.8" y="428.4" width="15.7" height="16" fill="#747474"/><rect x="1582.1" y="428.4" width="15.7" height="16" fill="#686868"/><rect x="1597.5" y="428.4" width="15.7" height="16" fill="#5d5d5d"/><rect x="1612.9" y="428.4" width="15.7" height="16" fill="#535353"/><rect x="1628.2" y="428.4" width="15.7" height="16" fill="#4a4a4a"/><rect x="1643.6" y="428.4" width="15.7" height="16" fill="#434343"/><rect x="1659" y="428.4" width="15.7" height="16" fill="#3d3d3d"/><rect x="1674.4" y="428.4" width="15.7" height="16" fill="#383838"/><rect x="1689.8" y="428.4" width="15.7" height="16" fill="#363636"/><rect x="1705.1" y="428.4" width="15.7" height="16" fill="#343434"/><rect x="1720.5" y="428.4" width="31.1" height="16" fill="#333333"/><rect x="1751.2" y="428.4" width="15.7" height="16" fill="#343434"/><rect x="1766.6" y="428.4" width="15.7" height="16" fill="#363636"/><rect x="1782" y="428.4" width="15.7" height="16" fill="#393939"/><rect x="1797.4" y="428.4" width="15.7" height="16" fill="#3e3e3e"/><rect x="1812.8" y="428.4" width="15.7" height="16" fill="#444444"/><rect x="1828.1" y="428.4" width="15.7" height="16" fill="#4b4b4b"/><rect x="1843.5" y="428.4" width="15.7" height="16" fill="#545454"/><rect x="1858.9" y="428.4" width="15.7" height="16" fill="#5d5d5d"/><rect x="1874.2" y="428.4" width="15.7" height="16" fill="#666666"/><rect x="1889.6" y="428.4" width="15.7" height="16" fill="#707070"/><rect x="1905" y="428.4" width="46.4" height="16" fill="#747474"/><rect x="1489.9" y="444.1" width="46.4" height="16" fill="#aaaaaa"/><rect x="1536" y="444.1" width="15.7" height="16" fill="#a1a1a1"/><rect x="1551.4" y="444.1" width="15.7" height="16" fill="#8d8d8d"/><rect x="1566.8" y="444.1" width="15.7" height="16" fill="#7d7d7d"/><rect x="1582.1" y="444.1" width="15.7" height="16" fill="#717171"/><rect x="1597.5" y="444.1" width="15.7" height="16" fill="#666666"/><rect x="1612.9" y="444.1" width="15.7" height="16" fill="#5d5d5d"/><rect x="1628.2" y="444.1" width="15.7" height="16" fill="#565656"/><rect x="1643.6" y="444.1" width="15.7" height="16" fill="#4f4f4f"/><rect x="1659" y="444.1" width="15.7" height="16" fill="#4b4b4b"/><rect x="1674.4" y="444.1" width="15.7" height="16" fill="#464646"/><rect x="1689.8" y="444.1" width="15.7" height="16" fill="#454545"/><rect x="1705.1" y="444.1" width="31.1" height="16" fill="#434343"/><rect x="1735.9" y="444.1" width="31.1" height="16" fill="#444444"/><rect x="1766.6" y="444.1" width="15.7" height="16" fill="#474747"/><rect x="1782" y="444.1" width="15.7" height="16" fill="#4a4a4a"/><rect x="1797.4" y="444.1" width="15.7" height="16" fill="#4e4e4e"/><rect x="1812.8" y="444.1" width="15.7" height="16" fill="#545454"/><rect x="1828.1" y="444.1" width="15.7" height="16" fill="#5b5b5b"/><rect x="1843.5" y="444.1" width="15.7" height="16" fill="#636363"/><rect x="1858.9" y="444.1" width="15.7" height="16" fill="#6b6b6b"/><rect x="1874.2" y="444.1" width="15.7" height="16" fill="#737373"/><rect x="1889.6" y="444.1" width="15.7" height="16" fill="#7c7c7c"/><rect x="1905" y="444.1" width="46.4" height="16" fill="#7f7f7f"/><rect x="1489.9" y="459.9" width="46.4" height="16" fill="#b4b4b4"/><rect x="1536" y="459.9" width="15.7" height="16" fill="#aaaaaa"/><rect x="1551.4" y="459.9" width="15.7" height="16" fill="#979797"/><rect x="1566.8" y="459.9" width="15.7" height="16" fill="#878787"/><rect x="1582.1" y="459.9" width="15.7" height="16" fill="#7c7c7c"/><rect x="1597.5" y="459.9" width="15.7" height="16" fill="#727272"/><rect x="1612.9" y="459.9" width="15.7" height="16" fill="#6a6a6a"/><rect x="1628.2" y="459.9" width="15.7" height="16" fill="#636363"/><rect x="1643.6" y="459.9" width="15.7" height="16" fill="#5d5d5d"/><rect x="1659" y="459.9" width="15.7" height="16" fill="#5a5a5a"/><rect x="1674.4" y="459.9" width="15.7" height="16" fill="#575757"/><rect x="1689.8" y="459.9" width="15.7" height="16" fill="#565656"/><rect x="1705.1" y="459.9" width="31.1" height="16" fill="#555555"/><rect x="1735.9" y="459.9" width="15.7" height="16" fill="#565656"/><rect x="1751.2" y="459.9" width="15.7" height="16" fill="#575757"/><rect x="1766.6" y="459.9" width="15.7" height="16" fill="#5a5a5a"/><rect x="1782" y="459.9" width="15.7" height="16" fill="#5c5c5c"/><rect x="1797.4" y="459.9" width="15.7" height="16" fill="#616161"/><rect x="1812.8" y="459.9" width="15.7" height="16" fill="#666666"/><rect x="1828.1" y="459.9" width="15.7" height="16" fill="#6c6c6c"/><rect x="1843.5" y="459.9" width="15.7" height="16" fill="#737373"/><rect x="1858.9" y="459.9" width="15.7" height="16" fill="#7b7b7b"/><rect x="1874.2" y="459.9" width="15.7" height="16" fill="#828282"/><rect x="1889.6" y="459.9" width="15.7" height="16" fill="#888888"/><rect x="1905" y="459.9" width="46.4" height="16" fill="#8b8b8b"/><rect x="1489.9" y="475.6" width="46.4" height="16" fill="#bdbdbd"/><rect x="1536" y="475.6" width="15.7" height="16" fill="#b5b5b5"/><rect x="1551.4" y="475.6" width="15.7" height="16" fill="#a3a3a3"/><rect x="1566.8" y="475.6" width="15.7" height="16" fill="#949494"/><rect x="1582.1" y="475.6" width="15.7" height="16" fill="#8a8a8a"/><rect x="1597.5" y="475.6" width="15.7" height="16" fill="#818181"/><rect x="1612.9" y="475.6" width="15.7" height="16" fill="#7a7a7a"/><rect x="1628.2" y="475.6" width="15.7" height="16" fill="#757575"/><rect x="1643.6" y="475.6" width="15.7" height="16" fill="#717171"/><rect x="1659" y="475.6" width="15.7" height="16" fill="#6f6f6f"/><rect x="1674.4" y="475.6" width="61.8" height="16" fill="#6c6c6c"/><rect x="1735.9" y="475.6" width="15.7" height="16" fill="#6d6d6d"/><rect x="1751.2" y="475.6" width="15.7" height="16" fill="#6e6e6e"/><rect x="1766.6" y="475.6" width="15.7" height="16" fill="#707070"/><rect x="1782" y="475.6" width="15.7" height="16" fill="#737373"/><rect x="1797.4" y="475.6" width="15.7" height="16" fill="#777777"/><rect x="1812.8" y="475.6" width="15.7" height="16" fill="#7b7b7b"/><rect x="1828.1" y="475.6" width="15.7" height="16" fill="#808080"/><rect x="1843.5" y="475.6" width="15.7" height="16" fill="#868686"/><rect x="1858.9" y="475.6" width="15.7" height="16" fill="#8c8c8c"/><rect x="1874.2" y="475.6" width="15.7" height="16" fill="#919191"/><rect x="1889.6" y="475.6" width="15.7" height="16" fill="#979797"/><rect x="1905" y="475.6" width="46.4" height="16" fill="#9a9a9a"/><rect x="1489.9" y="491.4" width="46.4" height="16" fill="#c5c5c5"/><rect x="1536" y="491.4" width="15.7" height="16" fill="#bebebe"/><rect x="1551.4" y="491.4" width="15.7" height="16" fill="#b0b0b0"/><rect x="1566.8" y="491.4" width="15.7" height="16" fill="#a3a3a3"/><rect x="1582.1" y="491.4" width="15.7" height="16" fill="#9b9b9b"/><rect x="1597.5" y="491.4" width="15.7" height="16" fill="#939393"/><rect x="1612.9" y="491.4" width="15.7" height="16" fill="#8d8d8d"/><rect x="1628.2" y="491.4" width="15.7" height="16" fill="#898989"/><rect x="1643.6" y="491.4" width="15.7" height="16" fill="#868686"/><rect x="1659" y="491.4" width="15.7" height="16" fill="#848484"/><rect x="1674.4" y="491.4" width="77.2" height="16" fill="#838383"/><rect x="1751.2" y="491.4" width="15.7" height="16" fill="#848484"/><rect x="1766.6" y="491.4" width="15.7" height="16" fill="#878787"/><rect x="1782" y="491.4" width="15.7" height="16" fill="#898989"/><rect x="1797.4" y="491.4" width="15.7" height="16" fill="#8c8c8c"/><rect x="1812.8" y="491.4" width="15.7" height="16" fill="#8f8f8f"/><rect x="1828.1" y="491.4" width="15.7" height="16" fill="#939393"/><rect x="1843.5" y="491.4" width="15.7" height="16" fill="#989898"/><rect x="1858.9" y="491.4" width="15.7" height="16" fill="#9d9d9d"/><rect x="1874.2" y="491.4" width="15.7" height="16" fill="#a2a2a2"/><rect x="1889.6" y="491.4" width="15.7" height="16" fill="#a6a6a6"/><rect x="1905" y="491.4" width="46.4" height="16" fill="#a8a8a8"/><rect x="1489.9" y="507.1" width="46.4" height="16" fill="#cacaca"/><rect x="1536" y="507.1" width="15.7" height="16" fill="#c6c6c6"/><rect x="1551.4" y="507.1" width="15.7" height="16" fill="#bdbdbd"/><rect x="1566.8" y="507.1" width="15.7" height="16" fill="#b4b4b4"/><rect x="1582.1" y="507.1" width="15.7" height="16" fill="#adadad"/><rect x="1597.5" y="507.1" width="15.7" height="16" fill="#a7a7a7"/><rect x="1612.9" y="507.1" width="15.7" height="16" fill="#a2a2a2"/><rect x="1628.2" y="507.1" width="15.7" height="16" fill="#9e9e9e"/><rect x="1643.6" y="507.1" width="15.7" height="16" fill="#9c9c9c"/><rect x="1659" y="507.1" width="15.7" height="16" fill="#9a9a9a"/><rect x="1674.4" y="507.1" width="77.2" height="16" fill="#999999"/><rect x="1751.2" y="507.1" width="15.7" height="16" fill="#9a9a9a"/><rect x="1766.6" y="507.1" width="15.7" height="16" fill="#9c9c9c"/><rect x="1782" y="507.1" width="15.7" height="16" fill="#9e9e9e"/><rect x="1797.4" y="507.1" width="15.7" height="16" fill="#a0a0a0"/><rect x="1812.8" y="507.1" width="15.7" height="16" fill="#a3a3a3"/><rect x="1828.1" y="507.1" width="15.7" height="16" fill="#a6a6a6"/><rect x="1843.5" y="507.1" width="15.7" height="16" fill="#aaaaaa"/><rect x="1858.9" y="507.1" width="15.7" height="16" fill="#aeaeae"/><rect x="1874.2" y="507.1" width="15.7" height="16" fill="#b1b1b1"/><rect x="1889.6" y="507.1" width="15.7" height="16" fill="#b5b5b5"/><rect x="1905" y="507.1" width="46.4" height="16" fill="#b7b7b7"/><rect x="1489.9" y="522.9" width="46.4" height="16" fill="#d3d3d3"/><rect x="1536" y="522.9" width="15.7" height="16" fill="#d0d0d0"/><rect x="1551.4" y="522.9" width="15.7" height="16" fill="#c9c9c9"/><rect x="1566.8" y="522.9" width="15.7" height="16" fill="#c1c1c1"/><rect x="1582.1" y="522.9" width="15.7" height="16" fill="#bbbbbb"/><rect x="1597.5" y="522.9" width="15.7" height="16" fill="#b5b5b5"/><rect x="1612.9" y="522.9" width="15.7" height="16" fill="#b1b1b1"/><rect x="1628.2" y="522.9" width="15.7" height="16" fill="#aeaeae"/><rect x="1643.6" y="522.9" width="15.7" height="16" fill="#ababab"/><rect x="1659" y="522.9" width="31.1" height="16" fill="#aaaaaa"/><rect x="1689.8" y="522.9" width="61.8" height="16" fill="#a9a9a9"/><rect x="1751.2" y="522.9" width="15.7" height="16" fill="#aaaaaa"/><rect x="1766.6" y="522.9" width="15.7" height="16" fill="#ababab"/><rect x="1782" y="522.9" width="15.7" height="16" fill="#acacac"/><rect x="1797.4" y="522.9" width="15.7" height="16" fill="#aeaeae"/><rect x="1812.8" y="522.9" width="15.7" height="16" fill="#b1b1b1"/><rect x="1828.1" y="522.9" width="15.7" height="16" fill="#b3b3b3"/><rect x="1843.5" y="522.9" width="15.7" height="16" fill="#b6b6b6"/><rect x="1858.9" y="522.9" width="15.7" height="16" fill="#b9b9b9"/><rect x="1874.2" y="522.9" width="15.7" height="16" fill="#bcbcbc"/><rect x="1889.6" y="522.9" width="15.7" height="16" fill="#bfbfbf"/><rect x="1905" y="522.9" width="46.4" height="16" fill="#c0c0c0"/><rect x="1489.9" y="538.6" width="46.4" height="16" fill="#dddddd"/><rect x="1536" y="538.6" width="15.7" height="16" fill="#dbdbdb"/><rect x="1551.4" y="538.6" width="15.7" height="16" fill="#d4d4d4"/><rect x="1566.8" y="538.6" width="15.7" height="16" fill="#cccccc"/><rect x="1582.1" y="538.6" width="15.7" height="16" fill="#c6c6c6"/><rect x="1597.5" y="538.6" width="15.7" height="16" fill="#c1c1c1"/><rect x="1612.9" y="538.6" width="15.7" height="16" fill="#bdbdbd"/><rect x="1628.2" y="538.6" width="15.7" height="16" fill="#bbbbbb"/><rect x="1643.6" y="538.6" width="15.7" height="16" fill="#b9b9b9"/><rect x="1659" y="538.6" width="15.7" height="16" fill="#b8b8b8"/><rect x="1674.4" y="538.6" width="92.5" height="16" fill="#b7b7b7"/><rect x="1766.6" y="538.6" width="15.7" height="16" fill="#b8b8b8"/><rect x="1782" y="538.6" width="15.7" height="16" fill="#b9b9b9"/><rect x="1797.4" y="538.6" width="15.7" height="16" fill="#bababa"/><rect x="1812.8" y="538.6" width="15.7" height="16" fill="#bcbcbc"/><rect x="1828.1" y="538.6" width="15.7" height="16" fill="#bebebe"/><rect x="1843.5" y="538.6" width="15.7" height="16" fill="#c0c0c0"/><rect x="1858.9" y="538.6" width="15.7" height="16" fill="#c3c3c3"/><rect x="1874.2" y="538.6" width="15.7" height="16" fill="#c5c5c5"/><rect x="1889.6" y="538.6" width="61.8" height="16" fill="#c7c7c7"/><rect x="1489.9" y="554.4" width="46.4" height="16" fill="#eaeaea"/><rect x="1536" y="554.4" width="15.7" height="16" fill="#ebebeb"/><rect x="1551.4" y="554.4" width="15.7" height="16" fill="#e0e0e0"/><rect x="1566.8" y="554.4" width="15.7" height="16" fill="#d3d3d3"/><rect x="1582.1" y="554.4" width="15.7" height="16" fill="#cecece"/><rect x="1597.5" y="554.4" width="15.7" height="16" fill="#cacaca"/><rect x="1612.9" y="554.4" width="15.7" height="16" fill="#c7c7c7"/><rect x="1628.2" y="554.4" width="15.7" height="16" fill="#c6c6c6"/><rect x="1643.6" y="554.4" width="15.7" height="16" fill="#c5c5c5"/><rect x="1659" y="554.4" width="15.7" height="16" fill="#c4c4c4"/><rect x="1674.4" y="554.4" width="31.1" height="16" fill="#c3c3c3"/><rect x="1705.1" y="554.4" width="61.8" height="16" fill="#c2c2c2"/><rect x="1766.6" y="554.4" width="15.7" height="16" fill="#c3c3c3"/><rect x="1782" y="554.4" width="15.7" height="16" fill="#c4c4c4"/><rect x="1797.4" y="554.4" width="15.7" height="16" fill="#c5c5c5"/><rect x="1812.8" y="554.4" width="15.7" height="16" fill="#c6c6c6"/><rect x="1828.1" y="554.4" width="15.7" height="16" fill="#c7c7c7"/><rect x="1843.5" y="554.4" width="15.7" height="16" fill="#c8c8c8"/><rect x="1858.9" y="554.4" width="15.7" height="16" fill="#c9c9c9"/><rect x="1874.2" y="554.4" width="15.7" height="16" fill="#cacaca"/><rect x="1889.6" y="554.4" width="15.7" height="16" fill="#cbcbcb"/><rect x="1905" y="554.4" width="46.4" height="16" fill="#cccccc"/><rect x="1489.9" y="570.1" width="46.4" height="16" fill="#e4e4e4"/><rect x="1536" y="570.1" width="15.7" height="16" fill="#e3e3e3"/><rect x="1551.4" y="570.1" width="15.7" height="16" fill="#dbdbdb"/><rect x="1566.8" y="570.1" width="15.7" height="16" fill="#d3d3d3"/><rect x="1582.1" y="570.1" width="15.7" height="16" fill="#cfcfcf"/><rect x="1597.5" y="570.1" width="15.7" height="16" fill="#cccccc"/><rect x="1612.9" y="570.1" width="15.7" height="16" fill="#cbcbcb"/><rect x="1628.2" y="570.1" width="15.7" height="16" fill="#cacaca"/><rect x="1643.6" y="570.1" width="15.7" height="16" fill="#c9c9c9"/><rect x="1659" y="570.1" width="15.7" height="16" fill="#c8c8c8"/><rect x="1674.4" y="570.1" width="31.1" height="16" fill="#c7c7c7"/><rect x="1705.1" y="570.1" width="61.8" height="16" fill="#c6c6c6"/><rect x="1766.6" y="570.1" width="15.7" height="16" fill="#c7c7c7"/><rect x="1782" y="570.1" width="15.7" height="16" fill="#c8c8c8"/><rect x="1797.4" y="570.1" width="46.4" height="16" fill="#c9c9c9"/><rect x="1843.5" y="570.1" width="15.7" height="16" fill="#cacaca"/><rect x="1858.9" y="570.1" width="15.7" height="16" fill="#cbcbcb"/><rect x="1874.2" y="570.1" width="15.7" height="16" fill="#cdcdcd"/><rect x="1889.6" y="570.1" width="15.7" height="16" fill="#cecece"/><rect x="1905" y="570.1" width="46.4" height="16" fill="#cfcfcf"/><rect x="1489.9" y="585.9" width="46.4" height="16" fill="#d9d9d9"/><rect x="1536" y="585.9" width="15.7" height="16" fill="#d8d8d8"/><rect x="1551.4" y="585.9" width="15.7" height="16" fill="#d4d4d4"/><rect x="1566.8" y="585.9" width="15.7" height="16" fill="#d0d0d0"/><rect x="1582.1" y="585.9" width="15.7" height="16" fill="#cdcdcd"/><rect x="1597.5" y="585.9" width="15.7" height="16" fill="#cbcbcb"/><rect x="1612.9" y="585.9" width="15.7" height="16" fill="#c9c9c9"/><rect x="1628.2" y="585.9" width="15.7" height="16" fill="#c7c7c7"/><rect x="1643.6" y="585.9" width="77.2" height="16" fill="#c6c6c6"/><rect x="1720.5" y="585.9" width="31.1" height="16" fill="#c7c7c7"/><rect x="1751.2" y="585.9" width="15.7" height="16" fill="#c8c8c8"/><rect x="1766.6" y="585.9" width="15.7" height="16" fill="#c9c9c9"/><rect x="1782" y="585.9" width="61.8" height="16" fill="#cacaca"/><rect x="1843.5" y="585.9" width="15.7" height="16" fill="#cccccc"/><rect x="1858.9" y="585.9" width="15.7" height="16" fill="#cdcdcd"/><rect x="1874.2" y="585.9" width="15.7" height="16" fill="#cfcfcf"/><rect x="1889.6" y="585.9" width="15.7" height="16" fill="#d0d0d0"/><rect x="1905" y="585.9" width="46.4" height="16" fill="#d1d1d1"/><rect x="1489.9" y="601.6" width="46.4" height="16" fill="#d5d5d5"/><rect x="1536" y="601.6" width="15.7" height="16" fill="#d4d4d4"/><rect x="1551.4" y="601.6" width="15.7" height="16" fill="#d1d1d1"/><rect x="1566.8" y="601.6" width="15.7" height="16" fill="#cecece"/><rect x="1582.1" y="601.6" width="15.7" height="16" fill="#cbcbcb"/><rect x="1597.5" y="601.6" width="15.7" height="16" fill="#c9c9c9"/><rect x="1612.9" y="601.6" width="15.7" height="16" fill="#c7c7c7"/><rect x="1628.2" y="601.6" width="15.7" height="16" fill="#c5c5c5"/><rect x="1643.6" y="601.6" width="46.4" height="16" fill="#c4c4c4"/><rect x="1689.8" y="601.6" width="31.1" height="16" fill="#c5c5c5"/><rect x="1720.5" y="601.6" width="15.7" height="16" fill="#c6c6c6"/><rect x="1735.9" y="601.6" width="15.7" height="16" fill="#c7c7c7"/><rect x="1751.2" y="601.6" width="15.7" height="16" fill="#c8c8c8"/><rect x="1766.6" y="601.6" width="15.7" height="16" fill="#c9c9c9"/><rect x="1782" y="601.6" width="61.8" height="16" fill="#cacaca"/><rect x="1843.5" y="601.6" width="15.7" height="16" fill="#cccccc"/><rect x="1858.9" y="601.6" width="15.7" height="16" fill="#cecece"/><rect x="1874.2" y="601.6" width="15.7" height="16" fill="#d0d0d0"/><rect x="1889.6" y="601.6" width="15.7" height="16" fill="#d1d1d1"/><rect x="1905" y="601.6" width="46.4" height="16" fill="#d2d2d2"/><rect x="1489.9" y="617.3" width="46.4" height="16" fill="#d5d5d5"/><rect x="1536" y="617.3" width="15.7" height="16" fill="#d4d4d4"/><rect x="1551.4" y="617.3" width="15.7" height="16" fill="#d1d1d1"/><rect x="1566.8" y="617.3" width="15.7" height="16" fill="#cecece"/><rect x="1582.1" y="617.3" width="15.7" height="16" fill="#cbcbcb"/><rect x="1597.5" y="617.3" width="15.7" height="16" fill="#c9c9c9"/><rect x="1612.9" y="617.3" width="15.7" height="16" fill="#c7c7c7"/><rect x="1628.2" y="617.3" width="15.7" height="16" fill="#c5c5c5"/><rect x="1643.6" y="617.3" width="46.4" height="16" fill="#c4c4c4"/><rect x="1689.8" y="617.3" width="31.1" height="16" fill="#c5c5c5"/><rect x="1720.5" y="617.3" width="15.7" height="16" fill="#c6c6c6"/><rect x="1735.9" y="617.3" width="15.7" height="16" fill="#c7c7c7"/><rect x="1751.2" y="617.3" width="15.7" height="16" fill="#c8c8c8"/><rect x="1766.6" y="617.3" width="15.7" height="16" fill="#c9c9c9"/><rect x="1782" y="617.3" width="61.8" height="16" fill="#cacaca"/><rect x="1843.5" y="617.3" width="15.7" height="16" fill="#cccccc"/><rect x="1858.9" y="617.3" width="15.7" height="16" fill="#cecece"/><rect x="1874.2" y="617.3" width="15.7" height="16" fill="#d0d0d0"/><rect x="1889.6" y="617.3" width="15.7" height="16" fill="#d1d1d1"/><rect x="1905" y="617.3" width="46.4" height="16" fill="#d2d2d2"/><rect x="1489.9" y="633.1" width="46.4" height="16" fill="#d5d5d5"/><rect x="1536" y="633.1" width="15.7" height="16" fill="#d4d4d4"/><rect x="1551.4" y="633.1" width="15.7" height="16" fill="#d1d1d1"/><rect x="1566.8" y="633.1" width="15.7" height="16" fill="#cecece"/><rect x="1582.1" y="633.1" width="15.7" height="16" fill="#cbcbcb"/><rect x="1597.5" y="633.1" width="15.7" height="16" fill="#c9c9c9"/><rect x="1612.9" y="633.1" width="15.7" height="16" fill="#c7c7c7"/><rect x="1628.2" y="633.1" width="15.7" height="16" fill="#c5c5c5"/><rect x="1643.6" y="633.1" width="46.4" height="16" fill="#c4c4c4"/><rect x="1689.8" y="633.1" width="31.1" height="16" fill="#c5c5c5"/><rect x="1720.5" y="633.1" width="15.7" height="16" fill="#c6c6c6"/><rect x="1735.9" y="633.1" width="15.7" height="16" fill="#c7c7c7"/><rect x="1751.2" y="633.1" width="15.7" height="16" fill="#c8c8c8"/><rect x="1766.6" y="633.1" width="15.7" height="16" fill="#c9c9c9"/><rect x="1782" y="633.1" width="61.8" height="16" fill="#cacaca"/><rect x="1843.5" y="633.1" width="15.7" height="16" fill="#cccccc"/><rect x="1858.9" y="633.1" width="15.7" height="16" fill="#cecece"/><rect x="1874.2" y="633.1" width="15.7" height="16" fill="#d0d0d0"/><rect x="1889.6" y="633.1" width="15.7" height="16" fill="#d1d1d1"/><rect x="1905" y="633.1" width="46.4" height="16" fill="#d2d2d2"/></g></g>
<g clip-path="url(#cpd1)"><g filter="url(#hfd1)" shape-rendering="crispEdges"><rect x="947.2" y="672.9" width="448.6" height="14.3" fill="#858585"/><rect x="947.2" y="686.9" width="448.6" height="14.3" fill="#858585"/><rect x="947.2" y="700.9" width="448.6" height="14.3" fill="#858585"/><rect x="947.2" y="714.9" width="448.6" height="14.3" fill="#858585"/><rect x="947.2" y="728.9" width="448.6" height="14.3" fill="#858585"/><rect x="947.2" y="742.9" width="448.6" height="14.3" fill="#858585"/><rect x="947.2" y="756.9" width="176.9" height="14.3" fill="#858585"/><rect x="1123.9" y="756.9" width="95.4" height="14.3" fill="#868686"/><rect x="1218.9" y="756.9" width="176.9" height="14.3" fill="#858585"/><rect x="947.2" y="770.9" width="136.2" height="14.3" fill="#858585"/><rect x="1083.1" y="770.9" width="54.6" height="14.3" fill="#868686"/><rect x="1137.4" y="770.9" width="68.2" height="14.3" fill="#878787"/><rect x="1205.4" y="770.9" width="54.6" height="14.3" fill="#868686"/><rect x="1259.7" y="770.9" width="136.2" height="14.3" fill="#858585"/><rect x="947.2" y="784.9" width="109" height="14.3" fill="#858585"/><rect x="1055.9" y="784.9" width="27.5" height="14.3" fill="#868686"/><rect x="1083.1" y="784.9" width="27.5" height="14.3" fill="#878787"/><rect x="1110.3" y="784.9" width="27.5" height="14.3" fill="#888888"/><rect x="1137.4" y="784.9" width="68.2" height="14.3" fill="#898989"/><rect x="1205.4" y="784.9" width="27.5" height="14.3" fill="#888888"/><rect x="1232.5" y="784.9" width="27.5" height="14.3" fill="#878787"/><rect x="1259.7" y="784.9" width="27.5" height="14.3" fill="#868686"/><rect x="1286.9" y="784.9" width="109" height="14.3" fill="#858585"/><rect x="947.2" y="798.9" width="81.8" height="14.3" fill="#858585"/><rect x="1028.8" y="798.9" width="27.5" height="14.3" fill="#868686"/><rect x="1055.9" y="798.9" width="27.5" height="14.3" fill="#878787"/><rect x="1083.1" y="798.9" width="13.9" height="14.3" fill="#888888"/><rect x="1096.7" y="798.9" width="13.9" height="14.3" fill="#898989"/><rect x="1110.3" y="798.9" width="13.9" height="14.3" fill="#8b8b8b"/><rect x="1123.9" y="798.9" width="27.5" height="14.3" fill="#8c8c8c"/><rect x="1151" y="798.9" width="41.1" height="14.3" fill="#8d8d8d"/><rect x="1191.8" y="798.9" width="27.5" height="14.3" fill="#8c8c8c"/><rect x="1218.9" y="798.9" width="13.9" height="14.3" fill="#8b8b8b"/><rect x="1232.5" y="798.9" width="13.9" height="14.3" fill="#898989"/><rect x="1246.1" y="798.9" width="13.9" height="14.3" fill="#888888"/><rect x="1259.7" y="798.9" width="27.5" height="14.3" fill="#878787"/><rect x="1286.9" y="798.9" width="27.5" height="14.3" fill="#868686"/><rect x="1314" y="798.9" width="81.8" height="14.3" fill="#858585"/><rect x="947.2" y="812.9" width="68.2" height="14.3" fill="#858585"/><rect x="1015.2" y="812.9" width="27.5" height="14.3" fill="#868686"/><rect x="1042.3" y="812.9" width="13.9" height="14.3" fill="#878787"/><rect x="1055.9" y="812.9" width="13.9" height="14.3" fill="#888888"/><rect x="1069.5" y="812.9" width="13.9" height="14.3" fill="#898989"/><rect x="1083.1" y="812.9" width="13.9" height="14.3" fill="#8b8b8b"/><rect x="1096.7" y="812.9" width="13.9" height="14.3" fill="#8d8d8d"/><rect x="1110.3" y="812.9" width="13.9" height="14.3" fill="#8f8f8f"/><rect x="1123.9" y="812.9" width="13.9" height="14.3" fill="#909090"/><rect x="1137.4" y="812.9" width="13.9" height="14.3" fill="#929292"/><rect x="1151" y="812.9" width="41.1" height="14.3" fill="#939393"/><rect x="1191.8" y="812.9" width="13.9" height="14.3" fill="#929292"/><rect x="1205.4" y="812.9" width="13.9" height="14.3" fill="#909090"/><rect x="1218.9" y="812.9" width="13.9" height="14.3" fill="#8f8f8f"/><rect x="1232.5" y="812.9" width="13.9" height="14.3" fill="#8d8d8d"/><rect x="1246.1" y="812.9" width="13.9" height="14.3" fill="#8b8b8b"/><rect x="1259.7" y="812.9" width="13.9" height="14.3" fill="#898989"/><rect x="1273.3" y="812.9" width="13.9" height="14.3" fill="#888888"/><rect x="1286.9" y="812.9" width="13.9" height="14.3" fill="#878787"/><rect x="1300.5" y="812.9" width="27.5" height="14.3" fill="#868686"/><rect x="1327.6" y="812.9" width="68.2" height="14.3" fill="#858585"/><rect x="947.2" y="826.8" width="68.2" height="14.3" fill="#858585"/><rect x="1015.2" y="826.8" width="13.9" height="14.3" fill="#868686"/><rect x="1028.8" y="826.8" width="13.9" height="14.3" fill="#878787"/><rect x="1042.3" y="826.8" width="13.9" height="14.3" fill="#888888"/><rect x="1055.9" y="826.8" width="13.9" height="14.3" fill="#8a8a8a"/><rect x="1069.5" y="826.8" width="13.9" height="14.3" fill="#8c8c8c"/><rect x="1083.1" y="826.8" width="13.9" height="14.3" fill="#8e8e8e"/><rect x="1096.7" y="826.8" width="13.9" height="14.3" fill="#919191"/><rect x="1110.3" y="826.8" width="13.9" height="14.3" fill="#949494"/><rect x="1123.9" y="826.8" width="13.9" height="14.3" fill="#969696"/><rect x="1137.4" y="826.8" width="13.9" height="14.3" fill="#999999"/><rect x="1151" y="826.8" width="13.9" height="14.3" fill="#9a9a9a"/><rect x="1164.6" y="826.8" width="13.9" height="14.3" fill="#9b9b9b"/><rect x="1178.2" y="826.8" width="13.9" height="14.3" fill="#9a9a9a"/><rect x="1191.8" y="826.8" width="13.9" height="14.3" fill="#999999"/><rect x="1205.4" y="826.8" width="13.9" height="14.3" fill="#969696"/><rect x="1218.9" y="826.8" width="13.9" height="14.3" fill="#949494"/><rect x="1232.5" y="826.8" width="13.9" height="14.3" fill="#919191"/><rect x="1246.1" y="826.8" width="13.9" height="14.3" fill="#8e8e8e"/><rect x="1259.7" y="826.8" width="13.9" height="14.3" fill="#8c8c8c"/><rect x="1273.3" y="826.8" width="13.9" height="14.3" fill="#8a8a8a"/><rect x="1286.9" y="826.8" width="13.9" height="14.3" fill="#888888"/><rect x="1300.5" y="826.8" width="13.9" height="14.3" fill="#878787"/><rect x="1314" y="826.8" width="27.5" height="14.3" fill="#868686"/><rect x="1341.2" y="826.8" width="54.6" height="14.3" fill="#858585"/><rect x="947.2" y="840.8" width="54.6" height="14.3" fill="#858585"/><rect x="1001.6" y="840.8" width="27.5" height="14.3" fill="#868686"/><rect x="1028.8" y="840.8" width="13.9" height="14.3" fill="#888888"/><rect x="1042.3" y="840.8" width="13.9" height="14.3" fill="#898989"/><rect x="1055.9" y="840.8" width="13.9" height="14.3" fill="#8b8b8b"/><rect x="1069.5" y="840.8" width="13.9" height="14.3" fill="#8e8e8e"/><rect x="1083.1" y="840.8" width="13.9" height="14.3" fill="#919191"/><rect x="1096.7" y="840.8" width="13.9" height="14.3" fill="#959595"/><rect x="1110.3" y="840.8" width="13.9" height="14.3" fill="#999999"/><rect x="1123.9" y="840.8" width="13.9" height="14.3" fill="#9d9d9d"/><rect x="1137.4" y="840.8" width="13.9" height="14.3" fill="#a0a0a0"/><rect x="1151" y="840.8" width="13.9" height="14.3" fill="#a2a2a2"/><rect x="1164.6" y="840.8" width="13.9" height="14.3" fill="#a3a3a3"/><rect x="1178.2" y="840.8" width="13.9" height="14.3" fill="#a2a2a2"/><rect x="1191.8" y="840.8" width="13.9" height="14.3" fill="#a0a0a0"/><rect x="1205.4" y="840.8" width="13.9" height="14.3" fill="#9d9d9d"/><rect x="1218.9" y="840.8" width="13.9" height="14.3" fill="#999999"/><rect x="1232.5" y="840.8" width="13.9" height="14.3" fill="#959595"/><rect x="1246.1" y="840.8" width="13.9" height="14.3" fill="#929292"/><rect x="1259.7" y="840.8" width="13.9" height="14.3" fill="#8e8e8e"/><rect x="1273.3" y="840.8" width="13.9" height="14.3" fill="#8b8b8b"/><rect x="1286.9" y="840.8" width="13.9" height="14.3" fill="#898989"/><rect x="1300.5" y="840.8" width="13.9" height="14.3" fill="#888888"/><rect x="1314" y="840.8" width="27.5" height="14.3" fill="#868686"/><rect x="1341.2" y="840.8" width="54.6" height="14.3" fill="#858585"/><rect x="947.2" y="854.8" width="54.6" height="14.3" fill="#858585"/><rect x="1001.6" y="854.8" width="13.9" height="14.3" fill="#868686"/><rect x="1015.2" y="854.8" width="13.9" height="14.3" fill="#878787"/><rect x="1028.8" y="854.8" width="13.9" height="14.3" fill="#888888"/><rect x="1042.3" y="854.8" width="13.9" height="14.3" fill="#8a8a8a"/><rect x="1055.9" y="854.8" width="13.9" height="14.3" fill="#8d8d8d"/><rect x="1069.5" y="854.8" width="13.9" height="14.3" fill="#909090"/><rect x="1083.1" y="854.8" width="13.9" height="14.3" fill="#949494"/><rect x="1096.7" y="854.8" width="13.9" height="14.3" fill="#999999"/><rect x="1110.3" y="854.8" width="13.9" height="14.3" fill="#9e9e9e"/><rect x="1123.9" y="854.8" width="13.9" height="14.3" fill="#a2a2a2"/><rect x="1137.4" y="854.8" width="13.9" height="14.3" fill="#a6a6a6"/><rect x="1151" y="854.8" width="41.1" height="14.3" fill="#a9a9a9"/><rect x="1191.8" y="854.8" width="13.9" height="14.3" fill="#a6a6a6"/><rect x="1205.4" y="854.8" width="13.9" height="14.3" fill="#a2a2a2"/><rect x="1218.9" y="854.8" width="13.9" height="14.3" fill="#9e9e9e"/><rect x="1232.5" y="854.8" width="13.9" height="14.3" fill="#999999"/><rect x="1246.1" y="854.8" width="13.9" height="14.3" fill="#949494"/><rect x="1259.7" y="854.8" width="13.9" height="14.3" fill="#909090"/><rect x="1273.3" y="854.8" width="13.9" height="14.3" fill="#8d8d8d"/><rect x="1286.9" y="854.8" width="13.9" height="14.3" fill="#8a8a8a"/><rect x="1300.5" y="854.8" width="13.9" height="14.3" fill="#888888"/><rect x="1314" y="854.8" width="13.9" height="14.3" fill="#878787"/><rect x="1327.6" y="854.8" width="13.9" height="14.3" fill="#868686"/><rect x="1341.2" y="854.8" width="54.6" height="14.3" fill="#858585"/><rect x="947.2" y="868.8" width="54.6" height="14.3" fill="#858585"/><rect x="1001.6" y="868.8" width="13.9" height="14.3" fill="#868686"/><rect x="1015.2" y="868.8" width="13.9" height="14.3" fill="#878787"/><rect x="1028.8" y="868.8" width="13.9" height="14.3" fill="#898989"/><rect x="1042.3" y="868.8" width="13.9" height="14.3" fill="#8b8b8b"/><rect x="1055.9" y="868.8" width="13.9" height="14.3" fill="#8e8e8e"/><rect x="1069.5" y="868.8" width="13.9" height="14.3" fill="#929292"/><rect x="1083.1" y="868.8" width="13.9" height="14.3" fill="#969696"/><rect x="1096.7" y="868.8" width="13.9" height="14.3" fill="#9c9c9c"/><rect x="1110.3" y="868.8" width="13.9" height="14.3" fill="#a1a1a1"/><rect x="1123.9" y="868.8" width="13.9" height="14.3" fill="#a6a6a6"/><rect x="1137.4" y="868.8" width="13.9" height="14.3" fill="#aaaaaa"/><rect x="1151" y="868.8" width="13.9" height="14.3" fill="#adadad"/><rect x="1164.6" y="868.8" width="13.9" height="14.3" fill="#aeaeae"/><rect x="1178.2" y="868.8" width="13.9" height="14.3" fill="#adadad"/><rect x="1191.8" y="868.8" width="13.9" height="14.3" fill="#aaaaaa"/><rect x="1205.4" y="868.8" width="13.9" height="14.3" fill="#a6a6a6"/><rect x="1218.9" y="868.8" width="13.9" height="14.3" fill="#a0a0a0"/><rect x="1232.5" y="868.8" width="13.9" height="14.3" fill="#9b9b9b"/><rect x="1246.1" y="868.8" width="13.9" height="14.3" fill="#969696"/><rect x="1259.7" y="868.8" width="13.9" height="14.3" fill="#919191"/><rect x="1273.3" y="868.8" width="13.9" height="14.3" fill="#8e8e8e"/><rect x="1286.9" y="868.8" width="13.9" height="14.3" fill="#8b8b8b"/><rect x="1300.5" y="868.8" width="13.9" height="14.3" fill="#888888"/><rect x="1314" y="868.8" width="13.9" height="14.3" fill="#878787"/><rect x="1327.6" y="868.8" width="13.9" height="14.3" fill="#868686"/><rect x="1341.2" y="868.8" width="54.6" height="14.3" fill="#858585"/><rect x="947.2" y="882.8" width="41.1" height="14.3" fill="#858585"/><rect x="988" y="882.8" width="13.9" height="14.3" fill="#868686"/><rect x="1001.6" y="882.8" width="13.9" height="14.3" fill="#878787"/><rect x="1015.2" y="882.8" width="13.9" height="14.3" fill="#888888"/><rect x="1028.8" y="882.8" width="13.9" height="14.3" fill="#8a8a8a"/><rect x="1042.3" y="882.8" width="13.9" height="14.3" fill="#8d8d8d"/><rect x="1055.9" y="882.8" width="13.9" height="14.3" fill="#919191"/><rect x="1069.5" y="882.8" width="13.9" height="14.3" fill="#959595"/><rect x="1083.1" y="882.8" width="13.9" height="14.3" fill="#9a9a9a"/><rect x="1096.7" y="882.8" width="13.9" height="14.3" fill="#9f9f9f"/><rect x="1110.3" y="882.8" width="13.9" height="14.3" fill="#a5a5a5"/><rect x="1123.9" y="882.8" width="13.9" height="14.3" fill="#aaaaaa"/><rect x="1137.4" y="882.8" width="13.9" height="14.3" fill="#aeaeae"/><rect x="1151" y="882.8" width="13.9" height="14.3" fill="#b0b0b0"/><rect x="1164.6" y="882.8" width="13.9" height="14.3" fill="#b1b1b1"/><rect x="1178.2" y="882.8" width="13.9" height="14.3" fill="#afafaf"/><rect x="1191.8" y="882.8" width="13.9" height="14.3" fill="#acacac"/><rect x="1205.4" y="882.8" width="13.9" height="14.3" fill="#a7a7a7"/><rect x="1218.9" y="882.8" width="13.9" height="14.3" fill="#a2a2a2"/><rect x="1232.5" y="882.8" width="13.9" height="14.3" fill="#9c9c9c"/><rect x="1246.1" y="882.8" width="13.9" height="14.3" fill="#969696"/><rect x="1259.7" y="882.8" width="13.9" height="14.3" fill="#929292"/><rect x="1273.3" y="882.8" width="13.9" height="14.3" fill="#8e8e8e"/><rect x="1286.9" y="882.8" width="13.9" height="14.3" fill="#8b8b8b"/><rect x="1300.5" y="882.8" width="13.9" height="14.3" fill="#888888"/><rect x="1314" y="882.8" width="13.9" height="14.3" fill="#878787"/><rect x="1327.6" y="882.8" width="13.9" height="14.3" fill="#868686"/><rect x="1341.2" y="882.8" width="54.6" height="14.3" fill="#858585"/><rect x="947.2" y="896.8" width="41.1" height="14.3" fill="#868686"/><rect x="988" y="896.8" width="13.9" height="14.3" fill="#878787"/><rect x="1001.6" y="896.8" width="13.9" height="14.3" fill="#888888"/><rect x="1015.2" y="896.8" width="13.9" height="14.3" fill="#8b8b8b"/><rect x="1028.8" y="896.8" width="13.9" height="14.3" fill="#8e8e8e"/><rect x="1042.3" y="896.8" width="13.9" height="14.3" fill="#929292"/><rect x="1055.9" y="896.8" width="13.9" height="14.3" fill="#989898"/><rect x="1069.5" y="896.8" width="13.9" height="14.3" fill="#9d9d9d"/><rect x="1083.1" y="896.8" width="13.9" height="14.3" fill="#a3a3a3"/><rect x="1096.7" y="896.8" width="13.9" height="14.3" fill="#a9a9a9"/><rect x="1110.3" y="896.8" width="13.9" height="14.3" fill="#aeaeae"/><rect x="1123.9" y="896.8" width="13.9" height="14.3" fill="#b2b2b2"/><rect x="1137.4" y="896.8" width="13.9" height="14.3" fill="#b6b6b6"/><rect x="1151" y="896.8" width="13.9" height="14.3" fill="#b8b8b8"/><rect x="1164.6" y="896.8" width="13.9" height="14.3" fill="#b7b7b7"/><rect x="1178.2" y="896.8" width="13.9" height="14.3" fill="#b5b5b5"/><rect x="1191.8" y="896.8" width="13.9" height="14.3" fill="#b0b0b0"/><rect x="1205.4" y="896.8" width="13.9" height="14.3" fill="#aaaaaa"/><rect x="1218.9" y="896.8" width="13.9" height="14.3" fill="#a3a3a3"/><rect x="1232.5" y="896.8" width="13.9" height="14.3" fill="#9d9d9d"/><rect x="1246.1" y="896.8" width="13.9" height="14.3" fill="#979797"/><rect x="1259.7" y="896.8" width="13.9" height="14.3" fill="#919191"/><rect x="1273.3" y="896.8" width="13.9" height="14.3" fill="#8d8d8d"/><rect x="1286.9" y="896.8" width="13.9" height="14.3" fill="#8a8a8a"/><rect x="1300.5" y="896.8" width="13.9" height="14.3" fill="#888888"/><rect x="1314" y="896.8" width="13.9" height="14.3" fill="#878787"/><rect x="1327.6" y="896.8" width="13.9" height="14.3" fill="#868686"/><rect x="1341.2" y="896.8" width="54.6" height="14.3" fill="#858585"/><rect x="947.2" y="910.8" width="41.1" height="14.3" fill="#878787"/><rect x="988" y="910.8" width="13.9" height="14.3" fill="#888888"/><rect x="1001.6" y="910.8" width="13.9" height="14.3" fill="#8b8b8b"/><rect x="1015.2" y="910.8" width="13.9" height="14.3" fill="#8f8f8f"/><rect x="1028.8" y="910.8" width="13.9" height="14.3" fill="#959595"/><rect x="1042.3" y="910.8" width="13.9" height="14.3" fill="#9c9c9c"/><rect x="1055.9" y="910.8" width="13.9" height="14.3" fill="#a4a4a4"/><rect x="1069.5" y="910.8" width="13.9" height="14.3" fill="#ababab"/><rect x="1083.1" y="910.8" width="13.9" height="14.3" fill="#b3b3b3"/><rect x="1096.7" y="910.8" width="13.9" height="14.3" fill="#b9b9b9"/><rect x="1110.3" y="910.8" width="13.9" height="14.3" fill="#bebebe"/><rect x="1123.9" y="910.8" width="13.9" height="14.3" fill="#c2c2c2"/><rect x="1137.4" y="910.8" width="13.9" height="14.3" fill="#c4c4c4"/><rect x="1151" y="910.8" width="13.9" height="14.3" fill="#c5c5c5"/><rect x="1164.6" y="910.8" width="13.9" height="14.3" fill="#c3c3c3"/><rect x="1178.2" y="910.8" width="13.9" height="14.3" fill="#bfbfbf"/><rect x="1191.8" y="910.8" width="13.9" height="14.3" fill="#b8b8b8"/><rect x="1205.4" y="910.8" width="13.9" height="14.3" fill="#b0b0b0"/><rect x="1218.9" y="910.8" width="13.9" height="14.3" fill="#a7a7a7"/><rect x="1232.5" y="910.8" width="13.9" height="14.3" fill="#9e9e9e"/><rect x="1246.1" y="910.8" width="13.9" height="14.3" fill="#979797"/><rect x="1259.7" y="910.8" width="13.9" height="14.3" fill="#919191"/><rect x="1273.3" y="910.8" width="13.9" height="14.3" fill="#8d8d8d"/><rect x="1286.9" y="910.8" width="13.9" height="14.3" fill="#8a8a8a"/><rect x="1300.5" y="910.8" width="13.9" height="14.3" fill="#888888"/><rect x="1314" y="910.8" width="27.5" height="14.3" fill="#868686"/><rect x="1341.2" y="910.8" width="54.6" height="14.3" fill="#858585"/><rect x="947.2" y="924.8" width="41.1" height="14.3" fill="#888888"/><rect x="988" y="924.8" width="13.9" height="14.3" fill="#8a8a8a"/><rect x="1001.6" y="924.8" width="13.9" height="14.3" fill="#8e8e8e"/><rect x="1015.2" y="924.8" width="13.9" height="14.3" fill="#949494"/><rect x="1028.8" y="924.8" width="13.9" height="14.3" fill="#9c9c9c"/><rect x="1042.3" y="924.8" width="13.9" height="14.3" fill="#a6a6a6"/><rect x="1055.9" y="924.8" width="13.9" height="14.3" fill="#b0b0b0"/><rect x="1069.5" y="924.8" width="13.9" height="14.3" fill="#bbbbbb"/><rect x="1083.1" y="924.8" width="13.9" height="14.3" fill="#c4c4c4"/><rect x="1096.7" y="924.8" width="13.9" height="14.3" fill="#cacaca"/><rect x="1110.3" y="924.8" width="13.9" height="14.3" fill="#cecece"/><rect x="1123.9" y="924.8" width="13.9" height="14.3" fill="#cfcfcf"/><rect x="1137.4" y="924.8" width="13.9" height="14.3" fill="#d0d0d0"/><rect x="1151" y="924.8" width="13.9" height="14.3" fill="#cfcfcf"/><rect x="1164.6" y="924.8" width="13.9" height="14.3" fill="#cccccc"/><rect x="1178.2" y="924.8" width="13.9" height="14.3" fill="#c6c6c6"/><rect x="1191.8" y="924.8" width="13.9" height="14.3" fill="#bdbdbd"/><rect x="1205.4" y="924.8" width="13.9" height="14.3" fill="#b3b3b3"/><rect x="1218.9" y="924.8" width="13.9" height="14.3" fill="#a9a9a9"/><rect x="1232.5" y="924.8" width="13.9" height="14.3" fill="#9f9f9f"/><rect x="1246.1" y="924.8" width="13.9" height="14.3" fill="#979797"/><rect x="1259.7" y="924.8" width="13.9" height="14.3" fill="#919191"/><rect x="1273.3" y="924.8" width="13.9" height="14.3" fill="#8c8c8c"/><rect x="1286.9" y="924.8" width="13.9" height="14.3" fill="#898989"/><rect x="1300.5" y="924.8" width="13.9" height="14.3" fill="#878787"/><rect x="1314" y="924.8" width="13.9" height="14.3" fill="#868686"/><rect x="1327.6" y="924.8" width="68.2" height="14.3" fill="#858585"/><rect x="947.2" y="938.8" width="41.1" height="14.3" fill="#888888"/><rect x="988" y="938.8" width="13.9" height="14.3" fill="#8a8a8a"/><rect x="1001.6" y="938.8" width="13.9" height="14.3" fill="#8f8f8f"/><rect x="1015.2" y="938.8" width="13.9" height="14.3" fill="#969696"/><rect x="1028.8" y="938.8" width="13.9" height="14.3" fill="#9f9f9f"/><rect x="1042.3" y="938.8" width="13.9" height="14.3" fill="#ababab"/><rect x="1055.9" y="938.8" width="13.9" height="14.3" fill="#b9b9b9"/><rect x="1069.5" y="938.8" width="13.9" height="14.3" fill="#c8c8c8"/><rect x="1083.1" y="938.8" width="13.9" height="14.3" fill="#d5d5d5"/><rect x="1096.7" y="938.8" width="13.9" height="14.3" fill="#dddddd"/><rect x="1110.3" y="938.8" width="13.9" height="14.3" fill="#dbdbdb"/><rect x="1123.9" y="938.8" width="13.9" height="14.3" fill="#d6d6d6"/><rect x="1137.4" y="938.8" width="13.9" height="14.3" fill="#d2d2d2"/><rect x="1151" y="938.8" width="13.9" height="14.3" fill="#d0d0d0"/><rect x="1164.6" y="938.8" width="13.9" height="14.3" fill="#cbcbcb"/><rect x="1178.2" y="938.8" width="13.9" height="14.3" fill="#c5c5c5"/><rect x="1191.8" y="938.8" width="13.9" height="14.3" fill="#bcbcbc"/><rect x="1205.4" y="938.8" width="13.9" height="14.3" fill="#b1b1b1"/><rect x="1218.9" y="938.8" width="13.9" height="14.3" fill="#a7a7a7"/><rect x="1232.5" y="938.8" width="13.9" height="14.3" fill="#9d9d9d"/><rect x="1246.1" y="938.8" width="13.9" height="14.3" fill="#959595"/><rect x="1259.7" y="938.8" width="13.9" height="14.3" fill="#8f8f8f"/><rect x="1273.3" y="938.8" width="13.9" height="14.3" fill="#8b8b8b"/><rect x="1286.9" y="938.8" width="13.9" height="14.3" fill="#888888"/><rect x="1300.5" y="938.8" width="13.9" height="14.3" fill="#868686"/><rect x="1314" y="938.8" width="81.8" height="14.3" fill="#858585"/><rect x="947.2" y="952.8" width="41.1" height="14.3" fill="#888888"/><rect x="988" y="952.8" width="13.9" height="14.3" fill="#898989"/><rect x="1001.6" y="952.8" width="13.9" height="14.3" fill="#8e8e8e"/><rect x="1015.2" y="952.8" width="13.9" height="14.3" fill="#959595"/><rect x="1028.8" y="952.8" width="13.9" height="14.3" fill="#a0a0a0"/><rect x="1042.3" y="952.8" width="13.9" height="14.3" fill="#adadad"/><rect x="1055.9" y="952.8" width="13.9" height="14.3" fill="#bdbdbd"/><rect x="1069.5" y="952.8" width="13.9" height="14.3" fill="#d0d0d0"/><rect x="1083.1" y="952.8" width="13.9" height="14.3" fill="#e4e4e4"/><rect x="1096.7" y="952.8" width="13.9" height="14.3" fill="#ededed"/><rect x="1110.3" y="952.8" width="13.9" height="14.3" fill="#e5e5e5"/><rect x="1123.9" y="952.8" width="13.9" height="14.3" fill="#d7d7d7"/><rect x="1137.4" y="952.8" width="13.9" height="14.3" fill="#cdcdcd"/><rect x="1151" y="952.8" width="13.9" height="14.3" fill="#c9c9c9"/><rect x="1164.6" y="952.8" width="13.9" height="14.3" fill="#c4c4c4"/><rect x="1178.2" y="952.8" width="13.9" height="14.3" fill="#bebebe"/><rect x="1191.8" y="952.8" width="13.9" height="14.3" fill="#b6b6b6"/><rect x="1205.4" y="952.8" width="13.9" height="14.3" fill="#acacac"/><rect x="1218.9" y="952.8" width="13.9" height="14.3" fill="#a2a2a2"/><rect x="1232.5" y="952.8" width="13.9" height="14.3" fill="#9a9a9a"/><rect x="1246.1" y="952.8" width="13.9" height="14.3" fill="#929292"/><rect x="1259.7" y="952.8" width="13.9" height="14.3" fill="#8d8d8d"/><rect x="1273.3" y="952.8" width="13.9" height="14.3" fill="#898989"/><rect x="1286.9" y="952.8" width="13.9" height="14.3" fill="#878787"/><rect x="1300.5" y="952.8" width="13.9" height="14.3" fill="#868686"/><rect x="1314" y="952.8" width="81.8" height="14.3" fill="#858585"/><rect x="947.2" y="966.8" width="41.1" height="14.3" fill="#878787"/><rect x="988" y="966.8" width="13.9" height="14.3" fill="#888888"/><rect x="1001.6" y="966.8" width="13.9" height="14.3" fill="#8c8c8c"/><rect x="1015.2" y="966.8" width="13.9" height="14.3" fill="#919191"/><rect x="1028.8" y="966.8" width="13.9" height="14.3" fill="#9a9a9a"/><rect x="1042.3" y="966.8" width="13.9" height="14.3" fill="#a4a4a4"/><rect x="1055.9" y="966.8" width="13.9" height="14.3" fill="#b1b1b1"/><rect x="1069.5" y="966.8" width="13.9" height="14.3" fill="#c1c1c1"/><rect x="1083.1" y="966.8" width="13.9" height="14.3" fill="#d0d0d0"/><rect x="1096.7" y="966.8" width="13.9" height="14.3" fill="#d6d6d6"/><rect x="1110.3" y="966.8" width="13.9" height="14.3" fill="#d0d0d0"/><rect x="1123.9" y="966.8" width="13.9" height="14.3" fill="#c4c4c4"/><rect x="1137.4" y="966.8" width="13.9" height="14.3" fill="#bcbcbc"/><rect x="1151" y="966.8" width="13.9" height="14.3" fill="#b8b8b8"/><rect x="1164.6" y="966.8" width="13.9" height="14.3" fill="#b4b4b4"/><rect x="1178.2" y="966.8" width="13.9" height="14.3" fill="#afafaf"/><rect x="1191.8" y="966.8" width="13.9" height="14.3" fill="#a9a9a9"/><rect x="1205.4" y="966.8" width="13.9" height="14.3" fill="#a2a2a2"/><rect x="1218.9" y="966.8" width="13.9" height="14.3" fill="#9a9a9a"/><rect x="1232.5" y="966.8" width="13.9" height="14.3" fill="#949494"/><rect x="1246.1" y="966.8" width="13.9" height="14.3" fill="#8e8e8e"/><rect x="1259.7" y="966.8" width="13.9" height="14.3" fill="#8a8a8a"/><rect x="1273.3" y="966.8" width="13.9" height="14.3" fill="#888888"/><rect x="1286.9" y="966.8" width="13.9" height="14.3" fill="#868686"/><rect x="1300.5" y="966.8" width="27.5" height="14.3" fill="#858585"/><rect x="1327.6" y="966.8" width="68.2" height="14.3" fill="#848484"/><rect x="947.2" y="980.8" width="54.6" height="14.3" fill="#858585"/><rect x="1001.6" y="980.8" width="13.9" height="14.3" fill="#878787"/><rect x="1015.2" y="980.8" width="13.9" height="14.3" fill="#8b8b8b"/><rect x="1028.8" y="980.8" width="13.9" height="14.3" fill="#8f8f8f"/><rect x="1042.3" y="980.8" width="13.9" height="14.3" fill="#959595"/><rect x="1055.9" y="980.8" width="13.9" height="14.3" fill="#9b9b9b"/><rect x="1069.5" y="980.8" width="13.9" height="14.3" fill="#a2a2a2"/><rect x="1083.1" y="980.8" width="13.9" height="14.3" fill="#a8a8a8"/><rect x="1096.7" y="980.8" width="13.9" height="14.3" fill="#aaaaaa"/><rect x="1110.3" y="980.8" width="13.9" height="14.3" fill="#a8a8a8"/><rect x="1123.9" y="980.8" width="13.9" height="14.3" fill="#a4a4a4"/><rect x="1137.4" y="980.8" width="13.9" height="14.3" fill="#a2a2a2"/><rect x="1151" y="980.8" width="13.9" height="14.3" fill="#a0a0a0"/><rect x="1164.6" y="980.8" width="13.9" height="14.3" fill="#9e9e9e"/><rect x="1178.2" y="980.8" width="13.9" height="14.3" fill="#9c9c9c"/><rect x="1191.8" y="980.8" width="13.9" height="14.3" fill="#989898"/><rect x="1205.4" y="980.8" width="13.9" height="14.3" fill="#949494"/><rect x="1218.9" y="980.8" width="13.9" height="14.3" fill="#909090"/><rect x="1232.5" y="980.8" width="13.9" height="14.3" fill="#8c8c8c"/><rect x="1246.1" y="980.8" width="13.9" height="14.3" fill="#898989"/><rect x="1259.7" y="980.8" width="13.9" height="14.3" fill="#878787"/><rect x="1273.3" y="980.8" width="13.9" height="14.3" fill="#868686"/><rect x="1286.9" y="980.8" width="13.9" height="14.3" fill="#858585"/><rect x="1300.5" y="980.8" width="95.4" height="14.3" fill="#848484"/><rect x="947.2" y="994.8" width="54.6" height="14.3" fill="#838383"/><rect x="1001.6" y="994.8" width="13.9" height="14.3" fill="#848484"/><rect x="1015.2" y="994.8" width="13.9" height="14.3" fill="#858585"/><rect x="1028.8" y="994.8" width="13.9" height="14.3" fill="#868686"/><rect x="1042.3" y="994.8" width="13.9" height="14.3" fill="#888888"/><rect x="1055.9" y="994.8" width="13.9" height="14.3" fill="#8a8a8a"/><rect x="1069.5" y="994.8" width="13.9" height="14.3" fill="#8c8c8c"/><rect x="1083.1" y="994.8" width="54.6" height="14.3" fill="#8e8e8e"/><rect x="1137.4" y="994.8" width="27.5" height="14.3" fill="#8d8d8d"/><rect x="1164.6" y="994.8" width="13.9" height="14.3" fill="#8c8c8c"/><rect x="1178.2" y="994.8" width="13.9" height="14.3" fill="#8b8b8b"/><rect x="1191.8" y="994.8" width="13.9" height="14.3" fill="#8a8a8a"/><rect x="1205.4" y="994.8" width="13.9" height="14.3" fill="#898989"/><rect x="1218.9" y="994.8" width="13.9" height="14.3" fill="#878787"/><rect x="1232.5" y="994.8" width="13.9" height="14.3" fill="#868686"/><rect x="1246.1" y="994.8" width="13.9" height="14.3" fill="#858585"/><rect x="1259.7" y="994.8" width="136.2" height="14.3" fill="#848484"/><rect x="947.2" y="1008.8" width="54.6" height="14.3" fill="#828282"/><rect x="1001.6" y="1008.8" width="27.5" height="14.3" fill="#818181"/><rect x="1028.8" y="1008.8" width="41.1" height="14.3" fill="#828282"/><rect x="1069.5" y="1008.8" width="244.8" height="14.3" fill="#838383"/><rect x="1314" y="1008.8" width="81.8" height="14.3" fill="#848484"/><rect x="947.2" y="1022.7" width="41.1" height="14.3" fill="#808080"/><rect x="988" y="1022.7" width="27.5" height="14.3" fill="#7f7f7f"/><rect x="1015.2" y="1022.7" width="163.3" height="14.3" fill="#7e7e7e"/><rect x="1178.2" y="1022.7" width="27.5" height="14.3" fill="#7f7f7f"/><rect x="1205.4" y="1022.7" width="27.5" height="14.3" fill="#808080"/><rect x="1232.5" y="1022.7" width="27.5" height="14.3" fill="#818181"/><rect x="1259.7" y="1022.7" width="27.5" height="14.3" fill="#828282"/><rect x="1286.9" y="1022.7" width="41.1" height="14.3" fill="#838383"/><rect x="1327.6" y="1022.7" width="68.2" height="14.3" fill="#848484"/><rect x="947.2" y="1036.7" width="41.1" height="14.3" fill="#7c7c7c"/><rect x="988" y="1036.7" width="13.9" height="14.3" fill="#7b7b7b"/><rect x="1001.6" y="1036.7" width="13.9" height="14.3" fill="#7a7a7a"/><rect x="1015.2" y="1036.7" width="13.9" height="14.3" fill="#797979"/><rect x="1028.8" y="1036.7" width="13.9" height="14.3" fill="#787878"/><rect x="1042.3" y="1036.7" width="109" height="14.3" fill="#777777"/><rect x="1151" y="1036.7" width="13.9" height="14.3" fill="#787878"/><rect x="1164.6" y="1036.7" width="27.5" height="14.3" fill="#797979"/><rect x="1191.8" y="1036.7" width="13.9" height="14.3" fill="#7a7a7a"/><rect x="1205.4" y="1036.7" width="13.9" height="14.3" fill="#7c7c7c"/><rect x="1218.9" y="1036.7" width="13.9" height="14.3" fill="#7d7d7d"/><rect x="1232.5" y="1036.7" width="13.9" height="14.3" fill="#7e7e7e"/><rect x="1246.1" y="1036.7" width="13.9" height="14.3" fill="#7f7f7f"/><rect x="1259.7" y="1036.7" width="13.9" height="14.3" fill="#808080"/><rect x="1273.3" y="1036.7" width="13.9" height="14.3" fill="#818181"/><rect x="1286.9" y="1036.7" width="13.9" height="14.3" fill="#828282"/><rect x="1300.5" y="1036.7" width="41.1" height="14.3" fill="#838383"/><rect x="1341.2" y="1036.7" width="54.6" height="14.3" fill="#848484"/><rect x="947.2" y="1050.7" width="41.1" height="14.3" fill="#767676"/><rect x="988" y="1050.7" width="13.9" height="14.3" fill="#747474"/><rect x="1001.6" y="1050.7" width="13.9" height="14.3" fill="#717171"/><rect x="1015.2" y="1050.7" width="13.9" height="14.3" fill="#6d6d6d"/><rect x="1028.8" y="1050.7" width="27.5" height="14.3" fill="#6b6b6b"/><rect x="1055.9" y="1050.7" width="13.9" height="14.3" fill="#6c6c6c"/><rect x="1069.5" y="1050.7" width="68.2" height="14.3" fill="#6d6d6d"/><rect x="1137.4" y="1050.7" width="27.5" height="14.3" fill="#6e6e6e"/><rect x="1164.6" y="1050.7" width="13.9" height="14.3" fill="#707070"/><rect x="1178.2" y="1050.7" width="13.9" height="14.3" fill="#717171"/><rect x="1191.8" y="1050.7" width="13.9" height="14.3" fill="#737373"/><rect x="1205.4" y="1050.7" width="13.9" height="14.3" fill="#757575"/><rect x="1218.9" y="1050.7" width="13.9" height="14.3" fill="#787878"/><rect x="1232.5" y="1050.7" width="13.9" height="14.3" fill="#7a7a7a"/><rect x="1246.1" y="1050.7" width="13.9" height="14.3" fill="#7c7c7c"/><rect x="1259.7" y="1050.7" width="13.9" height="14.3" fill="#7e7e7e"/><rect x="1273.3" y="1050.7" width="13.9" height="14.3" fill="#808080"/><rect x="1286.9" y="1050.7" width="13.9" height="14.3" fill="#818181"/><rect x="1300.5" y="1050.7" width="13.9" height="14.3" fill="#828282"/><rect x="1314" y="1050.7" width="81.8" height="14.3" fill="#838383"/><rect x="947.2" y="1064.7" width="41.1" height="14.3" fill="#6e6e6e"/><rect x="988" y="1064.7" width="13.9" height="14.3" fill="#6b6b6b"/><rect x="1001.6" y="1064.7" width="13.9" height="14.3" fill="#626262"/><rect x="1015.2" y="1064.7" width="13.9" height="14.3" fill="#575757"/><rect x="1028.8" y="1064.7" width="13.9" height="14.3" fill="#515151"/><rect x="1042.3" y="1064.7" width="13.9" height="14.3" fill="#555555"/><rect x="1055.9" y="1064.7" width="13.9" height="14.3" fill="#5c5c5c"/><rect x="1069.5" y="1064.7" width="13.9" height="14.3" fill="#606060"/><rect x="1083.1" y="1064.7" width="54.6" height="14.3" fill="#616161"/><rect x="1137.4" y="1064.7" width="13.9" height="14.3" fill="#626262"/><rect x="1151" y="1064.7" width="13.9" height="14.3" fill="#636363"/><rect x="1164.6" y="1064.7" width="13.9" height="14.3" fill="#656565"/><rect x="1178.2" y="1064.7" width="13.9" height="14.3" fill="#686868"/><rect x="1191.8" y="1064.7" width="13.9" height="14.3" fill="#6b6b6b"/><rect x="1205.4" y="1064.7" width="13.9" height="14.3" fill="#6e6e6e"/><rect x="1218.9" y="1064.7" width="13.9" height="14.3" fill="#727272"/><rect x="1232.5" y="1064.7" width="13.9" height="14.3" fill="#767676"/><rect x="1246.1" y="1064.7" width="13.9" height="14.3" fill="#797979"/><rect x="1259.7" y="1064.7" width="13.9" height="14.3" fill="#7c7c7c"/><rect x="1273.3" y="1064.7" width="13.9" height="14.3" fill="#7e7e7e"/><rect x="1286.9" y="1064.7" width="13.9" height="14.3" fill="#808080"/><rect x="1300.5" y="1064.7" width="13.9" height="14.3" fill="#818181"/><rect x="1314" y="1064.7" width="13.9" height="14.3" fill="#828282"/><rect x="1327.6" y="1064.7" width="68.2" height="14.3" fill="#838383"/><rect x="947.2" y="1078.7" width="41.1" height="14.3" fill="#676767"/><rect x="988" y="1078.7" width="13.9" height="14.3" fill="#626262"/><rect x="1001.6" y="1078.7" width="13.9" height="14.3" fill="#4f4f4f"/><rect x="1015.2" y="1078.7" width="13.9" height="14.3" fill="#363636"/><rect x="1028.8" y="1078.7" width="13.9" height="14.3" fill="#2a2a2a"/><rect x="1042.3" y="1078.7" width="13.9" height="14.3" fill="#363636"/><rect x="1055.9" y="1078.7" width="13.9" height="14.3" fill="#4a4a4a"/><rect x="1069.5" y="1078.7" width="13.9" height="14.3" fill="#545454"/><rect x="1083.1" y="1078.7" width="54.6" height="14.3" fill="#575757"/><rect x="1137.4" y="1078.7" width="13.9" height="14.3" fill="#585858"/><rect x="1151" y="1078.7" width="13.9" height="14.3" fill="#5a5a5a"/><rect x="1164.6" y="1078.7" width="13.9" height="14.3" fill="#5c5c5c"/><rect x="1178.2" y="1078.7" width="13.9" height="14.3" fill="#606060"/><rect x="1191.8" y="1078.7" width="13.9" height="14.3" fill="#646464"/><rect x="1205.4" y="1078.7" width="13.9" height="14.3" fill="#686868"/><rect x="1218.9" y="1078.7" width="13.9" height="14.3" fill="#6d6d6d"/><rect x="1232.5" y="1078.7" width="13.9" height="14.3" fill="#727272"/><rect x="1246.1" y="1078.7" width="13.9" height="14.3" fill="#767676"/><rect x="1259.7" y="1078.7" width="13.9" height="14.3" fill="#7a7a7a"/><rect x="1273.3" y="1078.7" width="13.9" height="14.3" fill="#7d7d7d"/><rect x="1286.9" y="1078.7" width="13.9" height="14.3" fill="#7f7f7f"/><rect x="1300.5" y="1078.7" width="13.9" height="14.3" fill="#818181"/><rect x="1314" y="1078.7" width="27.5" height="14.3" fill="#828282"/><rect x="1341.2" y="1078.7" width="54.6" height="14.3" fill="#838383"/><rect x="947.2" y="1092.7" width="41.1" height="14.3" fill="#636363"/><rect x="988" y="1092.7" width="13.9" height="14.3" fill="#5c5c5c"/><rect x="1001.6" y="1092.7" width="13.9" height="14.3" fill="#444444"/><rect x="1015.2" y="1092.7" width="13.9" height="14.3" fill="#232323"/><rect x="1028.8" y="1092.7" width="13.9" height="14.3" fill="#131313"/><rect x="1042.3" y="1092.7" width="13.9" height="14.3" fill="#242424"/><rect x="1055.9" y="1092.7" width="13.9" height="14.3" fill="#3f3f3f"/><rect x="1069.5" y="1092.7" width="13.9" height="14.3" fill="#4d4d4d"/><rect x="1083.1" y="1092.7" width="13.9" height="14.3" fill="#505050"/><rect x="1096.7" y="1092.7" width="13.9" height="14.3" fill="#515151"/><rect x="1110.3" y="1092.7" width="13.9" height="14.3" fill="#505050"/><rect x="1123.9" y="1092.7" width="13.9" height="14.3" fill="#4f4f4f"/><rect x="1137.4" y="1092.7" width="13.9" height="14.3" fill="#4d4d4d"/><rect x="1151" y="1092.7" width="13.9" height="14.3" fill="#4e4e4e"/><rect x="1164.6" y="1092.7" width="13.9" height="14.3" fill="#535353"/><rect x="1178.2" y="1092.7" width="13.9" height="14.3" fill="#595959"/><rect x="1191.8" y="1092.7" width="13.9" height="14.3" fill="#5f5f5f"/><rect x="1205.4" y="1092.7" width="13.9" height="14.3" fill="#646464"/><rect x="1218.9" y="1092.7" width="13.9" height="14.3" fill="#6a6a6a"/><rect x="1232.5" y="1092.7" width="13.9" height="14.3" fill="#6f6f6f"/><rect x="1246.1" y="1092.7" width="13.9" height="14.3" fill="#747474"/><rect x="1259.7" y="1092.7" width="13.9" height="14.3" fill="#797979"/><rect x="1273.3" y="1092.7" width="13.9" height="14.3" fill="#7c7c7c"/><rect x="1286.9" y="1092.7" width="13.9" height="14.3" fill="#7e7e7e"/><rect x="1300.5" y="1092.7" width="13.9" height="14.3" fill="#808080"/><rect x="1314" y="1092.7" width="13.9" height="14.3" fill="#818181"/><rect x="1327.6" y="1092.7" width="13.9" height="14.3" fill="#828282"/><rect x="1341.2" y="1092.7" width="54.6" height="14.3" fill="#838383"/><rect x="947.2" y="1106.7" width="41.1" height="14.3" fill="#626262"/><rect x="988" y="1106.7" width="13.9" height="14.3" fill="#5c5c5c"/><rect x="1001.6" y="1106.7" width="13.9" height="14.3" fill="#494949"/><rect x="1015.2" y="1106.7" width="13.9" height="14.3" fill="#2f2f2f"/><rect x="1028.8" y="1106.7" width="13.9" height="14.3" fill="#222222"/><rect x="1042.3" y="1106.7" width="13.9" height="14.3" fill="#2e2e2e"/><rect x="1055.9" y="1106.7" width="13.9" height="14.3" fill="#414141"/><rect x="1069.5" y="1106.7" width="13.9" height="14.3" fill="#4c4c4c"/><rect x="1083.1" y="1106.7" width="27.5" height="14.3" fill="#4f4f4f"/><rect x="1110.3" y="1106.7" width="13.9" height="14.3" fill="#4d4d4d"/><rect x="1123.9" y="1106.7" width="13.9" height="14.3" fill="#494949"/><rect x="1137.4" y="1106.7" width="27.5" height="14.3" fill="#424242"/><rect x="1164.6" y="1106.7" width="13.9" height="14.3" fill="#4a4a4a"/><rect x="1178.2" y="1106.7" width="13.9" height="14.3" fill="#555555"/><rect x="1191.8" y="1106.7" width="13.9" height="14.3" fill="#5d5d5d"/><rect x="1205.4" y="1106.7" width="13.9" height="14.3" fill="#636363"/><rect x="1218.9" y="1106.7" width="13.9" height="14.3" fill="#696969"/><rect x="1232.5" y="1106.7" width="13.9" height="14.3" fill="#6e6e6e"/><rect x="1246.1" y="1106.7" width="13.9" height="14.3" fill="#747474"/><rect x="1259.7" y="1106.7" width="13.9" height="14.3" fill="#787878"/><rect x="1273.3" y="1106.7" width="13.9" height="14.3" fill="#7c7c7c"/><rect x="1286.9" y="1106.7" width="13.9" height="14.3" fill="#7e7e7e"/><rect x="1300.5" y="1106.7" width="13.9" height="14.3" fill="#808080"/><rect x="1314" y="1106.7" width="13.9" height="14.3" fill="#818181"/><rect x="1327.6" y="1106.7" width="13.9" height="14.3" fill="#828282"/><rect x="1341.2" y="1106.7" width="54.6" height="14.3" fill="#838383"/><rect x="947.2" y="1120.7" width="41.1" height="14.3" fill="#636363"/><rect x="988" y="1120.7" width="13.9" height="14.3" fill="#5f5f5f"/><rect x="1001.6" y="1120.7" width="13.9" height="14.3" fill="#545454"/><rect x="1015.2" y="1120.7" width="13.9" height="14.3" fill="#474747"/><rect x="1028.8" y="1120.7" width="13.9" height="14.3" fill="#3f3f3f"/><rect x="1042.3" y="1120.7" width="13.9" height="14.3" fill="#434343"/><rect x="1055.9" y="1120.7" width="13.9" height="14.3" fill="#4a4a4a"/><rect x="1069.5" y="1120.7" width="13.9" height="14.3" fill="#4e4e4e"/><rect x="1083.1" y="1120.7" width="13.9" height="14.3" fill="#4f4f4f"/><rect x="1096.7" y="1120.7" width="27.5" height="14.3" fill="#4e4e4e"/><rect x="1123.9" y="1120.7" width="13.9" height="14.3" fill="#4c4c4c"/><rect x="1137.4" y="1120.7" width="13.9" height="14.3" fill="#494949"/><rect x="1151" y="1120.7" width="13.9" height="14.3" fill="#4a4a4a"/><rect x="1164.6" y="1120.7" width="13.9" height="14.3" fill="#4f4f4f"/><rect x="1178.2" y="1120.7" width="13.9" height="14.3" fill="#575757"/><rect x="1191.8" y="1120.7" width="13.9" height="14.3" fill="#5d5d5d"/><rect x="1205.4" y="1120.7" width="13.9" height="14.3" fill="#636363"/><rect x="1218.9" y="1120.7" width="13.9" height="14.3" fill="#696969"/><rect x="1232.5" y="1120.7" width="13.9" height="14.3" fill="#6e6e6e"/><rect x="1246.1" y="1120.7" width="13.9" height="14.3" fill="#737373"/><rect x="1259.7" y="1120.7" width="13.9" height="14.3" fill="#787878"/><rect x="1273.3" y="1120.7" width="13.9" height="14.3" fill="#7b7b7b"/><rect x="1286.9" y="1120.7" width="13.9" height="14.3" fill="#7e7e7e"/><rect x="1300.5" y="1120.7" width="13.9" height="14.3" fill="#808080"/><rect x="1314" y="1120.7" width="13.9" height="14.3" fill="#818181"/><rect x="1327.6" y="1120.7" width="13.9" height="14.3" fill="#828282"/><rect x="1341.2" y="1120.7" width="54.6" height="14.3" fill="#838383"/><rect x="947.2" y="1134.7" width="41.1" height="14.3" fill="#646464"/><rect x="988" y="1134.7" width="13.9" height="14.3" fill="#616161"/><rect x="1001.6" y="1134.7" width="13.9" height="14.3" fill="#5b5b5b"/><rect x="1015.2" y="1134.7" width="13.9" height="14.3" fill="#555555"/><rect x="1028.8" y="1134.7" width="13.9" height="14.3" fill="#505050"/><rect x="1042.3" y="1134.7" width="13.9" height="14.3" fill="#4f4f4f"/><rect x="1055.9" y="1134.7" width="81.8" height="14.3" fill="#505050"/><rect x="1137.4" y="1134.7" width="13.9" height="14.3" fill="#515151"/><rect x="1151" y="1134.7" width="13.9" height="14.3" fill="#525252"/><rect x="1164.6" y="1134.7" width="13.9" height="14.3" fill="#555555"/><rect x="1178.2" y="1134.7" width="13.9" height="14.3" fill="#5a5a5a"/><rect x="1191.8" y="1134.7" width="13.9" height="14.3" fill="#5e5e5e"/><rect x="1205.4" y="1134.7" width="13.9" height="14.3" fill="#646464"/><rect x="1218.9" y="1134.7" width="13.9" height="14.3" fill="#696969"/><rect x="1232.5" y="1134.7" width="13.9" height="14.3" fill="#6f6f6f"/><rect x="1246.1" y="1134.7" width="13.9" height="14.3" fill="#747474"/><rect x="1259.7" y="1134.7" width="13.9" height="14.3" fill="#787878"/><rect x="1273.3" y="1134.7" width="13.9" height="14.3" fill="#7c7c7c"/><rect x="1286.9" y="1134.7" width="13.9" height="14.3" fill="#7e7e7e"/><rect x="1300.5" y="1134.7" width="13.9" height="14.3" fill="#808080"/><rect x="1314" y="1134.7" width="13.9" height="14.3" fill="#818181"/><rect x="1327.6" y="1134.7" width="13.9" height="14.3" fill="#828282"/><rect x="1341.2" y="1134.7" width="54.6" height="14.3" fill="#838383"/><rect x="947.2" y="1148.7" width="41.1" height="14.3" fill="#676767"/><rect x="988" y="1148.7" width="13.9" height="14.3" fill="#656565"/><rect x="1001.6" y="1148.7" width="13.9" height="14.3" fill="#606060"/><rect x="1015.2" y="1148.7" width="13.9" height="14.3" fill="#5c5c5c"/><rect x="1028.8" y="1148.7" width="13.9" height="14.3" fill="#585858"/><rect x="1042.3" y="1148.7" width="13.9" height="14.3" fill="#565656"/><rect x="1055.9" y="1148.7" width="13.9" height="14.3" fill="#555555"/><rect x="1069.5" y="1148.7" width="68.2" height="14.3" fill="#545454"/><rect x="1137.4" y="1148.7" width="13.9" height="14.3" fill="#555555"/><rect x="1151" y="1148.7" width="13.9" height="14.3" fill="#575757"/><rect x="1164.6" y="1148.7" width="13.9" height="14.3" fill="#5a5a5a"/><rect x="1178.2" y="1148.7" width="13.9" height="14.3" fill="#5d5d5d"/><rect x="1191.8" y="1148.7" width="13.9" height="14.3" fill="#616161"/><rect x="1205.4" y="1148.7" width="13.9" height="14.3" fill="#666666"/><rect x="1218.9" y="1148.7" width="13.9" height="14.3" fill="#6b6b6b"/><rect x="1232.5" y="1148.7" width="13.9" height="14.3" fill="#707070"/><rect x="1246.1" y="1148.7" width="13.9" height="14.3" fill="#757575"/><rect x="1259.7" y="1148.7" width="13.9" height="14.3" fill="#797979"/><rect x="1273.3" y="1148.7" width="13.9" height="14.3" fill="#7c7c7c"/><rect x="1286.9" y="1148.7" width="13.9" height="14.3" fill="#7f7f7f"/><rect x="1300.5" y="1148.7" width="13.9" height="14.3" fill="#808080"/><rect x="1314" y="1148.7" width="13.9" height="14.3" fill="#818181"/><rect x="1327.6" y="1148.7" width="13.9" height="14.3" fill="#828282"/><rect x="1341.2" y="1148.7" width="54.6" height="14.3" fill="#838383"/><rect x="947.2" y="1162.7" width="41.1" height="14.3" fill="#6c6c6c"/><rect x="988" y="1162.7" width="13.9" height="14.3" fill="#6a6a6a"/><rect x="1001.6" y="1162.7" width="13.9" height="14.3" fill="#666666"/><rect x="1015.2" y="1162.7" width="13.9" height="14.3" fill="#636363"/><rect x="1028.8" y="1162.7" width="13.9" height="14.3" fill="#606060"/><rect x="1042.3" y="1162.7" width="13.9" height="14.3" fill="#5f5f5f"/><rect x="1055.9" y="1162.7" width="41.1" height="14.3" fill="#5d5d5d"/><rect x="1096.7" y="1162.7" width="13.9" height="14.3" fill="#5c5c5c"/><rect x="1110.3" y="1162.7" width="27.5" height="14.3" fill="#5d5d5d"/><rect x="1137.4" y="1162.7" width="13.9" height="14.3" fill="#5e5e5e"/><rect x="1151" y="1162.7" width="13.9" height="14.3" fill="#5f5f5f"/><rect x="1164.6" y="1162.7" width="13.9" height="14.3" fill="#616161"/><rect x="1178.2" y="1162.7" width="13.9" height="14.3" fill="#646464"/><rect x="1191.8" y="1162.7" width="13.9" height="14.3" fill="#676767"/><rect x="1205.4" y="1162.7" width="13.9" height="14.3" fill="#6b6b6b"/><rect x="1218.9" y="1162.7" width="13.9" height="14.3" fill="#707070"/><rect x="1232.5" y="1162.7" width="13.9" height="14.3" fill="#747474"/><rect x="1246.1" y="1162.7" width="13.9" height="14.3" fill="#777777"/><rect x="1259.7" y="1162.7" width="13.9" height="14.3" fill="#7b7b7b"/><rect x="1273.3" y="1162.7" width="13.9" height="14.3" fill="#7d7d7d"/><rect x="1286.9" y="1162.7" width="13.9" height="14.3" fill="#7f7f7f"/><rect x="1300.5" y="1162.7" width="13.9" height="14.3" fill="#818181"/><rect x="1314" y="1162.7" width="27.5" height="14.3" fill="#828282"/><rect x="1341.2" y="1162.7" width="54.6" height="14.3" fill="#838383"/><rect x="947.2" y="1176.7" width="41.1" height="14.3" fill="#737373"/><rect x="988" y="1176.7" width="13.9" height="14.3" fill="#717171"/><rect x="1001.6" y="1176.7" width="13.9" height="14.3" fill="#6f6f6f"/><rect x="1015.2" y="1176.7" width="13.9" height="14.3" fill="#6d6d6d"/><rect x="1028.8" y="1176.7" width="13.9" height="14.3" fill="#6b6b6b"/><rect x="1042.3" y="1176.7" width="27.5" height="14.3" fill="#696969"/><rect x="1069.5" y="1176.7" width="68.2" height="14.3" fill="#686868"/><rect x="1137.4" y="1176.7" width="13.9" height="14.3" fill="#696969"/><rect x="1151" y="1176.7" width="13.9" height="14.3" fill="#6a6a6a"/><rect x="1164.6" y="1176.7" width="13.9" height="14.3" fill="#6b6b6b"/><rect x="1178.2" y="1176.7" width="13.9" height="14.3" fill="#6d6d6d"/><rect x="1191.8" y="1176.7" width="13.9" height="14.3" fill="#707070"/><rect x="1205.4" y="1176.7" width="13.9" height="14.3" fill="#727272"/><rect x="1218.9" y="1176.7" width="13.9" height="14.3" fill="#757575"/><rect x="1232.5" y="1176.7" width="13.9" height="14.3" fill="#787878"/><rect x="1246.1" y="1176.7" width="13.9" height="14.3" fill="#7b7b7b"/><rect x="1259.7" y="1176.7" width="13.9" height="14.3" fill="#7d7d7d"/><rect x="1273.3" y="1176.7" width="13.9" height="14.3" fill="#7f7f7f"/><rect x="1286.9" y="1176.7" width="13.9" height="14.3" fill="#808080"/><rect x="1300.5" y="1176.7" width="13.9" height="14.3" fill="#818181"/><rect x="1314" y="1176.7" width="13.9" height="14.3" fill="#828282"/><rect x="1327.6" y="1176.7" width="68.2" height="14.3" fill="#838383"/><rect x="947.2" y="1190.7" width="41.1" height="14.3" fill="#797979"/><rect x="988" y="1190.7" width="13.9" height="14.3" fill="#787878"/><rect x="1001.6" y="1190.7" width="13.9" height="14.3" fill="#777777"/><rect x="1015.2" y="1190.7" width="13.9" height="14.3" fill="#767676"/><rect x="1028.8" y="1190.7" width="27.5" height="14.3" fill="#747474"/><rect x="1055.9" y="1190.7" width="95.4" height="14.3" fill="#737373"/><rect x="1151" y="1190.7" width="13.9" height="14.3" fill="#747474"/><rect x="1164.6" y="1190.7" width="13.9" height="14.3" fill="#757575"/><rect x="1178.2" y="1190.7" width="13.9" height="14.3" fill="#767676"/><rect x="1191.8" y="1190.7" width="13.9" height="14.3" fill="#777777"/><rect x="1205.4" y="1190.7" width="13.9" height="14.3" fill="#797979"/><rect x="1218.9" y="1190.7" width="13.9" height="14.3" fill="#7b7b7b"/><rect x="1232.5" y="1190.7" width="13.9" height="14.3" fill="#7c7c7c"/><rect x="1246.1" y="1190.7" width="13.9" height="14.3" fill="#7e7e7e"/><rect x="1259.7" y="1190.7" width="13.9" height="14.3" fill="#7f7f7f"/><rect x="1273.3" y="1190.7" width="13.9" height="14.3" fill="#808080"/><rect x="1286.9" y="1190.7" width="13.9" height="14.3" fill="#818181"/><rect x="1300.5" y="1190.7" width="27.5" height="14.3" fill="#828282"/><rect x="1327.6" y="1190.7" width="68.2" height="14.3" fill="#838383"/><rect x="947.2" y="1204.7" width="41.1" height="14.3" fill="#7e7e7e"/><rect x="988" y="1204.7" width="13.9" height="14.3" fill="#7d7d7d"/><rect x="1001.6" y="1204.7" width="27.5" height="14.3" fill="#7c7c7c"/><rect x="1028.8" y="1204.7" width="41.1" height="14.3" fill="#7b7b7b"/><rect x="1069.5" y="1204.7" width="68.2" height="14.3" fill="#7a7a7a"/><rect x="1137.4" y="1204.7" width="41.1" height="14.3" fill="#7b7b7b"/><rect x="1178.2" y="1204.7" width="13.9" height="14.3" fill="#7c7c7c"/><rect x="1191.8" y="1204.7" width="13.9" height="14.3" fill="#7d7d7d"/><rect x="1205.4" y="1204.7" width="27.5" height="14.3" fill="#7e7e7e"/><rect x="1232.5" y="1204.7" width="13.9" height="14.3" fill="#7f7f7f"/><rect x="1246.1" y="1204.7" width="13.9" height="14.3" fill="#808080"/><rect x="1259.7" y="1204.7" width="27.5" height="14.3" fill="#818181"/><rect x="1286.9" y="1204.7" width="27.5" height="14.3" fill="#828282"/><rect x="1314" y="1204.7" width="81.8" height="14.3" fill="#838383"/><rect x="947.2" y="1218.6" width="54.6" height="14.3" fill="#808080"/><rect x="1001.6" y="1218.6" width="41.1" height="14.3" fill="#7f7f7f"/><rect x="1042.3" y="1218.6" width="109" height="14.3" fill="#7e7e7e"/><rect x="1151" y="1218.6" width="41.1" height="14.3" fill="#7f7f7f"/><rect x="1191.8" y="1218.6" width="41.1" height="14.3" fill="#808080"/><rect x="1232.5" y="1218.6" width="27.5" height="14.3" fill="#818181"/><rect x="1259.7" y="1218.6" width="41.1" height="14.3" fill="#828282"/><rect x="1300.5" y="1218.6" width="41.1" height="14.3" fill="#838383"/><rect x="1341.2" y="1218.6" width="54.6" height="14.3" fill="#848484"/><rect x="947.2" y="1232.6" width="68.2" height="14.3" fill="#818181"/><rect x="1015.2" y="1232.6" width="163.3" height="14.3" fill="#808080"/><rect x="1178.2" y="1232.6" width="54.6" height="14.3" fill="#818181"/><rect x="1232.5" y="1232.6" width="41.1" height="14.3" fill="#828282"/><rect x="1273.3" y="1232.6" width="54.6" height="14.3" fill="#838383"/><rect x="1327.6" y="1232.6" width="68.2" height="14.3" fill="#848484"/><rect x="947.2" y="1246.6" width="54.6" height="14.3" fill="#828282"/><rect x="1001.6" y="1246.6" width="190.5" height="14.3" fill="#818181"/><rect x="1191.8" y="1246.6" width="68.2" height="14.3" fill="#828282"/><rect x="1259.7" y="1246.6" width="54.6" height="14.3" fill="#838383"/><rect x="1314" y="1246.6" width="81.8" height="14.3" fill="#848484"/><rect x="947.2" y="1260.6" width="136.2" height="14.3" fill="#828282"/><rect x="1083.1" y="1260.6" width="41.1" height="14.3" fill="#818181"/><rect x="1123.9" y="1260.6" width="95.4" height="14.3" fill="#828282"/><rect x="1218.9" y="1260.6" width="81.8" height="14.3" fill="#838383"/><rect x="1300.5" y="1260.6" width="95.4" height="14.3" fill="#848484"/><rect x="947.2" y="1274.6" width="68.2" height="14.3" fill="#838383"/><rect x="1015.2" y="1274.6" width="163.3" height="14.3" fill="#828282"/><rect x="1178.2" y="1274.6" width="95.4" height="14.3" fill="#838383"/><rect x="1273.3" y="1274.6" width="122.6" height="14.3" fill="#848484"/><rect x="947.2" y="1288.6" width="299.2" height="14.3" fill="#838383"/><rect x="1246.1" y="1288.6" width="149.7" height="14.3" fill="#848484"/><rect x="947.2" y="1302.6" width="54.6" height="14.3" fill="#848484"/><rect x="1001.6" y="1302.6" width="204.1" height="14.3" fill="#838383"/><rect x="1205.4" y="1302.6" width="190.5" height="14.3" fill="#848484"/><rect x="947.2" y="1316.6" width="81.8" height="14.3" fill="#848484"/><rect x="1028.8" y="1316.6" width="136.2" height="14.3" fill="#838383"/><rect x="1164.6" y="1316.6" width="231.2" height="14.3" fill="#848484"/><rect x="947.2" y="1330.6" width="81.8" height="14.3" fill="#848484"/><rect x="1028.8" y="1330.6" width="136.2" height="14.3" fill="#838383"/><rect x="1164.6" y="1330.6" width="231.2" height="14.3" fill="#848484"/><rect x="947.2" y="1344.6" width="81.8" height="14.3" fill="#848484"/><rect x="1028.8" y="1344.6" width="136.2" height="14.3" fill="#838383"/><rect x="1164.6" y="1344.6" width="231.2" height="14.3" fill="#848484"/></g></g>
<g clip-path="url(#cpd2)"><g filter="url(#hfd2)" shape-rendering="crispEdges"><rect x="1496.7" y="675.9" width="445.4" height="14.2" fill="#858585"/><rect x="1496.7" y="689.8" width="445.4" height="14.2" fill="#858585"/><rect x="1496.7" y="703.7" width="445.4" height="14.2" fill="#858585"/><rect x="1496.7" y="717.6" width="445.4" height="14.2" fill="#858585"/><rect x="1496.7" y="731.5" width="445.4" height="14.2" fill="#858585"/><rect x="1496.7" y="745.4" width="445.4" height="14.2" fill="#858585"/><rect x="1496.7" y="759.3" width="135.2" height="14.2" fill="#858585"/><rect x="1631.6" y="759.3" width="148.7" height="14.2" fill="#868686"/><rect x="1780" y="759.3" width="162.2" height="14.2" fill="#858585"/><rect x="1496.7" y="773.2" width="108.2" height="14.2" fill="#858585"/><rect x="1604.6" y="773.2" width="40.8" height="14.2" fill="#868686"/><rect x="1645.1" y="773.2" width="27.3" height="14.2" fill="#878787"/><rect x="1672.1" y="773.2" width="81.2" height="14.2" fill="#888888"/><rect x="1753" y="773.2" width="27.3" height="14.2" fill="#878787"/><rect x="1780" y="773.2" width="27.3" height="14.2" fill="#868686"/><rect x="1807" y="773.2" width="135.2" height="14.2" fill="#858585"/><rect x="1496.7" y="787" width="94.7" height="14.2" fill="#858585"/><rect x="1591.2" y="787" width="27.3" height="14.2" fill="#868686"/><rect x="1618.1" y="787" width="13.8" height="14.2" fill="#878787"/><rect x="1631.6" y="787" width="13.8" height="14.2" fill="#888888"/><rect x="1645.1" y="787" width="13.8" height="14.2" fill="#898989"/><rect x="1658.6" y="787" width="13.8" height="14.2" fill="#8a8a8a"/><rect x="1672.1" y="787" width="67.7" height="14.2" fill="#8b8b8b"/><rect x="1739.5" y="787" width="13.8" height="14.2" fill="#8a8a8a"/><rect x="1753" y="787" width="13.8" height="14.2" fill="#898989"/><rect x="1766.5" y="787" width="13.8" height="14.2" fill="#888888"/><rect x="1780" y="787" width="27.3" height="14.2" fill="#878787"/><rect x="1807" y="787" width="27.3" height="14.2" fill="#868686"/><rect x="1834" y="787" width="108.2" height="14.2" fill="#858585"/><rect x="1496.7" y="800.9" width="81.2" height="14.2" fill="#858585"/><rect x="1577.7" y="800.9" width="13.8" height="14.2" fill="#868686"/><rect x="1591.2" y="800.9" width="13.8" height="14.2" fill="#878787"/><rect x="1604.6" y="800.9" width="13.8" height="14.2" fill="#888888"/><rect x="1618.1" y="800.9" width="13.8" height="14.2" fill="#898989"/><rect x="1631.6" y="800.9" width="13.8" height="14.2" fill="#8a8a8a"/><rect x="1645.1" y="800.9" width="13.8" height="14.2" fill="#8c8c8c"/><rect x="1658.6" y="800.9" width="13.8" height="14.2" fill="#8d8d8d"/><rect x="1672.1" y="800.9" width="13.8" height="14.2" fill="#8f8f8f"/><rect x="1685.6" y="800.9" width="40.8" height="14.2" fill="#909090"/><rect x="1726" y="800.9" width="13.8" height="14.2" fill="#8f8f8f"/><rect x="1739.5" y="800.9" width="13.8" height="14.2" fill="#8e8e8e"/><rect x="1753" y="800.9" width="13.8" height="14.2" fill="#8d8d8d"/><rect x="1766.5" y="800.9" width="13.8" height="14.2" fill="#8b8b8b"/><rect x="1780" y="800.9" width="13.8" height="14.2" fill="#898989"/><rect x="1793.5" y="800.9" width="13.8" height="14.2" fill="#888888"/><rect x="1807" y="800.9" width="13.8" height="14.2" fill="#878787"/><rect x="1820.5" y="800.9" width="27.3" height="14.2" fill="#868686"/><rect x="1847.4" y="800.9" width="94.7" height="14.2" fill="#858585"/><rect x="1496.7" y="814.8" width="67.7" height="14.2" fill="#858585"/><rect x="1564.2" y="814.8" width="13.8" height="14.2" fill="#868686"/><rect x="1577.7" y="814.8" width="13.8" height="14.2" fill="#878787"/><rect x="1591.2" y="814.8" width="13.8" height="14.2" fill="#888888"/><rect x="1604.6" y="814.8" width="13.8" height="14.2" fill="#898989"/><rect x="1618.1" y="814.8" width="13.8" height="14.2" fill="#8b8b8b"/><rect x="1631.6" y="814.8" width="13.8" height="14.2" fill="#8e8e8e"/><rect x="1645.1" y="814.8" width="13.8" height="14.2" fill="#909090"/><rect x="1658.6" y="814.8" width="13.8" height="14.2" fill="#939393"/><rect x="1672.1" y="814.8" width="13.8" height="14.2" fill="#959595"/><rect x="1685.6" y="814.8" width="13.8" height="14.2" fill="#969696"/><rect x="1699.1" y="814.8" width="27.3" height="14.2" fill="#979797"/><rect x="1726" y="814.8" width="13.8" height="14.2" fill="#959595"/><rect x="1739.5" y="814.8" width="13.8" height="14.2" fill="#939393"/><rect x="1753" y="814.8" width="13.8" height="14.2" fill="#919191"/><rect x="1766.5" y="814.8" width="13.8" height="14.2" fill="#8f8f8f"/><rect x="1780" y="814.8" width="13.8" height="14.2" fill="#8c8c8c"/><rect x="1793.5" y="814.8" width="13.8" height="14.2" fill="#8a8a8a"/><rect x="1807" y="814.8" width="13.8" height="14.2" fill="#888888"/><rect x="1820.5" y="814.8" width="13.8" height="14.2" fill="#878787"/><rect x="1834" y="814.8" width="27.3" height="14.2" fill="#868686"/><rect x="1860.9" y="814.8" width="81.2" height="14.2" fill="#858585"/><rect x="1496.7" y="828.7" width="54.3" height="14.2" fill="#858585"/><rect x="1550.7" y="828.7" width="27.3" height="14.2" fill="#868686"/><rect x="1577.7" y="828.7" width="13.8" height="14.2" fill="#878787"/><rect x="1591.2" y="828.7" width="13.8" height="14.2" fill="#898989"/><rect x="1604.6" y="828.7" width="13.8" height="14.2" fill="#8b8b8b"/><rect x="1618.1" y="828.7" width="13.8" height="14.2" fill="#8e8e8e"/><rect x="1631.6" y="828.7" width="13.8" height="14.2" fill="#919191"/><rect x="1645.1" y="828.7" width="13.8" height="14.2" fill="#959595"/><rect x="1658.6" y="828.7" width="13.8" height="14.2" fill="#999999"/><rect x="1672.1" y="828.7" width="13.8" height="14.2" fill="#9c9c9c"/><rect x="1685.6" y="828.7" width="13.8" height="14.2" fill="#9e9e9e"/><rect x="1699.1" y="828.7" width="13.8" height="14.2" fill="#9f9f9f"/><rect x="1712.6" y="828.7" width="13.8" height="14.2" fill="#9e9e9e"/><rect x="1726" y="828.7" width="13.8" height="14.2" fill="#9d9d9d"/><rect x="1739.5" y="828.7" width="13.8" height="14.2" fill="#9a9a9a"/><rect x="1753" y="828.7" width="13.8" height="14.2" fill="#979797"/><rect x="1766.5" y="828.7" width="13.8" height="14.2" fill="#939393"/><rect x="1780" y="828.7" width="13.8" height="14.2" fill="#8f8f8f"/><rect x="1793.5" y="828.7" width="13.8" height="14.2" fill="#8c8c8c"/><rect x="1807" y="828.7" width="13.8" height="14.2" fill="#8a8a8a"/><rect x="1820.5" y="828.7" width="13.8" height="14.2" fill="#888888"/><rect x="1834" y="828.7" width="13.8" height="14.2" fill="#878787"/><rect x="1847.4" y="828.7" width="13.8" height="14.2" fill="#868686"/><rect x="1860.9" y="828.7" width="81.2" height="14.2" fill="#858585"/><rect x="1496.7" y="842.6" width="54.3" height="14.2" fill="#858585"/><rect x="1550.7" y="842.6" width="13.8" height="14.2" fill="#868686"/><rect x="1564.2" y="842.6" width="13.8" height="14.2" fill="#878787"/><rect x="1577.7" y="842.6" width="13.8" height="14.2" fill="#888888"/><rect x="1591.2" y="842.6" width="13.8" height="14.2" fill="#8a8a8a"/><rect x="1604.6" y="842.6" width="13.8" height="14.2" fill="#8d8d8d"/><rect x="1618.1" y="842.6" width="13.8" height="14.2" fill="#919191"/><rect x="1631.6" y="842.6" width="13.8" height="14.2" fill="#959595"/><rect x="1645.1" y="842.6" width="13.8" height="14.2" fill="#9a9a9a"/><rect x="1658.6" y="842.6" width="13.8" height="14.2" fill="#9f9f9f"/><rect x="1672.1" y="842.6" width="13.8" height="14.2" fill="#a3a3a3"/><rect x="1685.6" y="842.6" width="13.8" height="14.2" fill="#a6a6a6"/><rect x="1699.1" y="842.6" width="27.3" height="14.2" fill="#a7a7a7"/><rect x="1726" y="842.6" width="13.8" height="14.2" fill="#a4a4a4"/><rect x="1739.5" y="842.6" width="13.8" height="14.2" fill="#a1a1a1"/><rect x="1753" y="842.6" width="13.8" height="14.2" fill="#9c9c9c"/><rect x="1766.5" y="842.6" width="13.8" height="14.2" fill="#979797"/><rect x="1780" y="842.6" width="13.8" height="14.2" fill="#939393"/><rect x="1793.5" y="842.6" width="13.8" height="14.2" fill="#8f8f8f"/><rect x="1807" y="842.6" width="13.8" height="14.2" fill="#8b8b8b"/><rect x="1820.5" y="842.6" width="13.8" height="14.2" fill="#898989"/><rect x="1834" y="842.6" width="13.8" height="14.2" fill="#878787"/><rect x="1847.4" y="842.6" width="27.3" height="14.2" fill="#868686"/><rect x="1874.4" y="842.6" width="67.7" height="14.2" fill="#858585"/><rect x="1496.7" y="856.5" width="40.8" height="14.2" fill="#858585"/><rect x="1537.2" y="856.5" width="27.3" height="14.2" fill="#868686"/><rect x="1564.2" y="856.5" width="13.8" height="14.2" fill="#888888"/><rect x="1577.7" y="856.5" width="13.8" height="14.2" fill="#898989"/><rect x="1591.2" y="856.5" width="13.8" height="14.2" fill="#8c8c8c"/><rect x="1604.6" y="856.5" width="13.8" height="14.2" fill="#909090"/><rect x="1618.1" y="856.5" width="13.8" height="14.2" fill="#949494"/><rect x="1631.6" y="856.5" width="13.8" height="14.2" fill="#999999"/><rect x="1645.1" y="856.5" width="13.8" height="14.2" fill="#9f9f9f"/><rect x="1658.6" y="856.5" width="13.8" height="14.2" fill="#a5a5a5"/><rect x="1672.1" y="856.5" width="13.8" height="14.2" fill="#aaaaaa"/><rect x="1685.6" y="856.5" width="13.8" height="14.2" fill="#adadad"/><rect x="1699.1" y="856.5" width="27.3" height="14.2" fill="#aeaeae"/><rect x="1726" y="856.5" width="13.8" height="14.2" fill="#ababab"/><rect x="1739.5" y="856.5" width="13.8" height="14.2" fill="#a6a6a6"/><rect x="1753" y="856.5" width="13.8" height="14.2" fill="#a1a1a1"/><rect x="1766.5" y="856.5" width="13.8" height="14.2" fill="#9b9b9b"/><rect x="1780" y="856.5" width="13.8" height="14.2" fill="#959595"/><rect x="1793.5" y="856.5" width="13.8" height="14.2" fill="#919191"/><rect x="1807" y="856.5" width="13.8" height="14.2" fill="#8d8d8d"/><rect x="1820.5" y="856.5" width="13.8" height="14.2" fill="#8a8a8a"/><rect x="1834" y="856.5" width="13.8" height="14.2" fill="#888888"/><rect x="1847.4" y="856.5" width="13.8" height="14.2" fill="#878787"/><rect x="1860.9" y="856.5" width="13.8" height="14.2" fill="#868686"/><rect x="1874.4" y="856.5" width="67.7" height="14.2" fill="#858585"/><rect x="1496.7" y="870.4" width="40.8" height="14.2" fill="#868686"/><rect x="1537.2" y="870.4" width="13.8" height="14.2" fill="#878787"/><rect x="1550.7" y="870.4" width="13.8" height="14.2" fill="#888888"/><rect x="1564.2" y="870.4" width="13.8" height="14.2" fill="#8a8a8a"/><rect x="1577.7" y="870.4" width="13.8" height="14.2" fill="#8c8c8c"/><rect x="1591.2" y="870.4" width="13.8" height="14.2" fill="#909090"/><rect x="1604.6" y="870.4" width="13.8" height="14.2" fill="#949494"/><rect x="1618.1" y="870.4" width="13.8" height="14.2" fill="#999999"/><rect x="1631.6" y="870.4" width="13.8" height="14.2" fill="#9f9f9f"/><rect x="1645.1" y="870.4" width="13.8" height="14.2" fill="#a5a5a5"/><rect x="1658.6" y="870.4" width="13.8" height="14.2" fill="#ababab"/><rect x="1672.1" y="870.4" width="13.8" height="14.2" fill="#b1b1b1"/><rect x="1685.6" y="870.4" width="13.8" height="14.2" fill="#b4b4b4"/><rect x="1699.1" y="870.4" width="13.8" height="14.2" fill="#b5b5b5"/><rect x="1712.6" y="870.4" width="13.8" height="14.2" fill="#b4b4b4"/><rect x="1726" y="870.4" width="13.8" height="14.2" fill="#b0b0b0"/><rect x="1739.5" y="870.4" width="13.8" height="14.2" fill="#ababab"/><rect x="1753" y="870.4" width="13.8" height="14.2" fill="#a4a4a4"/><rect x="1766.5" y="870.4" width="13.8" height="14.2" fill="#9e9e9e"/><rect x="1780" y="870.4" width="13.8" height="14.2" fill="#979797"/><rect x="1793.5" y="870.4" width="13.8" height="14.2" fill="#929292"/><rect x="1807" y="870.4" width="13.8" height="14.2" fill="#8d8d8d"/><rect x="1820.5" y="870.4" width="13.8" height="14.2" fill="#8a8a8a"/><rect x="1834" y="870.4" width="13.8" height="14.2" fill="#888888"/><rect x="1847.4" y="870.4" width="13.8" height="14.2" fill="#878787"/><rect x="1860.9" y="870.4" width="13.8" height="14.2" fill="#868686"/><rect x="1874.4" y="870.4" width="67.7" height="14.2" fill="#858585"/><rect x="1496.7" y="884.3" width="40.8" height="14.2" fill="#888888"/><rect x="1537.2" y="884.3" width="13.8" height="14.2" fill="#898989"/><rect x="1550.7" y="884.3" width="13.8" height="14.2" fill="#8b8b8b"/><rect x="1564.2" y="884.3" width="13.8" height="14.2" fill="#8f8f8f"/><rect x="1577.7" y="884.3" width="13.8" height="14.2" fill="#939393"/><rect x="1591.2" y="884.3" width="13.8" height="14.2" fill="#989898"/><rect x="1604.6" y="884.3" width="13.8" height="14.2" fill="#9d9d9d"/><rect x="1618.1" y="884.3" width="13.8" height="14.2" fill="#a3a3a3"/><rect x="1631.6" y="884.3" width="13.8" height="14.2" fill="#aaaaaa"/><rect x="1645.1" y="884.3" width="13.8" height="14.2" fill="#b0b0b0"/><rect x="1658.6" y="884.3" width="13.8" height="14.2" fill="#b6b6b6"/><rect x="1672.1" y="884.3" width="13.8" height="14.2" fill="#bbbbbb"/><rect x="1685.6" y="884.3" width="13.8" height="14.2" fill="#bdbdbd"/><rect x="1699.1" y="884.3" width="13.8" height="14.2" fill="#bebebe"/><rect x="1712.6" y="884.3" width="13.8" height="14.2" fill="#bbbbbb"/><rect x="1726" y="884.3" width="13.8" height="14.2" fill="#b6b6b6"/><rect x="1739.5" y="884.3" width="13.8" height="14.2" fill="#afafaf"/><rect x="1753" y="884.3" width="13.8" height="14.2" fill="#a7a7a7"/><rect x="1766.5" y="884.3" width="13.8" height="14.2" fill="#9f9f9f"/><rect x="1780" y="884.3" width="13.8" height="14.2" fill="#989898"/><rect x="1793.5" y="884.3" width="13.8" height="14.2" fill="#929292"/><rect x="1807" y="884.3" width="13.8" height="14.2" fill="#8e8e8e"/><rect x="1820.5" y="884.3" width="13.8" height="14.2" fill="#8a8a8a"/><rect x="1834" y="884.3" width="13.8" height="14.2" fill="#888888"/><rect x="1847.4" y="884.3" width="13.8" height="14.2" fill="#878787"/><rect x="1860.9" y="884.3" width="13.8" height="14.2" fill="#868686"/><rect x="1874.4" y="884.3" width="67.7" height="14.2" fill="#858585"/><rect x="1496.7" y="898.1" width="40.8" height="14.2" fill="#8b8b8b"/><rect x="1537.2" y="898.1" width="13.8" height="14.2" fill="#8d8d8d"/><rect x="1550.7" y="898.1" width="13.8" height="14.2" fill="#919191"/><rect x="1564.2" y="898.1" width="13.8" height="14.2" fill="#979797"/><rect x="1577.7" y="898.1" width="13.8" height="14.2" fill="#9d9d9d"/><rect x="1591.2" y="898.1" width="13.8" height="14.2" fill="#a5a5a5"/><rect x="1604.6" y="898.1" width="13.8" height="14.2" fill="#acacac"/><rect x="1618.1" y="898.1" width="13.8" height="14.2" fill="#b3b3b3"/><rect x="1631.6" y="898.1" width="13.8" height="14.2" fill="#bababa"/><rect x="1645.1" y="898.1" width="13.8" height="14.2" fill="#c0c0c0"/><rect x="1658.6" y="898.1" width="13.8" height="14.2" fill="#c5c5c5"/><rect x="1672.1" y="898.1" width="13.8" height="14.2" fill="#c9c9c9"/><rect x="1685.6" y="898.1" width="13.8" height="14.2" fill="#cacaca"/><rect x="1699.1" y="898.1" width="13.8" height="14.2" fill="#c8c8c8"/><rect x="1712.6" y="898.1" width="13.8" height="14.2" fill="#c3c3c3"/><rect x="1726" y="898.1" width="13.8" height="14.2" fill="#bcbcbc"/><rect x="1739.5" y="898.1" width="13.8" height="14.2" fill="#b3b3b3"/><rect x="1753" y="898.1" width="13.8" height="14.2" fill="#aaaaaa"/><rect x="1766.5" y="898.1" width="13.8" height="14.2" fill="#a0a0a0"/><rect x="1780" y="898.1" width="13.8" height="14.2" fill="#989898"/><rect x="1793.5" y="898.1" width="13.8" height="14.2" fill="#929292"/><rect x="1807" y="898.1" width="13.8" height="14.2" fill="#8d8d8d"/><rect x="1820.5" y="898.1" width="13.8" height="14.2" fill="#8a8a8a"/><rect x="1834" y="898.1" width="13.8" height="14.2" fill="#888888"/><rect x="1847.4" y="898.1" width="27.3" height="14.2" fill="#868686"/><rect x="1874.4" y="898.1" width="67.7" height="14.2" fill="#858585"/><rect x="1496.7" y="912" width="40.8" height="14.2" fill="#8e8e8e"/><rect x="1537.2" y="912" width="13.8" height="14.2" fill="#909090"/><rect x="1550.7" y="912" width="13.8" height="14.2" fill="#979797"/><rect x="1564.2" y="912" width="13.8" height="14.2" fill="#9f9f9f"/><rect x="1577.7" y="912" width="13.8" height="14.2" fill="#a8a8a8"/><rect x="1591.2" y="912" width="13.8" height="14.2" fill="#b3b3b3"/><rect x="1604.6" y="912" width="13.8" height="14.2" fill="#bdbdbd"/><rect x="1618.1" y="912" width="13.8" height="14.2" fill="#c5c5c5"/><rect x="1631.6" y="912" width="13.8" height="14.2" fill="#cbcbcb"/><rect x="1645.1" y="912" width="13.8" height="14.2" fill="#cfcfcf"/><rect x="1658.6" y="912" width="13.8" height="14.2" fill="#d2d2d2"/><rect x="1672.1" y="912" width="13.8" height="14.2" fill="#d4d4d4"/><rect x="1685.6" y="912" width="13.8" height="14.2" fill="#d3d3d3"/><rect x="1699.1" y="912" width="13.8" height="14.2" fill="#d0d0d0"/><rect x="1712.6" y="912" width="13.8" height="14.2" fill="#c9c9c9"/><rect x="1726" y="912" width="13.8" height="14.2" fill="#c0c0c0"/><rect x="1739.5" y="912" width="13.8" height="14.2" fill="#b5b5b5"/><rect x="1753" y="912" width="13.8" height="14.2" fill="#aaaaaa"/><rect x="1766.5" y="912" width="13.8" height="14.2" fill="#a0a0a0"/><rect x="1780" y="912" width="13.8" height="14.2" fill="#979797"/><rect x="1793.5" y="912" width="13.8" height="14.2" fill="#919191"/><rect x="1807" y="912" width="13.8" height="14.2" fill="#8c8c8c"/><rect x="1820.5" y="912" width="13.8" height="14.2" fill="#898989"/><rect x="1834" y="912" width="13.8" height="14.2" fill="#878787"/><rect x="1847.4" y="912" width="13.8" height="14.2" fill="#868686"/><rect x="1860.9" y="912" width="81.2" height="14.2" fill="#858585"/><rect x="1496.7" y="925.9" width="40.8" height="14.2" fill="#8f8f8f"/><rect x="1537.2" y="925.9" width="13.8" height="14.2" fill="#929292"/><rect x="1550.7" y="925.9" width="13.8" height="14.2" fill="#9a9a9a"/><rect x="1564.2" y="925.9" width="13.8" height="14.2" fill="#a4a4a4"/><rect x="1577.7" y="925.9" width="13.8" height="14.2" fill="#b1b1b1"/><rect x="1591.2" y="925.9" width="13.8" height="14.2" fill="#c0c0c0"/><rect x="1604.6" y="925.9" width="13.8" height="14.2" fill="#cecece"/><rect x="1618.1" y="925.9" width="13.8" height="14.2" fill="#d9d9d9"/><rect x="1631.6" y="925.9" width="13.8" height="14.2" fill="#dedede"/><rect x="1645.1" y="925.9" width="13.8" height="14.2" fill="#dddddd"/><rect x="1658.6" y="925.9" width="13.8" height="14.2" fill="#dadada"/><rect x="1672.1" y="925.9" width="13.8" height="14.2" fill="#d7d7d7"/><rect x="1685.6" y="925.9" width="13.8" height="14.2" fill="#d4d4d4"/><rect x="1699.1" y="925.9" width="13.8" height="14.2" fill="#cecece"/><rect x="1712.6" y="925.9" width="13.8" height="14.2" fill="#c7c7c7"/><rect x="1726" y="925.9" width="13.8" height="14.2" fill="#bdbdbd"/><rect x="1739.5" y="925.9" width="13.8" height="14.2" fill="#b2b2b2"/><rect x="1753" y="925.9" width="13.8" height="14.2" fill="#a7a7a7"/><rect x="1766.5" y="925.9" width="13.8" height="14.2" fill="#9d9d9d"/><rect x="1780" y="925.9" width="13.8" height="14.2" fill="#959595"/><rect x="1793.5" y="925.9" width="13.8" height="14.2" fill="#8f8f8f"/><rect x="1807" y="925.9" width="13.8" height="14.2" fill="#8b8b8b"/><rect x="1820.5" y="925.9" width="13.8" height="14.2" fill="#888888"/><rect x="1834" y="925.9" width="13.8" height="14.2" fill="#878787"/><rect x="1847.4" y="925.9" width="13.8" height="14.2" fill="#868686"/><rect x="1860.9" y="925.9" width="81.2" height="14.2" fill="#858585"/><rect x="1496.7" y="939.8" width="40.8" height="14.2" fill="#8f8f8f"/><rect x="1537.2" y="939.8" width="13.8" height="14.2" fill="#929292"/><rect x="1550.7" y="939.8" width="13.8" height="14.2" fill="#9a9a9a"/><rect x="1564.2" y="939.8" width="13.8" height="14.2" fill="#a5a5a5"/><rect x="1577.7" y="939.8" width="13.8" height="14.2" fill="#b5b5b5"/><rect x="1591.2" y="939.8" width="13.8" height="14.2" fill="#c9c9c9"/><rect x="1604.6" y="939.8" width="13.8" height="14.2" fill="#dddddd"/><rect x="1618.1" y="939.8" width="13.8" height="14.2" fill="#eaeaea"/><rect x="1631.6" y="939.8" width="13.8" height="14.2" fill="#ededed"/><rect x="1645.1" y="939.8" width="13.8" height="14.2" fill="#e6e6e6"/><rect x="1658.6" y="939.8" width="13.8" height="14.2" fill="#dcdcdc"/><rect x="1672.1" y="939.8" width="13.8" height="14.2" fill="#d4d4d4"/><rect x="1685.6" y="939.8" width="13.8" height="14.2" fill="#cdcdcd"/><rect x="1699.1" y="939.8" width="13.8" height="14.2" fill="#c7c7c7"/><rect x="1712.6" y="939.8" width="13.8" height="14.2" fill="#bfbfbf"/><rect x="1726" y="939.8" width="13.8" height="14.2" fill="#b5b5b5"/><rect x="1739.5" y="939.8" width="13.8" height="14.2" fill="#ababab"/><rect x="1753" y="939.8" width="13.8" height="14.2" fill="#a1a1a1"/><rect x="1766.5" y="939.8" width="13.8" height="14.2" fill="#999999"/><rect x="1780" y="939.8" width="13.8" height="14.2" fill="#929292"/><rect x="1793.5" y="939.8" width="13.8" height="14.2" fill="#8d8d8d"/><rect x="1807" y="939.8" width="13.8" height="14.2" fill="#898989"/><rect x="1820.5" y="939.8" width="13.8" height="14.2" fill="#878787"/><rect x="1834" y="939.8" width="13.8" height="14.2" fill="#868686"/><rect x="1847.4" y="939.8" width="94.7" height="14.2" fill="#858585"/><rect x="1496.7" y="953.7" width="40.8" height="14.2" fill="#8d8d8d"/><rect x="1537.2" y="953.7" width="13.8" height="14.2" fill="#8f8f8f"/><rect x="1550.7" y="953.7" width="13.8" height="14.2" fill="#969696"/><rect x="1564.2" y="953.7" width="13.8" height="14.2" fill="#a0a0a0"/><rect x="1577.7" y="953.7" width="13.8" height="14.2" fill="#aeaeae"/><rect x="1591.2" y="953.7" width="13.8" height="14.2" fill="#bfbfbf"/><rect x="1604.6" y="953.7" width="13.8" height="14.2" fill="#d0d0d0"/><rect x="1618.1" y="953.7" width="13.8" height="14.2" fill="#dbdbdb"/><rect x="1631.6" y="953.7" width="13.8" height="14.2" fill="#dddddd"/><rect x="1645.1" y="953.7" width="13.8" height="14.2" fill="#d6d6d6"/><rect x="1658.6" y="953.7" width="13.8" height="14.2" fill="#cdcdcd"/><rect x="1672.1" y="953.7" width="13.8" height="14.2" fill="#c5c5c5"/><rect x="1685.6" y="953.7" width="13.8" height="14.2" fill="#bfbfbf"/><rect x="1699.1" y="953.7" width="13.8" height="14.2" fill="#b9b9b9"/><rect x="1712.6" y="953.7" width="13.8" height="14.2" fill="#b2b2b2"/><rect x="1726" y="953.7" width="13.8" height="14.2" fill="#aaaaaa"/><rect x="1739.5" y="953.7" width="13.8" height="14.2" fill="#a2a2a2"/><rect x="1753" y="953.7" width="13.8" height="14.2" fill="#9a9a9a"/><rect x="1766.5" y="953.7" width="13.8" height="14.2" fill="#939393"/><rect x="1780" y="953.7" width="13.8" height="14.2" fill="#8e8e8e"/><rect x="1793.5" y="953.7" width="13.8" height="14.2" fill="#8a8a8a"/><rect x="1807" y="953.7" width="13.8" height="14.2" fill="#878787"/><rect x="1820.5" y="953.7" width="13.8" height="14.2" fill="#868686"/><rect x="1834" y="953.7" width="27.3" height="14.2" fill="#858585"/><rect x="1860.9" y="953.7" width="81.2" height="14.2" fill="#848484"/><rect x="1496.7" y="967.6" width="40.8" height="14.2" fill="#898989"/><rect x="1537.2" y="967.6" width="13.8" height="14.2" fill="#8b8b8b"/><rect x="1550.7" y="967.6" width="13.8" height="14.2" fill="#8f8f8f"/><rect x="1564.2" y="967.6" width="13.8" height="14.2" fill="#949494"/><rect x="1577.7" y="967.6" width="13.8" height="14.2" fill="#9c9c9c"/><rect x="1591.2" y="967.6" width="13.8" height="14.2" fill="#a5a5a5"/><rect x="1604.6" y="967.6" width="13.8" height="14.2" fill="#adadad"/><rect x="1618.1" y="967.6" width="13.8" height="14.2" fill="#b3b3b3"/><rect x="1631.6" y="967.6" width="13.8" height="14.2" fill="#b4b4b4"/><rect x="1645.1" y="967.6" width="13.8" height="14.2" fill="#b2b2b2"/><rect x="1658.6" y="967.6" width="13.8" height="14.2" fill="#afafaf"/><rect x="1672.1" y="967.6" width="13.8" height="14.2" fill="#ababab"/><rect x="1685.6" y="967.6" width="13.8" height="14.2" fill="#a8a8a8"/><rect x="1699.1" y="967.6" width="13.8" height="14.2" fill="#a5a5a5"/><rect x="1712.6" y="967.6" width="13.8" height="14.2" fill="#a1a1a1"/><rect x="1726" y="967.6" width="13.8" height="14.2" fill="#9c9c9c"/><rect x="1739.5" y="967.6" width="13.8" height="14.2" fill="#969696"/><rect x="1753" y="967.6" width="13.8" height="14.2" fill="#919191"/><rect x="1766.5" y="967.6" width="13.8" height="14.2" fill="#8d8d8d"/><rect x="1780" y="967.6" width="13.8" height="14.2" fill="#8a8a8a"/><rect x="1793.5" y="967.6" width="13.8" height="14.2" fill="#878787"/><rect x="1807" y="967.6" width="13.8" height="14.2" fill="#868686"/><rect x="1820.5" y="967.6" width="13.8" height="14.2" fill="#858585"/><rect x="1834" y="967.6" width="108.2" height="14.2" fill="#848484"/><rect x="1496.7" y="981.5" width="40.8" height="14.2" fill="#858585"/><rect x="1537.2" y="981.5" width="13.8" height="14.2" fill="#868686"/><rect x="1550.7" y="981.5" width="13.8" height="14.2" fill="#878787"/><rect x="1564.2" y="981.5" width="13.8" height="14.2" fill="#8a8a8a"/><rect x="1577.7" y="981.5" width="13.8" height="14.2" fill="#8c8c8c"/><rect x="1591.2" y="981.5" width="13.8" height="14.2" fill="#8f8f8f"/><rect x="1604.6" y="981.5" width="13.8" height="14.2" fill="#929292"/><rect x="1618.1" y="981.5" width="13.8" height="14.2" fill="#949494"/><rect x="1631.6" y="981.5" width="40.8" height="14.2" fill="#959595"/><rect x="1672.1" y="981.5" width="13.8" height="14.2" fill="#949494"/><rect x="1685.6" y="981.5" width="13.8" height="14.2" fill="#939393"/><rect x="1699.1" y="981.5" width="13.8" height="14.2" fill="#929292"/><rect x="1712.6" y="981.5" width="13.8" height="14.2" fill="#909090"/><rect x="1726" y="981.5" width="13.8" height="14.2" fill="#8e8e8e"/><rect x="1739.5" y="981.5" width="13.8" height="14.2" fill="#8b8b8b"/><rect x="1753" y="981.5" width="13.8" height="14.2" fill="#898989"/><rect x="1766.5" y="981.5" width="13.8" height="14.2" fill="#878787"/><rect x="1780" y="981.5" width="13.8" height="14.2" fill="#868686"/><rect x="1793.5" y="981.5" width="13.8" height="14.2" fill="#858585"/><rect x="1807" y="981.5" width="135.2" height="14.2" fill="#848484"/><rect x="1496.7" y="995.4" width="54.3" height="14.2" fill="#818181"/><rect x="1550.7" y="995.4" width="27.3" height="14.2" fill="#828282"/><rect x="1577.7" y="995.4" width="27.3" height="14.2" fill="#838383"/><rect x="1604.6" y="995.4" width="13.8" height="14.2" fill="#848484"/><rect x="1618.1" y="995.4" width="40.8" height="14.2" fill="#858585"/><rect x="1658.6" y="995.4" width="54.3" height="14.2" fill="#868686"/><rect x="1712.6" y="995.4" width="27.3" height="14.2" fill="#858585"/><rect x="1739.5" y="995.4" width="27.3" height="14.2" fill="#848484"/><rect x="1766.5" y="995.4" width="81.2" height="14.2" fill="#838383"/><rect x="1847.4" y="995.4" width="94.7" height="14.2" fill="#848484"/><rect x="1496.7" y="1009.3" width="54.3" height="14.2" fill="#7d7d7d"/><rect x="1550.7" y="1009.3" width="94.7" height="14.2" fill="#7c7c7c"/><rect x="1645.1" y="1009.3" width="40.8" height="14.2" fill="#7d7d7d"/><rect x="1685.6" y="1009.3" width="40.8" height="14.2" fill="#7e7e7e"/><rect x="1726" y="1009.3" width="27.3" height="14.2" fill="#7f7f7f"/><rect x="1753" y="1009.3" width="27.3" height="14.2" fill="#808080"/><rect x="1780" y="1009.3" width="27.3" height="14.2" fill="#818181"/><rect x="1807" y="1009.3" width="27.3" height="14.2" fill="#828282"/><rect x="1834" y="1009.3" width="40.8" height="14.2" fill="#838383"/><rect x="1874.4" y="1009.3" width="67.7" height="14.2" fill="#848484"/><rect x="1496.7" y="1023.1" width="54.3" height="14.2" fill="#777777"/><rect x="1550.7" y="1023.1" width="13.8" height="14.2" fill="#757575"/><rect x="1564.2" y="1023.1" width="13.8" height="14.2" fill="#747474"/><rect x="1577.7" y="1023.1" width="67.7" height="14.2" fill="#737373"/><rect x="1645.1" y="1023.1" width="27.3" height="14.2" fill="#747474"/><rect x="1672.1" y="1023.1" width="13.8" height="14.2" fill="#757575"/><rect x="1685.6" y="1023.1" width="27.3" height="14.2" fill="#767676"/><rect x="1712.6" y="1023.1" width="13.8" height="14.2" fill="#777777"/><rect x="1726" y="1023.1" width="13.8" height="14.2" fill="#787878"/><rect x="1739.5" y="1023.1" width="13.8" height="14.2" fill="#7a7a7a"/><rect x="1753" y="1023.1" width="13.8" height="14.2" fill="#7b7b7b"/><rect x="1766.5" y="1023.1" width="13.8" height="14.2" fill="#7c7c7c"/><rect x="1780" y="1023.1" width="13.8" height="14.2" fill="#7e7e7e"/><rect x="1793.5" y="1023.1" width="13.8" height="14.2" fill="#7f7f7f"/><rect x="1807" y="1023.1" width="13.8" height="14.2" fill="#808080"/><rect x="1820.5" y="1023.1" width="13.8" height="14.2" fill="#818181"/><rect x="1834" y="1023.1" width="13.8" height="14.2" fill="#828282"/><rect x="1847.4" y="1023.1" width="40.8" height="14.2" fill="#838383"/><rect x="1887.9" y="1023.1" width="54.3" height="14.2" fill="#848484"/><rect x="1496.7" y="1037" width="40.8" height="14.2" fill="#6e6e6e"/><rect x="1537.2" y="1037" width="13.8" height="14.2" fill="#6d6d6d"/><rect x="1550.7" y="1037" width="13.8" height="14.2" fill="#6a6a6a"/><rect x="1564.2" y="1037" width="13.8" height="14.2" fill="#686868"/><rect x="1577.7" y="1037" width="40.8" height="14.2" fill="#666666"/><rect x="1618.1" y="1037" width="27.3" height="14.2" fill="#676767"/><rect x="1645.1" y="1037" width="13.8" height="14.2" fill="#686868"/><rect x="1658.6" y="1037" width="13.8" height="14.2" fill="#696969"/><rect x="1672.1" y="1037" width="13.8" height="14.2" fill="#6a6a6a"/><rect x="1685.6" y="1037" width="13.8" height="14.2" fill="#6b6b6b"/><rect x="1699.1" y="1037" width="13.8" height="14.2" fill="#6c6c6c"/><rect x="1712.6" y="1037" width="13.8" height="14.2" fill="#6e6e6e"/><rect x="1726" y="1037" width="13.8" height="14.2" fill="#707070"/><rect x="1739.5" y="1037" width="13.8" height="14.2" fill="#727272"/><rect x="1753" y="1037" width="13.8" height="14.2" fill="#747474"/><rect x="1766.5" y="1037" width="13.8" height="14.2" fill="#777777"/><rect x="1780" y="1037" width="13.8" height="14.2" fill="#797979"/><rect x="1793.5" y="1037" width="13.8" height="14.2" fill="#7c7c7c"/><rect x="1807" y="1037" width="13.8" height="14.2" fill="#7e7e7e"/><rect x="1820.5" y="1037" width="13.8" height="14.2" fill="#808080"/><rect x="1834" y="1037" width="13.8" height="14.2" fill="#818181"/><rect x="1847.4" y="1037" width="13.8" height="14.2" fill="#828282"/><rect x="1860.9" y="1037" width="40.8" height="14.2" fill="#838383"/><rect x="1901.4" y="1037" width="40.8" height="14.2" fill="#848484"/><rect x="1496.7" y="1050.9" width="40.8" height="14.2" fill="#636363"/><rect x="1537.2" y="1050.9" width="13.8" height="14.2" fill="#606060"/><rect x="1550.7" y="1050.9" width="13.8" height="14.2" fill="#5b5b5b"/><rect x="1564.2" y="1050.9" width="13.8" height="14.2" fill="#575757"/><rect x="1577.7" y="1050.9" width="27.3" height="14.2" fill="#565656"/><rect x="1604.6" y="1050.9" width="13.8" height="14.2" fill="#575757"/><rect x="1618.1" y="1050.9" width="13.8" height="14.2" fill="#585858"/><rect x="1631.6" y="1050.9" width="13.8" height="14.2" fill="#595959"/><rect x="1645.1" y="1050.9" width="13.8" height="14.2" fill="#5a5a5a"/><rect x="1658.6" y="1050.9" width="13.8" height="14.2" fill="#5b5b5b"/><rect x="1672.1" y="1050.9" width="13.8" height="14.2" fill="#5d5d5d"/><rect x="1685.6" y="1050.9" width="13.8" height="14.2" fill="#5e5e5e"/><rect x="1699.1" y="1050.9" width="13.8" height="14.2" fill="#606060"/><rect x="1712.6" y="1050.9" width="13.8" height="14.2" fill="#636363"/><rect x="1726" y="1050.9" width="13.8" height="14.2" fill="#656565"/><rect x="1739.5" y="1050.9" width="13.8" height="14.2" fill="#696969"/><rect x="1753" y="1050.9" width="13.8" height="14.2" fill="#6d6d6d"/><rect x="1766.5" y="1050.9" width="13.8" height="14.2" fill="#717171"/><rect x="1780" y="1050.9" width="13.8" height="14.2" fill="#747474"/><rect x="1793.5" y="1050.9" width="13.8" height="14.2" fill="#787878"/><rect x="1807" y="1050.9" width="13.8" height="14.2" fill="#7b7b7b"/><rect x="1820.5" y="1050.9" width="13.8" height="14.2" fill="#7e7e7e"/><rect x="1834" y="1050.9" width="13.8" height="14.2" fill="#808080"/><rect x="1847.4" y="1050.9" width="13.8" height="14.2" fill="#818181"/><rect x="1860.9" y="1050.9" width="13.8" height="14.2" fill="#828282"/><rect x="1874.4" y="1050.9" width="67.7" height="14.2" fill="#838383"/><rect x="1496.7" y="1064.8" width="40.8" height="14.2" fill="#575757"/><rect x="1537.2" y="1064.8" width="13.8" height="14.2" fill="#525252"/><rect x="1550.7" y="1064.8" width="13.8" height="14.2" fill="#464646"/><rect x="1564.2" y="1064.8" width="13.8" height="14.2" fill="#3e3e3e"/><rect x="1577.7" y="1064.8" width="13.8" height="14.2" fill="#3f3f3f"/><rect x="1591.2" y="1064.8" width="13.8" height="14.2" fill="#454545"/><rect x="1604.6" y="1064.8" width="13.8" height="14.2" fill="#484848"/><rect x="1618.1" y="1064.8" width="13.8" height="14.2" fill="#4a4a4a"/><rect x="1631.6" y="1064.8" width="13.8" height="14.2" fill="#4b4b4b"/><rect x="1645.1" y="1064.8" width="13.8" height="14.2" fill="#4d4d4d"/><rect x="1658.6" y="1064.8" width="13.8" height="14.2" fill="#4f4f4f"/><rect x="1672.1" y="1064.8" width="13.8" height="14.2" fill="#515151"/><rect x="1685.6" y="1064.8" width="13.8" height="14.2" fill="#535353"/><rect x="1699.1" y="1064.8" width="13.8" height="14.2" fill="#555555"/><rect x="1712.6" y="1064.8" width="13.8" height="14.2" fill="#585858"/><rect x="1726" y="1064.8" width="13.8" height="14.2" fill="#5c5c5c"/><rect x="1739.5" y="1064.8" width="13.8" height="14.2" fill="#616161"/><rect x="1753" y="1064.8" width="13.8" height="14.2" fill="#666666"/><rect x="1766.5" y="1064.8" width="13.8" height="14.2" fill="#6b6b6b"/><rect x="1780" y="1064.8" width="13.8" height="14.2" fill="#707070"/><rect x="1793.5" y="1064.8" width="13.8" height="14.2" fill="#757575"/><rect x="1807" y="1064.8" width="13.8" height="14.2" fill="#797979"/><rect x="1820.5" y="1064.8" width="13.8" height="14.2" fill="#7c7c7c"/><rect x="1834" y="1064.8" width="13.8" height="14.2" fill="#7f7f7f"/><rect x="1847.4" y="1064.8" width="13.8" height="14.2" fill="#808080"/><rect x="1860.9" y="1064.8" width="27.3" height="14.2" fill="#828282"/><rect x="1887.9" y="1064.8" width="54.3" height="14.2" fill="#838383"/><rect x="1496.7" y="1078.7" width="40.8" height="14.2" fill="#4d4d4d"/><rect x="1537.2" y="1078.7" width="13.8" height="14.2" fill="#454545"/><rect x="1550.7" y="1078.7" width="13.8" height="14.2" fill="#313131"/><rect x="1564.2" y="1078.7" width="13.8" height="14.2" fill="#232323"/><rect x="1577.7" y="1078.7" width="13.8" height="14.2" fill="#292929"/><rect x="1591.2" y="1078.7" width="13.8" height="14.2" fill="#363636"/><rect x="1604.6" y="1078.7" width="13.8" height="14.2" fill="#3c3c3c"/><rect x="1618.1" y="1078.7" width="13.8" height="14.2" fill="#3f3f3f"/><rect x="1631.6" y="1078.7" width="13.8" height="14.2" fill="#414141"/><rect x="1645.1" y="1078.7" width="13.8" height="14.2" fill="#444444"/><rect x="1658.6" y="1078.7" width="13.8" height="14.2" fill="#464646"/><rect x="1672.1" y="1078.7" width="13.8" height="14.2" fill="#484848"/><rect x="1685.6" y="1078.7" width="13.8" height="14.2" fill="#4a4a4a"/><rect x="1699.1" y="1078.7" width="13.8" height="14.2" fill="#4d4d4d"/><rect x="1712.6" y="1078.7" width="13.8" height="14.2" fill="#515151"/><rect x="1726" y="1078.7" width="13.8" height="14.2" fill="#565656"/><rect x="1739.5" y="1078.7" width="13.8" height="14.2" fill="#5b5b5b"/><rect x="1753" y="1078.7" width="13.8" height="14.2" fill="#616161"/><rect x="1766.5" y="1078.7" width="13.8" height="14.2" fill="#676767"/><rect x="1780" y="1078.7" width="13.8" height="14.2" fill="#6d6d6d"/><rect x="1793.5" y="1078.7" width="13.8" height="14.2" fill="#727272"/><rect x="1807" y="1078.7" width="13.8" height="14.2" fill="#777777"/><rect x="1820.5" y="1078.7" width="13.8" height="14.2" fill="#7b7b7b"/><rect x="1834" y="1078.7" width="13.8" height="14.2" fill="#7e7e7e"/><rect x="1847.4" y="1078.7" width="13.8" height="14.2" fill="#808080"/><rect x="1860.9" y="1078.7" width="13.8" height="14.2" fill="#818181"/><rect x="1874.4" y="1078.7" width="13.8" height="14.2" fill="#828282"/><rect x="1887.9" y="1078.7" width="54.3" height="14.2" fill="#838383"/><rect x="1496.7" y="1092.6" width="40.8" height="14.2" fill="#484848"/><rect x="1537.2" y="1092.6" width="13.8" height="14.2" fill="#3f3f3f"/><rect x="1550.7" y="1092.6" width="13.8" height="14.2" fill="#292929"/><rect x="1564.2" y="1092.6" width="13.8" height="14.2" fill="#1b1b1b"/><rect x="1577.7" y="1092.6" width="13.8" height="14.2" fill="#212121"/><rect x="1591.2" y="1092.6" width="13.8" height="14.2" fill="#2f2f2f"/><rect x="1604.6" y="1092.6" width="13.8" height="14.2" fill="#363636"/><rect x="1618.1" y="1092.6" width="13.8" height="14.2" fill="#393939"/><rect x="1631.6" y="1092.6" width="13.8" height="14.2" fill="#3c3c3c"/><rect x="1645.1" y="1092.6" width="13.8" height="14.2" fill="#3e3e3e"/><rect x="1658.6" y="1092.6" width="13.8" height="14.2" fill="#414141"/><rect x="1672.1" y="1092.6" width="13.8" height="14.2" fill="#434343"/><rect x="1685.6" y="1092.6" width="13.8" height="14.2" fill="#464646"/><rect x="1699.1" y="1092.6" width="13.8" height="14.2" fill="#494949"/><rect x="1712.6" y="1092.6" width="13.8" height="14.2" fill="#4d4d4d"/><rect x="1726" y="1092.6" width="13.8" height="14.2" fill="#525252"/><rect x="1739.5" y="1092.6" width="13.8" height="14.2" fill="#585858"/><rect x="1753" y="1092.6" width="13.8" height="14.2" fill="#5e5e5e"/><rect x="1766.5" y="1092.6" width="13.8" height="14.2" fill="#656565"/><rect x="1780" y="1092.6" width="13.8" height="14.2" fill="#6b6b6b"/><rect x="1793.5" y="1092.6" width="13.8" height="14.2" fill="#717171"/><rect x="1807" y="1092.6" width="13.8" height="14.2" fill="#767676"/><rect x="1820.5" y="1092.6" width="13.8" height="14.2" fill="#7a7a7a"/><rect x="1834" y="1092.6" width="13.8" height="14.2" fill="#7d7d7d"/><rect x="1847.4" y="1092.6" width="13.8" height="14.2" fill="#808080"/><rect x="1860.9" y="1092.6" width="13.8" height="14.2" fill="#818181"/><rect x="1874.4" y="1092.6" width="13.8" height="14.2" fill="#828282"/><rect x="1887.9" y="1092.6" width="54.3" height="14.2" fill="#838383"/><rect x="1496.7" y="1106.5" width="40.8" height="14.2" fill="#484848"/><rect x="1537.2" y="1106.5" width="13.8" height="14.2" fill="#414141"/><rect x="1550.7" y="1106.5" width="13.8" height="14.2" fill="#323232"/><rect x="1564.2" y="1106.5" width="13.8" height="14.2" fill="#282828"/><rect x="1577.7" y="1106.5" width="13.8" height="14.2" fill="#292929"/><rect x="1591.2" y="1106.5" width="13.8" height="14.2" fill="#303030"/><rect x="1604.6" y="1106.5" width="13.8" height="14.2" fill="#343434"/><rect x="1618.1" y="1106.5" width="13.8" height="14.2" fill="#373737"/><rect x="1631.6" y="1106.5" width="13.8" height="14.2" fill="#3a3a3a"/><rect x="1645.1" y="1106.5" width="13.8" height="14.2" fill="#3d3d3d"/><rect x="1658.6" y="1106.5" width="13.8" height="14.2" fill="#3f3f3f"/><rect x="1672.1" y="1106.5" width="13.8" height="14.2" fill="#424242"/><rect x="1685.6" y="1106.5" width="13.8" height="14.2" fill="#454545"/><rect x="1699.1" y="1106.5" width="13.8" height="14.2" fill="#484848"/><rect x="1712.6" y="1106.5" width="13.8" height="14.2" fill="#4c4c4c"/><rect x="1726" y="1106.5" width="13.8" height="14.2" fill="#515151"/><rect x="1739.5" y="1106.5" width="13.8" height="14.2" fill="#575757"/><rect x="1753" y="1106.5" width="13.8" height="14.2" fill="#5d5d5d"/><rect x="1766.5" y="1106.5" width="13.8" height="14.2" fill="#646464"/><rect x="1780" y="1106.5" width="13.8" height="14.2" fill="#6a6a6a"/><rect x="1793.5" y="1106.5" width="13.8" height="14.2" fill="#707070"/><rect x="1807" y="1106.5" width="13.8" height="14.2" fill="#767676"/><rect x="1820.5" y="1106.5" width="13.8" height="14.2" fill="#7a7a7a"/><rect x="1834" y="1106.5" width="13.8" height="14.2" fill="#7d7d7d"/><rect x="1847.4" y="1106.5" width="13.8" height="14.2" fill="#7f7f7f"/><rect x="1860.9" y="1106.5" width="13.8" height="14.2" fill="#818181"/><rect x="1874.4" y="1106.5" width="13.8" height="14.2" fill="#828282"/><rect x="1887.9" y="1106.5" width="54.3" height="14.2" fill="#838383"/><rect x="1496.7" y="1120.4" width="40.8" height="14.2" fill="#4a4a4a"/><rect x="1537.2" y="1120.4" width="13.8" height="14.2" fill="#454545"/><rect x="1550.7" y="1120.4" width="13.8" height="14.2" fill="#3c3c3c"/><rect x="1564.2" y="1120.4" width="13.8" height="14.2" fill="#353535"/><rect x="1577.7" y="1120.4" width="13.8" height="14.2" fill="#333333"/><rect x="1591.2" y="1120.4" width="13.8" height="14.2" fill="#343434"/><rect x="1604.6" y="1120.4" width="13.8" height="14.2" fill="#353535"/><rect x="1618.1" y="1120.4" width="13.8" height="14.2" fill="#383838"/><rect x="1631.6" y="1120.4" width="13.8" height="14.2" fill="#3a3a3a"/><rect x="1645.1" y="1120.4" width="13.8" height="14.2" fill="#3d3d3d"/><rect x="1658.6" y="1120.4" width="13.8" height="14.2" fill="#3f3f3f"/><rect x="1672.1" y="1120.4" width="13.8" height="14.2" fill="#424242"/><rect x="1685.6" y="1120.4" width="13.8" height="14.2" fill="#454545"/><rect x="1699.1" y="1120.4" width="13.8" height="14.2" fill="#484848"/><rect x="1712.6" y="1120.4" width="13.8" height="14.2" fill="#4c4c4c"/><rect x="1726" y="1120.4" width="13.8" height="14.2" fill="#515151"/><rect x="1739.5" y="1120.4" width="13.8" height="14.2" fill="#575757"/><rect x="1753" y="1120.4" width="13.8" height="14.2" fill="#5d5d5d"/><rect x="1766.5" y="1120.4" width="13.8" height="14.2" fill="#646464"/><rect x="1780" y="1120.4" width="13.8" height="14.2" fill="#6a6a6a"/><rect x="1793.5" y="1120.4" width="13.8" height="14.2" fill="#707070"/><rect x="1807" y="1120.4" width="13.8" height="14.2" fill="#767676"/><rect x="1820.5" y="1120.4" width="13.8" height="14.2" fill="#7a7a7a"/><rect x="1834" y="1120.4" width="13.8" height="14.2" fill="#7d7d7d"/><rect x="1847.4" y="1120.4" width="13.8" height="14.2" fill="#7f7f7f"/><rect x="1860.9" y="1120.4" width="13.8" height="14.2" fill="#818181"/><rect x="1874.4" y="1120.4" width="13.8" height="14.2" fill="#828282"/><rect x="1887.9" y="1120.4" width="54.3" height="14.2" fill="#838383"/><rect x="1496.7" y="1134.3" width="40.8" height="14.2" fill="#4d4d4d"/><rect x="1537.2" y="1134.3" width="13.8" height="14.2" fill="#494949"/><rect x="1550.7" y="1134.3" width="13.8" height="14.2" fill="#424242"/><rect x="1564.2" y="1134.3" width="13.8" height="14.2" fill="#3d3d3d"/><rect x="1577.7" y="1134.3" width="13.8" height="14.2" fill="#3a3a3a"/><rect x="1591.2" y="1134.3" width="27.3" height="14.2" fill="#393939"/><rect x="1618.1" y="1134.3" width="13.8" height="14.2" fill="#3b3b3b"/><rect x="1631.6" y="1134.3" width="13.8" height="14.2" fill="#3d3d3d"/><rect x="1645.1" y="1134.3" width="13.8" height="14.2" fill="#3f3f3f"/><rect x="1658.6" y="1134.3" width="13.8" height="14.2" fill="#424242"/><rect x="1672.1" y="1134.3" width="13.8" height="14.2" fill="#444444"/><rect x="1685.6" y="1134.3" width="13.8" height="14.2" fill="#464646"/><rect x="1699.1" y="1134.3" width="13.8" height="14.2" fill="#4a4a4a"/><rect x="1712.6" y="1134.3" width="13.8" height="14.2" fill="#4d4d4d"/><rect x="1726" y="1134.3" width="13.8" height="14.2" fill="#525252"/><rect x="1739.5" y="1134.3" width="13.8" height="14.2" fill="#585858"/><rect x="1753" y="1134.3" width="13.8" height="14.2" fill="#5e5e5e"/><rect x="1766.5" y="1134.3" width="13.8" height="14.2" fill="#646464"/><rect x="1780" y="1134.3" width="13.8" height="14.2" fill="#6b6b6b"/><rect x="1793.5" y="1134.3" width="13.8" height="14.2" fill="#717171"/><rect x="1807" y="1134.3" width="13.8" height="14.2" fill="#767676"/><rect x="1820.5" y="1134.3" width="13.8" height="14.2" fill="#7a7a7a"/><rect x="1834" y="1134.3" width="13.8" height="14.2" fill="#7d7d7d"/><rect x="1847.4" y="1134.3" width="13.8" height="14.2" fill="#7f7f7f"/><rect x="1860.9" y="1134.3" width="13.8" height="14.2" fill="#818181"/><rect x="1874.4" y="1134.3" width="13.8" height="14.2" fill="#828282"/><rect x="1887.9" y="1134.3" width="54.3" height="14.2" fill="#838383"/><rect x="1496.7" y="1148.1" width="40.8" height="14.2" fill="#535353"/><rect x="1537.2" y="1148.1" width="13.8" height="14.2" fill="#505050"/><rect x="1550.7" y="1148.1" width="13.8" height="14.2" fill="#4a4a4a"/><rect x="1564.2" y="1148.1" width="13.8" height="14.2" fill="#454545"/><rect x="1577.7" y="1148.1" width="13.8" height="14.2" fill="#424242"/><rect x="1591.2" y="1148.1" width="13.8" height="14.2" fill="#404040"/><rect x="1604.6" y="1148.1" width="13.8" height="14.2" fill="#414141"/><rect x="1618.1" y="1148.1" width="13.8" height="14.2" fill="#424242"/><rect x="1631.6" y="1148.1" width="13.8" height="14.2" fill="#434343"/><rect x="1645.1" y="1148.1" width="13.8" height="14.2" fill="#454545"/><rect x="1658.6" y="1148.1" width="13.8" height="14.2" fill="#474747"/><rect x="1672.1" y="1148.1" width="13.8" height="14.2" fill="#494949"/><rect x="1685.6" y="1148.1" width="13.8" height="14.2" fill="#4b4b4b"/><rect x="1699.1" y="1148.1" width="13.8" height="14.2" fill="#4e4e4e"/><rect x="1712.6" y="1148.1" width="13.8" height="14.2" fill="#525252"/><rect x="1726" y="1148.1" width="13.8" height="14.2" fill="#565656"/><rect x="1739.5" y="1148.1" width="13.8" height="14.2" fill="#5b5b5b"/><rect x="1753" y="1148.1" width="13.8" height="14.2" fill="#616161"/><rect x="1766.5" y="1148.1" width="13.8" height="14.2" fill="#676767"/><rect x="1780" y="1148.1" width="13.8" height="14.2" fill="#6d6d6d"/><rect x="1793.5" y="1148.1" width="13.8" height="14.2" fill="#727272"/><rect x="1807" y="1148.1" width="13.8" height="14.2" fill="#777777"/><rect x="1820.5" y="1148.1" width="13.8" height="14.2" fill="#7b7b7b"/><rect x="1834" y="1148.1" width="13.8" height="14.2" fill="#7e7e7e"/><rect x="1847.4" y="1148.1" width="13.8" height="14.2" fill="#808080"/><rect x="1860.9" y="1148.1" width="13.8" height="14.2" fill="#818181"/><rect x="1874.4" y="1148.1" width="13.8" height="14.2" fill="#828282"/><rect x="1887.9" y="1148.1" width="54.3" height="14.2" fill="#838383"/><rect x="1496.7" y="1162" width="40.8" height="14.2" fill="#5c5c5c"/><rect x="1537.2" y="1162" width="13.8" height="14.2" fill="#595959"/><rect x="1550.7" y="1162" width="13.8" height="14.2" fill="#545454"/><rect x="1564.2" y="1162" width="13.8" height="14.2" fill="#505050"/><rect x="1577.7" y="1162" width="13.8" height="14.2" fill="#4e4e4e"/><rect x="1591.2" y="1162" width="27.3" height="14.2" fill="#4c4c4c"/><rect x="1618.1" y="1162" width="13.8" height="14.2" fill="#4d4d4d"/><rect x="1631.6" y="1162" width="13.8" height="14.2" fill="#4e4e4e"/><rect x="1645.1" y="1162" width="13.8" height="14.2" fill="#4f4f4f"/><rect x="1658.6" y="1162" width="13.8" height="14.2" fill="#515151"/><rect x="1672.1" y="1162" width="13.8" height="14.2" fill="#525252"/><rect x="1685.6" y="1162" width="13.8" height="14.2" fill="#545454"/><rect x="1699.1" y="1162" width="13.8" height="14.2" fill="#565656"/><rect x="1712.6" y="1162" width="13.8" height="14.2" fill="#595959"/><rect x="1726" y="1162" width="13.8" height="14.2" fill="#5d5d5d"/><rect x="1739.5" y="1162" width="13.8" height="14.2" fill="#616161"/><rect x="1753" y="1162" width="13.8" height="14.2" fill="#666666"/><rect x="1766.5" y="1162" width="13.8" height="14.2" fill="#6b6b6b"/><rect x="1780" y="1162" width="13.8" height="14.2" fill="#707070"/><rect x="1793.5" y="1162" width="13.8" height="14.2" fill="#757575"/><rect x="1807" y="1162" width="13.8" height="14.2" fill="#797979"/><rect x="1820.5" y="1162" width="13.8" height="14.2" fill="#7c7c7c"/><rect x="1834" y="1162" width="13.8" height="14.2" fill="#7e7e7e"/><rect x="1847.4" y="1162" width="13.8" height="14.2" fill="#808080"/><rect x="1860.9" y="1162" width="13.8" height="14.2" fill="#818181"/><rect x="1874.4" y="1162" width="13.8" height="14.2" fill="#828282"/><rect x="1887.9" y="1162" width="54.3" height="14.2" fill="#838383"/><rect x="1496.7" y="1175.9" width="40.8" height="14.2" fill="#676767"/><rect x="1537.2" y="1175.9" width="13.8" height="14.2" fill="#646464"/><rect x="1550.7" y="1175.9" width="13.8" height="14.2" fill="#616161"/><rect x="1564.2" y="1175.9" width="13.8" height="14.2" fill="#5e5e5e"/><rect x="1577.7" y="1175.9" width="13.8" height="14.2" fill="#5c5c5c"/><rect x="1591.2" y="1175.9" width="40.8" height="14.2" fill="#5b5b5b"/><rect x="1631.6" y="1175.9" width="13.8" height="14.2" fill="#5c5c5c"/><rect x="1645.1" y="1175.9" width="27.3" height="14.2" fill="#5d5d5d"/><rect x="1672.1" y="1175.9" width="13.8" height="14.2" fill="#5f5f5f"/><rect x="1685.6" y="1175.9" width="13.8" height="14.2" fill="#606060"/><rect x="1699.1" y="1175.9" width="13.8" height="14.2" fill="#616161"/><rect x="1712.6" y="1175.9" width="13.8" height="14.2" fill="#646464"/><rect x="1726" y="1175.9" width="13.8" height="14.2" fill="#666666"/><rect x="1739.5" y="1175.9" width="13.8" height="14.2" fill="#6a6a6a"/><rect x="1753" y="1175.9" width="13.8" height="14.2" fill="#6d6d6d"/><rect x="1766.5" y="1175.9" width="13.8" height="14.2" fill="#717171"/><rect x="1780" y="1175.9" width="13.8" height="14.2" fill="#757575"/><rect x="1793.5" y="1175.9" width="13.8" height="14.2" fill="#787878"/><rect x="1807" y="1175.9" width="13.8" height="14.2" fill="#7b7b7b"/><rect x="1820.5" y="1175.9" width="13.8" height="14.2" fill="#7d7d7d"/><rect x="1834" y="1175.9" width="13.8" height="14.2" fill="#7f7f7f"/><rect x="1847.4" y="1175.9" width="13.8" height="14.2" fill="#818181"/><rect x="1860.9" y="1175.9" width="27.3" height="14.2" fill="#828282"/><rect x="1887.9" y="1175.9" width="54.3" height="14.2" fill="#838383"/><rect x="1496.7" y="1189.8" width="40.8" height="14.2" fill="#717171"/><rect x="1537.2" y="1189.8" width="13.8" height="14.2" fill="#6f6f6f"/><rect x="1550.7" y="1189.8" width="13.8" height="14.2" fill="#6d6d6d"/><rect x="1564.2" y="1189.8" width="13.8" height="14.2" fill="#6b6b6b"/><rect x="1577.7" y="1189.8" width="13.8" height="14.2" fill="#6a6a6a"/><rect x="1591.2" y="1189.8" width="54.3" height="14.2" fill="#696969"/><rect x="1645.1" y="1189.8" width="27.3" height="14.2" fill="#6a6a6a"/><rect x="1672.1" y="1189.8" width="13.8" height="14.2" fill="#6b6b6b"/><rect x="1685.6" y="1189.8" width="13.8" height="14.2" fill="#6c6c6c"/><rect x="1699.1" y="1189.8" width="13.8" height="14.2" fill="#6d6d6d"/><rect x="1712.6" y="1189.8" width="13.8" height="14.2" fill="#6e6e6e"/><rect x="1726" y="1189.8" width="13.8" height="14.2" fill="#707070"/><rect x="1739.5" y="1189.8" width="13.8" height="14.2" fill="#727272"/><rect x="1753" y="1189.8" width="13.8" height="14.2" fill="#757575"/><rect x="1766.5" y="1189.8" width="13.8" height="14.2" fill="#777777"/><rect x="1780" y="1189.8" width="13.8" height="14.2" fill="#797979"/><rect x="1793.5" y="1189.8" width="13.8" height="14.2" fill="#7c7c7c"/><rect x="1807" y="1189.8" width="13.8" height="14.2" fill="#7e7e7e"/><rect x="1820.5" y="1189.8" width="13.8" height="14.2" fill="#7f7f7f"/><rect x="1834" y="1189.8" width="13.8" height="14.2" fill="#808080"/><rect x="1847.4" y="1189.8" width="13.8" height="14.2" fill="#818181"/><rect x="1860.9" y="1189.8" width="13.8" height="14.2" fill="#828282"/><rect x="1874.4" y="1189.8" width="67.7" height="14.2" fill="#838383"/><rect x="1496.7" y="1203.7" width="54.3" height="14.2" fill="#787878"/><rect x="1550.7" y="1203.7" width="13.8" height="14.2" fill="#767676"/><rect x="1564.2" y="1203.7" width="13.8" height="14.2" fill="#757575"/><rect x="1577.7" y="1203.7" width="81.2" height="14.2" fill="#747474"/><rect x="1658.6" y="1203.7" width="27.3" height="14.2" fill="#757575"/><rect x="1685.6" y="1203.7" width="27.3" height="14.2" fill="#767676"/><rect x="1712.6" y="1203.7" width="13.8" height="14.2" fill="#777777"/><rect x="1726" y="1203.7" width="13.8" height="14.2" fill="#787878"/><rect x="1739.5" y="1203.7" width="13.8" height="14.2" fill="#797979"/><rect x="1753" y="1203.7" width="13.8" height="14.2" fill="#7b7b7b"/><rect x="1766.5" y="1203.7" width="13.8" height="14.2" fill="#7c7c7c"/><rect x="1780" y="1203.7" width="13.8" height="14.2" fill="#7d7d7d"/><rect x="1793.5" y="1203.7" width="13.8" height="14.2" fill="#7f7f7f"/><rect x="1807" y="1203.7" width="13.8" height="14.2" fill="#808080"/><rect x="1820.5" y="1203.7" width="27.3" height="14.2" fill="#818181"/><rect x="1847.4" y="1203.7" width="13.8" height="14.2" fill="#828282"/><rect x="1860.9" y="1203.7" width="81.2" height="14.2" fill="#838383"/><rect x="1496.7" y="1217.6" width="54.3" height="14.2" fill="#7d7d7d"/><rect x="1550.7" y="1217.6" width="27.3" height="14.2" fill="#7c7c7c"/><rect x="1577.7" y="1217.6" width="94.7" height="14.2" fill="#7b7b7b"/><rect x="1672.1" y="1217.6" width="40.8" height="14.2" fill="#7c7c7c"/><rect x="1712.6" y="1217.6" width="27.3" height="14.2" fill="#7d7d7d"/><rect x="1739.5" y="1217.6" width="27.3" height="14.2" fill="#7e7e7e"/><rect x="1766.5" y="1217.6" width="13.8" height="14.2" fill="#7f7f7f"/><rect x="1780" y="1217.6" width="13.8" height="14.2" fill="#808080"/><rect x="1793.5" y="1217.6" width="27.3" height="14.2" fill="#818181"/><rect x="1820.5" y="1217.6" width="27.3" height="14.2" fill="#828282"/><rect x="1847.4" y="1217.6" width="54.3" height="14.2" fill="#838383"/><rect x="1901.4" y="1217.6" width="40.8" height="14.2" fill="#848484"/><rect x="1496.7" y="1231.5" width="54.3" height="14.2" fill="#808080"/><rect x="1550.7" y="1231.5" width="54.3" height="14.2" fill="#7f7f7f"/><rect x="1604.6" y="1231.5" width="40.8" height="14.2" fill="#7e7e7e"/><rect x="1645.1" y="1231.5" width="81.2" height="14.2" fill="#7f7f7f"/><rect x="1726" y="1231.5" width="40.8" height="14.2" fill="#808080"/><rect x="1766.5" y="1231.5" width="27.3" height="14.2" fill="#818181"/><rect x="1793.5" y="1231.5" width="40.8" height="14.2" fill="#828282"/><rect x="1834" y="1231.5" width="54.3" height="14.2" fill="#838383"/><rect x="1887.9" y="1231.5" width="54.3" height="14.2" fill="#848484"/><rect x="1496.7" y="1245.4" width="81.2" height="14.2" fill="#818181"/><rect x="1577.7" y="1245.4" width="121.7" height="14.2" fill="#808080"/><rect x="1699.1" y="1245.4" width="67.7" height="14.2" fill="#818181"/><rect x="1766.5" y="1245.4" width="54.3" height="14.2" fill="#828282"/><rect x="1820.5" y="1245.4" width="54.3" height="14.2" fill="#838383"/><rect x="1874.4" y="1245.4" width="67.7" height="14.2" fill="#848484"/><rect x="1496.7" y="1259.2" width="67.7" height="14.2" fill="#828282"/><rect x="1564.2" y="1259.2" width="148.7" height="14.2" fill="#818181"/><rect x="1712.6" y="1259.2" width="81.2" height="14.2" fill="#828282"/><rect x="1793.5" y="1259.2" width="67.7" height="14.2" fill="#838383"/><rect x="1860.9" y="1259.2" width="81.2" height="14.2" fill="#848484"/><rect x="1496.7" y="1273.1" width="256.6" height="14.2" fill="#828282"/><rect x="1753" y="1273.1" width="81.2" height="14.2" fill="#838383"/><rect x="1834" y="1273.1" width="108.2" height="14.2" fill="#848484"/><rect x="1496.7" y="1287" width="94.7" height="14.2" fill="#838383"/><rect x="1591.2" y="1287" width="121.7" height="14.2" fill="#828282"/><rect x="1712.6" y="1287" width="94.7" height="14.2" fill="#838383"/><rect x="1807" y="1287" width="135.2" height="14.2" fill="#848484"/><rect x="1496.7" y="1300.9" width="283.6" height="14.2" fill="#838383"/><rect x="1780" y="1300.9" width="162.2" height="14.2" fill="#848484"/><rect x="1496.7" y="1314.8" width="270.1" height="14.2" fill="#838383"/><rect x="1766.5" y="1314.8" width="175.7" height="14.2" fill="#848484"/><rect x="1496.7" y="1328.7" width="270.1" height="14.2" fill="#838383"/><rect x="1766.5" y="1328.7" width="175.7" height="14.2" fill="#848484"/><rect x="1496.7" y="1342.6" width="270.1" height="14.2" fill="#838383"/><rect x="1766.5" y="1342.6" width="175.7" height="14.2" fill="#848484"/></g></g>
<rect x="1369.8" y="52" width="44.7" height="551.2" fill="url(#pg)" stroke="#000" stroke-width="1.2"/>
<rect x="1920.4" y="52" width="45" height="551.2" fill="url(#pg)" stroke="#000" stroke-width="1.2"/>
<rect x="1369.9" y="713.9" width="47.4" height="602.4" fill="url(#pg)" stroke="#000" stroke-width="1.2"/>
<rect x="1917.8" y="718.9" width="46.8" height="597.4" fill="url(#pg)" stroke="#000" stroke-width="1.2"/>
<path d="M985 230.6 H1209.5 A60 32.2 0 0 1 1209.5 295 H985" fill="none" stroke="#838383" stroke-width="3.4" stroke-dasharray="13.5 10.3"/>
<path d="M990 416 H1213 A58 32.7 0 0 1 1213 481.3 H990" fill="none" stroke="#838383" stroke-width="3.4" stroke-dasharray="13.5 10.3"/>
<path d="M1541 230.5 H1766 A55 32.5 0 0 1 1766 295.5 H1541" fill="none" stroke="#838383" stroke-width="3.4" stroke-dasharray="13.5 10.3"/>
<path d="M1545 416 H1770.3 A56 32.7 0 0 1 1770.3 481.3 H1545" fill="none" stroke="#838383" stroke-width="3.4" stroke-dasharray="13.5 10.3"/>
<path d="M994.4 842 H1171.7 A55.8 55.9 0 0 1 1171.7 953.7 H994.4" fill="none" stroke="#838383" stroke-width="3.4" stroke-dasharray="13.5 10.3"/>
<path d="M990 1073.3 H1168.8 A55.5 55.6 0 0 1 1168.8 1184.4 H990" fill="none" stroke="#838383" stroke-width="3.4" stroke-dasharray="13.5 10.3"/>
<path d="M1541.5 842 H1719.1 A55.8 55.9 0 0 1 1719.1 953.7 H1541.5" fill="none" stroke="#838383" stroke-width="3.4" stroke-dasharray="13.5 10.3"/>
<path d="M1541.5 1073.3 H1719.4 A55.5 55.6 0 0 1 1719.4 1184.4 H1541.5" fill="none" stroke="#838383" stroke-width="3.4" stroke-dasharray="13.5 10.3"/>
<g class="sans" font-size="56"><text class="sans" x="1031.2" y="280.3">S</text><text class="sans" x="1032.2" y="467.8">D</text></g>
<g class="sans" font-size="56"><text class="sans" x="1585" y="280">S</text><text class="sans" x="1586" y="468.6">D</text></g>
<g class="sans" font-size="56"><text class="sans" x="1032.6" y="915.4">S</text><text class="sans" x="1033.6" y="1146">D</text></g>
<g class="sans" font-size="56"><text class="sans" x="1586.5" y="915.4">S</text><text class="sans" x="1587.5" y="1146">D</text></g>
<rect x="1221.3" y="560" width="98.2" height="8" fill="#fff"/>
<rect x="1775.5" y="560" width="98" height="8" fill="#fff"/>
<rect x="1246.5" y="1277" width="72" height="7.3" fill="#fff"/>
<rect x="1792.2" y="1277" width="72" height="7.3" fill="#fff"/>
<text x="1503.6" y="36.7" font-size="46.8" text-anchor="end">Photocurrent (nA)</text>
<text x="2025.8" y="32.5" font-size="46.8" text-anchor="end">Photocurrent (nA)</text>
<text x="1481" y="695" font-size="49" text-anchor="end">Photocurrent (nA)</text>
<text x="2021.5" y="696.5" font-size="48.3" text-anchor="end">Photocurrent (nA)</text>
<text x="1347.5" y="97.4" font-size="46.4" text-anchor="end"><tspan class="it">V</tspan><tspan dy="13" font-size="30.6">ds</tspan><tspan dy="-13">= 0 mV</tspan></text>
<text x="1892.5" y="96.5" font-size="46.2" text-anchor="end"><tspan class="it">V</tspan><tspan dy="12.9" font-size="30.5">ds</tspan><tspan dy="-12.9">= 50 mV</tspan></text>
<text x="1346" y="763.5" font-size="48.7" text-anchor="end"><tspan class="it">V</tspan><tspan dy="13.6" font-size="32.1">ds</tspan><tspan dy="-13.6">= 0 mV</tspan></text>
<text x="1893.5" y="767" font-size="48.3" text-anchor="end"><tspan class="it">V</tspan><tspan dy="13.5" font-size="31.9">ds</tspan><tspan dy="-13.5">= 50 mV</tspan></text>
<text x="1421.5" y="78.2" font-size="37.3">112.0</text>
<text x="1423.6" y="597.4" font-size="37.4">-211.0</text>
<text x="1979.6" y="79" font-size="37.2">7.0</text>
<text x="1973" y="597.4" font-size="37.4">-482.0</text>
<text x="1434.2" y="745.6" font-size="38.5">5.2</text>
<text x="1432.6" y="1309.6" font-size="37.6">-5.3</text>
<text x="1977" y="749.2" font-size="38.3">5.2</text>
<text x="1974.8" y="1311.6" font-size="38">-4.6</text>
</svg></body></html>
